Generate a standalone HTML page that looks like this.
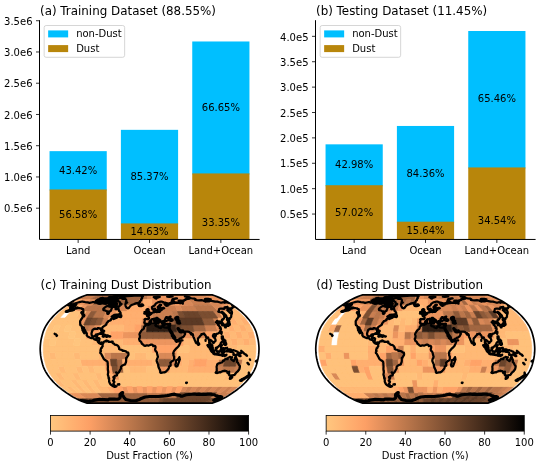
<!DOCTYPE html>
<html><head><meta charset="utf-8"><title>Dust dataset figure</title>
<style>html,body{margin:0;padding:0;background:#fff}svg{display:block}</style></head>
<body>
<svg width="550" height="463" viewBox="0 0 550 463" font-family="'DejaVu Sans','Liberation Sans',sans-serif" fill="#000">
<rect x="49.55" y="151.15" width="57.2" height="39.34" fill="#00bfff"/>
<rect x="49.55" y="189.49" width="57.2" height="49.96" fill="#b8860b"/>
<text x="78.15" y="173.57" text-anchor="middle" font-size="10">43.42%</text>
<text x="78.15" y="217.77" text-anchor="middle" font-size="10">56.58%</text>
<rect x="120.9" y="129.84" width="57.2" height="94.57" fill="#00bfff"/>
<rect x="120.9" y="223.42" width="57.2" height="16.03" fill="#b8860b"/>
<text x="149.5" y="179.88" text-anchor="middle" font-size="10">85.37%</text>
<text x="149.5" y="234.73" text-anchor="middle" font-size="10">14.63%</text>
<rect x="192.25" y="41.48" width="57.2" height="132.95" fill="#00bfff"/>
<rect x="192.25" y="173.43" width="57.2" height="66.02" fill="#b8860b"/>
<text x="220.85" y="110.71" text-anchor="middle" font-size="10">66.65%</text>
<text x="220.85" y="226.3" text-anchor="middle" font-size="10">33.35%</text>
<path d="M39.5 20.7 V239.45 H259.1" fill="none" stroke="#000" stroke-width="1" stroke-linecap="square"/>
<path d="M39.5 208.2h-3.5" stroke="#000" stroke-width="0.8"/>
<text x="32.5" y="212.4" text-anchor="end" font-size="10">0.5e6</text>
<path d="M39.5 176.96h-3.5" stroke="#000" stroke-width="0.8"/>
<text x="32.5" y="181.16" text-anchor="end" font-size="10">1.0e6</text>
<path d="M39.5 145.71h-3.5" stroke="#000" stroke-width="0.8"/>
<text x="32.5" y="149.91" text-anchor="end" font-size="10">1.5e6</text>
<path d="M39.5 114.47h-3.5" stroke="#000" stroke-width="0.8"/>
<text x="32.5" y="118.67" text-anchor="end" font-size="10">2.0e6</text>
<path d="M39.5 83.22h-3.5" stroke="#000" stroke-width="0.8"/>
<text x="32.5" y="87.42" text-anchor="end" font-size="10">2.5e6</text>
<path d="M39.5 51.98h-3.5" stroke="#000" stroke-width="0.8"/>
<text x="32.5" y="56.18" text-anchor="end" font-size="10">3.0e6</text>
<path d="M39.5 20.73h-3.5" stroke="#000" stroke-width="0.8"/>
<text x="32.5" y="24.93" text-anchor="end" font-size="10">3.5e6</text>
<path d="M78.15 239.45v3.5" stroke="#000" stroke-width="0.8"/>
<text x="78.15" y="253.75" text-anchor="middle" font-size="10">Land</text>
<path d="M149.5 239.45v3.5" stroke="#000" stroke-width="0.8"/>
<text x="149.5" y="253.75" text-anchor="middle" font-size="10">Ocean</text>
<path d="M220.85 239.45v3.5" stroke="#000" stroke-width="0.8"/>
<text x="220.85" y="253.75" text-anchor="middle" font-size="10">Land+Ocean</text>
<rect x="44.15" y="25.5" width="80.5" height="31.8" rx="2" ry="2" fill="#fff" fill-opacity="0.8" stroke="#ccc" stroke-width="0.8"/>
<rect x="48.15" y="30.4" width="20" height="7" fill="#00bfff"/>
<rect x="48.15" y="45.1" width="20" height="7" fill="#b8860b"/>
<text x="76.15" y="37.3" font-size="10">non-Dust</text>
<text x="76.15" y="52" font-size="10">Dust</text>
<text x="40" y="15.1" font-size="11.9">(a) Training Dataset (88.55%)</text>
<rect x="325.55" y="144.34" width="57.2" height="41.88" fill="#00bfff"/>
<rect x="325.55" y="185.22" width="57.2" height="54.23" fill="#b8860b"/>
<text x="354.15" y="168.03" text-anchor="middle" font-size="10">42.98%</text>
<text x="354.15" y="215.63" text-anchor="middle" font-size="10">57.02%</text>
<rect x="396.9" y="125.96" width="57.2" height="96.74" fill="#00bfff"/>
<rect x="396.9" y="221.7" width="57.2" height="17.75" fill="#b8860b"/>
<text x="425.5" y="177.08" text-anchor="middle" font-size="10">84.36%</text>
<text x="425.5" y="233.87" text-anchor="middle" font-size="10">15.64%</text>
<rect x="468.25" y="31" width="57.2" height="137.45" fill="#00bfff"/>
<rect x="468.25" y="167.44" width="57.2" height="72.01" fill="#b8860b"/>
<text x="496.85" y="102.47" text-anchor="middle" font-size="10">65.46%</text>
<text x="496.85" y="224.4" text-anchor="middle" font-size="10">34.54%</text>
<path d="M315.5 20.7 V239.45 H535.1" fill="none" stroke="#000" stroke-width="1" stroke-linecap="square"/>
<path d="M315.5 214.06h-3.5" stroke="#000" stroke-width="0.8"/>
<text x="308.5" y="218.26" text-anchor="end" font-size="10">0.5e5</text>
<path d="M315.5 188.67h-3.5" stroke="#000" stroke-width="0.8"/>
<text x="308.5" y="192.87" text-anchor="end" font-size="10">1.0e5</text>
<path d="M315.5 163.28h-3.5" stroke="#000" stroke-width="0.8"/>
<text x="308.5" y="167.48" text-anchor="end" font-size="10">1.5e5</text>
<path d="M315.5 137.89h-3.5" stroke="#000" stroke-width="0.8"/>
<text x="308.5" y="142.09" text-anchor="end" font-size="10">2.0e5</text>
<path d="M315.5 112.5h-3.5" stroke="#000" stroke-width="0.8"/>
<text x="308.5" y="116.7" text-anchor="end" font-size="10">2.5e5</text>
<path d="M315.5 87.11h-3.5" stroke="#000" stroke-width="0.8"/>
<text x="308.5" y="91.31" text-anchor="end" font-size="10">3.0e5</text>
<path d="M315.5 61.72h-3.5" stroke="#000" stroke-width="0.8"/>
<text x="308.5" y="65.92" text-anchor="end" font-size="10">3.5e5</text>
<path d="M315.5 36.33h-3.5" stroke="#000" stroke-width="0.8"/>
<text x="308.5" y="40.53" text-anchor="end" font-size="10">4.0e5</text>
<path d="M354.15 239.45v3.5" stroke="#000" stroke-width="0.8"/>
<text x="354.15" y="253.75" text-anchor="middle" font-size="10">Land</text>
<path d="M425.5 239.45v3.5" stroke="#000" stroke-width="0.8"/>
<text x="425.5" y="253.75" text-anchor="middle" font-size="10">Ocean</text>
<path d="M496.85 239.45v3.5" stroke="#000" stroke-width="0.8"/>
<text x="496.85" y="253.75" text-anchor="middle" font-size="10">Land+Ocean</text>
<rect x="320.15" y="25.5" width="80.5" height="31.8" rx="2" ry="2" fill="#fff" fill-opacity="0.8" stroke="#ccc" stroke-width="0.8"/>
<rect x="324.15" y="30.4" width="20" height="7" fill="#00bfff"/>
<rect x="324.15" y="45.1" width="20" height="7" fill="#b8860b"/>
<text x="352.15" y="37.3" font-size="10">non-Dust</text>
<text x="352.15" y="52" font-size="10">Dust</text>
<text x="316" y="15.1" font-size="11.9">(b) Testing Dataset (11.45%)</text>
<clipPath id="clipc"><path d="M212.2 403.12 L214.79 402.19 L217.57 401.09 L220.45 399.86 L223.25 398.55 L225.82 397.18 L228.21 395.77 L230.5 394.32 L232.71 392.82 L234.87 391.29 L236.97 389.73 L239 388.15 L240.95 386.53 L242.81 384.9 L244.55 383.25 L246.15 381.58 L247.64 379.89 L249.08 378.2 L250.42 376.49 L251.64 374.78 L252.73 373.07 L253.73 371.35 L254.62 369.63 L255.4 367.91 L256.05 366.19 L256.58 364.47 L257.05 362.75 L257.5 361.03 L257.91 359.31 L258.24 357.59 L258.5 355.88 L258.7 354.16 L258.85 352.44 L258.95 350.72 L259 349 L258.95 347.28 L258.85 345.56 L258.7 343.84 L258.5 342.12 L258.24 340.41 L257.91 338.69 L257.5 336.97 L257.05 335.25 L256.58 333.53 L256.05 331.81 L255.4 330.09 L254.62 328.37 L253.73 326.65 L252.73 324.93 L251.64 323.22 L250.42 321.51 L249.08 319.8 L247.64 318.11 L246.15 316.42 L244.55 314.75 L242.81 313.1 L240.95 311.47 L239 309.85 L236.97 308.27 L234.87 306.71 L232.71 305.18 L230.5 303.68 L228.21 302.23 L225.82 300.82 L223.25 299.45 L220.45 298.14 L217.57 296.91 L214.79 295.81 L212.2 294.88 L87 294.88 L84.41 295.81 L81.63 296.91 L78.75 298.14 L75.95 299.45 L73.38 300.82 L70.99 302.23 L68.7 303.68 L66.49 305.18 L64.33 306.71 L62.23 308.27 L60.2 309.85 L58.25 311.47 L56.39 313.1 L54.65 314.75 L53.05 316.42 L51.56 318.11 L50.12 319.8 L48.78 321.51 L47.56 323.22 L46.47 324.93 L45.47 326.65 L44.58 328.37 L43.8 330.09 L43.15 331.81 L42.62 333.53 L42.15 335.25 L41.7 336.97 L41.29 338.69 L40.96 340.41 L40.7 342.12 L40.5 343.84 L40.35 345.56 L40.25 347.28 L40.2 349 L40.25 350.72 L40.35 352.44 L40.5 354.16 L40.7 355.88 L40.96 357.59 L41.29 359.31 L41.7 361.03 L42.15 362.75 L42.62 364.47 L43.15 366.19 L43.8 367.91 L44.58 369.63 L45.47 371.35 L46.47 373.07 L47.56 374.78 L48.78 376.49 L50.12 378.2 L51.56 379.89 L53.05 381.58 L54.65 383.25 L56.39 384.9 L58.25 386.53 L60.2 388.15 L62.23 389.73 L64.33 391.29 L66.49 392.82 L68.7 394.32 L70.99 395.77 L73.38 397.18 L75.95 398.55 L78.75 399.86 L81.63 401.09 L84.41 402.19 L87 403.12 Z"/></clipPath>
<g clip-path="url(#clipc)">
<path d="M212.2 403.12 L214.79 402.19 L217.57 401.09 L220.45 399.86 L223.25 398.55 L225.82 397.18 L228.21 395.77 L230.5 394.32 L232.71 392.82 L234.87 391.29 L236.97 389.73 L239 388.15 L240.95 386.53 L242.81 384.9 L244.55 383.25 L246.15 381.58 L247.64 379.89 L249.08 378.2 L250.42 376.49 L251.64 374.78 L252.73 373.07 L253.73 371.35 L254.62 369.63 L255.4 367.91 L256.05 366.19 L256.58 364.47 L257.05 362.75 L257.5 361.03 L257.91 359.31 L258.24 357.59 L258.5 355.88 L258.7 354.16 L258.85 352.44 L258.95 350.72 L259 349 L258.95 347.28 L258.85 345.56 L258.7 343.84 L258.5 342.12 L258.24 340.41 L257.91 338.69 L257.5 336.97 L257.05 335.25 L256.58 333.53 L256.05 331.81 L255.4 330.09 L254.62 328.37 L253.73 326.65 L252.73 324.93 L251.64 323.22 L250.42 321.51 L249.08 319.8 L247.64 318.11 L246.15 316.42 L244.55 314.75 L242.81 313.1 L240.95 311.47 L239 309.85 L236.97 308.27 L234.87 306.71 L232.71 305.18 L230.5 303.68 L228.21 302.23 L225.82 300.82 L223.25 299.45 L220.45 298.14 L217.57 296.91 L214.79 295.81 L212.2 294.88 L87 294.88 L84.41 295.81 L81.63 296.91 L78.75 298.14 L75.95 299.45 L73.38 300.82 L70.99 302.23 L68.7 303.68 L66.49 305.18 L64.33 306.71 L62.23 308.27 L60.2 309.85 L58.25 311.47 L56.39 313.1 L54.65 314.75 L53.05 316.42 L51.56 318.11 L50.12 319.8 L48.78 321.51 L47.56 323.22 L46.47 324.93 L45.47 326.65 L44.58 328.37 L43.8 330.09 L43.15 331.81 L42.62 333.53 L42.15 335.25 L41.7 336.97 L41.29 338.69 L40.96 340.41 L40.7 342.12 L40.5 343.84 L40.35 345.56 L40.25 347.28 L40.2 349 L40.25 350.72 L40.35 352.44 L40.5 354.16 L40.7 355.88 L40.96 357.59 L41.29 359.31 L41.7 361.03 L42.15 362.75 L42.62 364.47 L43.15 366.19 L43.8 367.91 L44.58 369.63 L45.47 371.35 L46.47 373.07 L47.56 374.78 L48.78 376.49 L50.12 378.2 L51.56 379.89 L53.05 381.58 L54.65 383.25 L56.39 384.9 L58.25 386.53 L60.2 388.15 L62.23 389.73 L64.33 391.29 L66.49 392.82 L68.7 394.32 L70.99 395.77 L73.38 397.18 L75.95 398.55 L78.75 399.86 L81.63 401.09 L84.41 402.19 L87 403.12 Z" fill="#ffffff"/>
<path d="M92.22 294.88 L87.29 296.91 L82.09 299.45 L78 299.45 L83.52 296.91 L88.74 294.88ZM95.7 294.88 L91.07 296.91 L86.18 299.45 L82.09 299.45 L87.29 296.91 L92.22 294.88ZM99.17 294.88 L94.85 296.91 L90.27 299.45 L86.18 299.45 L91.07 296.91 L95.7 294.88ZM192.56 299.45 L195.46 302.23 L198.08 305.18 L193.46 305.18 L191.09 302.23 L188.47 299.45ZM196.65 299.45 L199.83 302.23 L202.7 305.18 L198.08 305.18 L195.46 302.23 L192.56 299.45ZM200.74 299.45 L204.19 302.23 L207.32 305.18 L202.7 305.18 L199.83 302.23 L196.65 299.45ZM204.84 299.45 L208.56 302.23 L211.93 305.18 L207.32 305.18 L204.19 302.23 L200.74 299.45ZM165.76 305.18 L166.59 308.27 L167.36 311.47 L162.29 311.47 L161.73 308.27 L161.14 305.18ZM170.38 305.18 L171.44 308.27 L172.44 311.47 L167.36 311.47 L166.59 308.27 L165.76 305.18ZM175 305.18 L176.3 308.27 L177.51 311.47 L172.44 311.47 L171.44 308.27 L170.38 305.18ZM184.23 305.18 L186 308.27 L187.66 311.47 L182.59 311.47 L181.15 308.27 L179.61 305.18ZM188.85 305.18 L190.86 308.27 L192.74 311.47 L187.66 311.47 L186 308.27 L184.23 305.18ZM193.46 305.18 L195.71 308.27 L197.81 311.47 L192.74 311.47 L190.86 308.27 L188.85 305.18ZM157.21 311.47 L157.51 314.75 L157.77 318.11 L152.32 318.11 L152.24 314.75 L152.14 311.47ZM162.29 311.47 L162.79 314.75 L163.22 318.11 L157.77 318.11 L157.51 314.75 L157.21 311.47ZM167.36 311.47 L168.06 314.75 L168.66 318.11 L163.22 318.11 L162.79 314.75 L162.29 311.47ZM172.44 311.47 L173.34 314.75 L174.11 318.11 L168.66 318.11 L168.06 314.75 L167.36 311.47ZM218.11 311.47 L220.81 314.75 L223.13 318.11 L217.69 318.11 L215.54 314.75 L213.04 311.47ZM108.75 318.11 L107.59 321.51 L106.63 324.93 L100.9 324.93 L101.99 321.51 L103.3 318.11ZM157.77 318.11 L158 321.51 L158.19 324.93 L152.46 324.93 L152.4 321.51 L152.32 318.11ZM163.22 318.11 L163.6 321.51 L163.92 324.93 L158.19 324.93 L158 321.51 L157.77 318.11ZM168.66 318.11 L169.2 321.51 L169.65 324.93 L163.92 324.93 L163.6 321.51 L163.22 318.11ZM217.69 318.11 L219.62 321.51 L221.22 324.93 L215.49 324.93 L214.01 321.51 L212.24 318.11ZM95.17 324.93 L94.17 328.37 L93.42 331.81 L87.51 331.81 L88.34 328.37 L89.44 324.93ZM209.76 324.93 L210.86 328.37 L211.69 331.81 L205.78 331.81 L205.03 328.37 L204.03 324.93ZM215.49 324.93 L216.7 328.37 L217.61 331.81 L211.69 331.81 L210.86 328.37 L209.76 324.93ZM223.52 366.19 L222.53 369.63 L221.22 373.07 L215.49 373.07 L216.7 369.63 L217.61 366.19ZM241.26 366.19 L240.04 369.63 L238.41 373.07 L232.68 373.07 L234.2 369.63 L235.35 366.19ZM192.74 386.53 L190.86 389.73 L188.85 392.82 L184.23 392.82 L186 389.73 L187.66 386.53ZM202.89 386.53 L200.56 389.73 L198.08 392.82 L193.46 392.82 L195.71 389.73 L197.81 386.53ZM213.04 386.53 L210.27 389.73 L207.32 392.82 L202.7 392.82 L205.42 389.73 L207.96 386.53ZM223.19 386.53 L219.98 389.73 L216.55 392.82 L211.93 392.82 L215.13 389.73 L218.11 386.53ZM233.34 386.53 L229.69 389.73 L225.79 392.82 L221.17 392.82 L224.83 389.73 L228.26 386.53ZM221.17 392.82 L217.3 395.77 L213.02 398.55 L208.93 398.55 L212.93 395.77 L216.55 392.82ZM225.79 392.82 L221.66 395.77 L217.11 398.55 L213.02 398.55 L217.3 395.77 L221.17 392.82ZM230.4 392.82 L226.03 395.77 L221.2 398.55 L217.11 398.55 L221.66 395.77 L225.79 392.82Z" fill="#ca7f51" stroke="#ca7f51" stroke-width="0.7"/>
<path d="M102.65 294.88 L98.62 296.91 L94.36 299.45 L90.27 299.45 L94.85 296.91 L99.17 294.88ZM106.13 294.88 L102.4 296.91 L98.46 299.45 L94.36 299.45 L98.62 296.91 L102.65 294.88ZM109.61 294.88 L106.17 296.91 L102.55 299.45 L98.46 299.45 L102.4 296.91 L106.13 294.88ZM113.08 294.88 L109.95 296.91 L106.64 299.45 L102.55 299.45 L106.17 296.91 L109.61 294.88ZM116.56 294.88 L113.73 296.91 L110.73 299.45 L106.64 299.45 L109.95 296.91 L113.08 294.88ZM120.04 294.88 L117.5 296.91 L114.82 299.45 L110.73 299.45 L113.73 296.91 L116.56 294.88ZM123.52 294.88 L121.28 296.91 L118.91 299.45 L114.82 299.45 L117.5 296.91 L120.04 294.88ZM126.99 294.88 L125.06 296.91 L123 299.45 L118.91 299.45 L121.28 296.91 L123.52 294.88ZM130.47 294.88 L128.83 296.91 L127.1 299.45 L123 299.45 L125.06 296.91 L126.99 294.88ZM133.95 294.88 L132.61 296.91 L131.19 299.45 L127.1 299.45 L128.83 296.91 L130.47 294.88ZM137.43 294.88 L136.38 296.91 L135.28 299.45 L131.19 299.45 L132.61 296.91 L133.95 294.88ZM140.91 294.88 L140.16 296.91 L139.37 299.45 L135.28 299.45 L136.38 296.91 L137.43 294.88ZM144.38 294.88 L143.94 296.91 L143.46 299.45 L139.37 299.45 L140.16 296.91 L140.91 294.88ZM102.55 299.45 L99.37 302.23 L96.5 305.18 L91.88 305.18 L95.01 302.23 L98.46 299.45ZM106.64 299.45 L103.74 302.23 L101.12 305.18 L96.5 305.18 L99.37 302.23 L102.55 299.45ZM110.73 299.45 L108.11 302.23 L105.74 305.18 L101.12 305.18 L103.74 302.23 L106.64 299.45ZM114.82 299.45 L112.48 302.23 L110.35 305.18 L105.74 305.18 L108.11 302.23 L110.73 299.45ZM118.91 299.45 L116.84 302.23 L114.97 305.18 L110.35 305.18 L112.48 302.23 L114.82 299.45ZM123 299.45 L121.21 302.23 L119.59 305.18 L114.97 305.18 L116.84 302.23 L118.91 299.45ZM127.1 299.45 L125.58 302.23 L124.2 305.18 L119.59 305.18 L121.21 302.23 L123 299.45ZM131.19 299.45 L129.95 302.23 L128.82 305.18 L124.2 305.18 L125.58 302.23 L127.1 299.45ZM135.28 299.45 L134.31 302.23 L133.44 305.18 L128.82 305.18 L129.95 302.23 L131.19 299.45ZM139.37 299.45 L138.68 302.23 L138.06 305.18 L133.44 305.18 L134.31 302.23 L135.28 299.45ZM174.11 318.11 L174.81 321.51 L175.38 324.93 L169.65 324.93 L169.2 321.51 L168.66 318.11ZM146.74 324.93 L146.68 328.37 L146.64 331.81 L140.73 331.81 L140.85 328.37 L141.01 324.93ZM198.3 324.93 L199.19 328.37 L199.87 331.81 L193.95 331.81 L193.36 328.37 L192.57 324.93ZM204.03 324.93 L205.03 328.37 L205.78 331.81 L199.87 331.81 L199.19 328.37 L198.3 324.93ZM122.52 359.31 L122.74 362.75 L122.99 366.19 L117.07 366.19 L116.77 362.75 L116.51 359.31ZM122.99 366.19 L123.34 369.63 L123.82 373.07 L118.09 373.07 L117.51 369.63 L117.07 366.19ZM101.12 392.82 L103.74 395.77 L106.64 398.55 L102.55 398.55 L99.37 395.77 L96.5 392.82ZM105.74 392.82 L108.11 395.77 L110.73 398.55 L106.64 398.55 L103.74 395.77 L101.12 392.82ZM110.35 392.82 L112.48 395.77 L114.82 398.55 L110.73 398.55 L108.11 395.77 L105.74 392.82ZM114.97 392.82 L116.84 395.77 L118.91 398.55 L114.82 398.55 L112.48 395.77 L110.35 392.82ZM119.59 392.82 L121.21 395.77 L123 398.55 L118.91 398.55 L116.84 395.77 L114.97 392.82ZM124.2 392.82 L125.58 395.77 L127.1 398.55 L123 398.55 L121.21 395.77 L119.59 392.82ZM128.82 392.82 L129.95 395.77 L131.19 398.55 L127.1 398.55 L125.58 395.77 L124.2 392.82ZM133.44 392.82 L134.31 395.77 L135.28 398.55 L131.19 398.55 L129.95 395.77 L128.82 392.82ZM138.06 392.82 L138.68 395.77 L139.37 398.55 L135.28 398.55 L134.31 395.77 L133.44 392.82ZM142.67 392.82 L143.05 395.77 L143.46 398.55 L139.37 398.55 L138.68 395.77 L138.06 392.82ZM147.29 392.82 L147.42 395.77 L147.55 398.55 L143.46 398.55 L143.05 395.77 L142.67 392.82Z" fill="#a16641" stroke="#a16641" stroke-width="0.7"/>
<path d="M147.86 294.88 L147.71 296.91 L147.55 299.45 L143.46 299.45 L143.94 296.91 L144.38 294.88ZM91.88 305.18 L88.93 308.27 L86.16 311.47 L81.09 311.47 L84.07 308.27 L87.27 305.18ZM96.5 305.18 L93.78 308.27 L91.24 311.47 L86.16 311.47 L88.93 308.27 L91.88 305.18ZM101.12 305.18 L98.64 308.27 L96.31 311.47 L91.24 311.47 L93.78 308.27 L96.5 305.18ZM105.74 305.18 L103.49 308.27 L101.39 311.47 L96.31 311.47 L98.64 308.27 L101.12 305.18ZM110.35 305.18 L108.34 308.27 L106.46 311.47 L101.39 311.47 L103.49 308.27 L105.74 305.18ZM114.97 305.18 L113.2 308.27 L111.54 311.47 L106.46 311.47 L108.34 308.27 L110.35 305.18ZM198.08 305.18 L200.56 308.27 L202.89 311.47 L197.81 311.47 L195.71 308.27 L193.46 305.18ZM202.7 305.18 L205.42 308.27 L207.96 311.47 L202.89 311.47 L200.56 308.27 L198.08 305.18ZM207.32 305.18 L210.27 308.27 L213.04 311.47 L207.96 311.47 L205.42 308.27 L202.7 305.18ZM211.93 305.18 L215.13 308.27 L218.11 311.47 L213.04 311.47 L210.27 308.27 L207.32 305.18ZM101.39 311.47 L99.49 314.75 L97.85 318.11 L92.41 318.11 L94.21 314.75 L96.31 311.47ZM106.46 311.47 L104.76 314.75 L103.3 318.11 L97.85 318.11 L99.49 314.75 L101.39 311.47ZM177.51 311.47 L178.61 314.75 L179.56 318.11 L174.11 318.11 L173.34 314.75 L172.44 311.47ZM89.44 324.93 L88.34 328.37 L87.51 331.81 L81.59 331.81 L82.5 328.37 L83.71 324.93ZM116.22 352.44 L116.33 355.88 L116.51 359.31 L110.49 359.31 L110.28 355.88 L110.15 352.44ZM122.29 352.44 L122.38 355.88 L122.52 359.31 L116.51 359.31 L116.33 355.88 L116.22 352.44ZM128.36 352.44 L128.43 355.88 L128.54 359.31 L122.52 359.31 L122.38 355.88 L122.29 352.44ZM224.81 359.31 L224.22 362.75 L223.52 366.19 L217.61 366.19 L218.25 362.75 L218.8 359.31ZM242.86 359.31 L242.13 362.75 L241.26 366.19 L235.35 366.19 L236.16 362.75 L236.85 359.31ZM229.43 366.19 L228.37 369.63 L226.95 373.07 L221.22 373.07 L222.53 369.63 L223.52 366.19ZM235.35 366.19 L234.2 369.63 L232.68 373.07 L226.95 373.07 L228.37 369.63 L229.43 366.19ZM151.91 392.82 L151.78 395.77 L151.65 398.55 L147.55 398.55 L147.42 395.77 L147.29 392.82ZM156.53 392.82 L156.15 395.77 L155.74 398.55 L151.65 398.55 L151.78 395.77 L151.91 392.82ZM161.14 392.82 L160.52 395.77 L159.83 398.55 L155.74 398.55 L156.15 395.77 L156.53 392.82ZM165.76 392.82 L164.89 395.77 L163.92 398.55 L159.83 398.55 L160.52 395.77 L161.14 392.82ZM170.38 392.82 L169.25 395.77 L168.01 398.55 L163.92 398.55 L164.89 395.77 L165.76 392.82ZM175 392.82 L173.62 395.77 L172.1 398.55 L168.01 398.55 L169.25 395.77 L170.38 392.82ZM179.61 392.82 L177.99 395.77 L176.2 398.55 L172.1 398.55 L173.62 395.77 L175 392.82Z" fill="#ba764b" stroke="#ba764b" stroke-width="0.7"/>
<path d="M151.34 294.88 L151.49 296.91 L151.65 299.45 L147.55 299.45 L147.71 296.91 L147.86 294.88ZM189.59 294.88 L193.03 296.91 L196.65 299.45 L192.56 299.45 L189.25 296.91 L186.12 294.88ZM193.07 294.88 L196.8 296.91 L200.74 299.45 L196.65 299.45 L193.03 296.91 L189.59 294.88ZM196.55 294.88 L200.58 296.91 L204.84 299.45 L200.74 299.45 L196.8 296.91 L193.07 294.88ZM200.03 294.88 L204.35 296.91 L208.93 299.45 L204.84 299.45 L200.58 296.91 L196.55 294.88ZM203.5 294.88 L208.13 296.91 L213.02 299.45 L208.93 299.45 L204.35 296.91 L200.03 294.88ZM94.36 299.45 L90.64 302.23 L87.27 305.18 L82.65 305.18 L86.27 302.23 L90.27 299.45ZM98.46 299.45 L95.01 302.23 L91.88 305.18 L87.27 305.18 L90.64 302.23 L94.36 299.45ZM143.46 299.45 L143.05 302.23 L142.67 305.18 L138.06 305.18 L138.68 302.23 L139.37 299.45ZM184.38 299.45 L186.72 302.23 L188.85 305.18 L184.23 305.18 L182.36 302.23 L180.29 299.45ZM188.47 299.45 L191.09 302.23 L193.46 305.18 L188.85 305.18 L186.72 302.23 L184.38 299.45ZM208.93 299.45 L212.93 302.23 L216.55 305.18 L211.93 305.18 L208.56 302.23 L204.84 299.45ZM213.02 299.45 L217.3 302.23 L221.17 305.18 L216.55 305.18 L212.93 302.23 L208.93 299.45ZM217.11 299.45 L221.66 302.23 L225.79 305.18 L221.17 305.18 L217.3 302.23 L213.02 299.45ZM119.59 305.18 L118.05 308.27 L116.61 311.47 L111.54 311.47 L113.2 308.27 L114.97 305.18ZM124.2 305.18 L122.9 308.27 L121.69 311.47 L116.61 311.47 L118.05 308.27 L119.59 305.18ZM128.82 305.18 L127.76 308.27 L126.76 311.47 L121.69 311.47 L122.9 308.27 L124.2 305.18ZM156.53 305.18 L156.88 308.27 L157.21 311.47 L152.14 311.47 L152.03 308.27 L151.91 305.18ZM161.14 305.18 L161.73 308.27 L162.29 311.47 L157.21 311.47 L156.88 308.27 L156.53 305.18ZM179.61 305.18 L181.15 308.27 L182.59 311.47 L177.51 311.47 L176.3 308.27 L175 305.18ZM216.55 305.18 L219.98 308.27 L223.19 311.47 L218.11 311.47 L215.13 308.27 L211.93 305.18ZM221.17 305.18 L224.83 308.27 L228.26 311.47 L223.19 311.47 L219.98 308.27 L216.55 305.18ZM91.24 311.47 L88.94 314.75 L86.96 318.11 L81.51 318.11 L83.66 314.75 L86.16 311.47ZM111.54 311.47 L110.04 314.75 L108.75 318.11 L103.3 318.11 L104.76 314.75 L106.46 311.47ZM152.14 311.47 L152.24 314.75 L152.32 318.11 L146.88 318.11 L146.96 314.75 L147.06 311.47ZM152.32 318.11 L152.4 321.51 L152.46 324.93 L146.74 324.93 L146.8 321.51 L146.88 318.11ZM199.87 331.81 L200.34 335.25 L200.74 338.69 L194.73 338.69 L194.37 335.25 L193.95 331.81ZM205.78 331.81 L206.31 335.25 L206.76 338.69 L200.74 338.69 L200.34 335.25 L199.87 331.81ZM110.15 352.44 L110.28 355.88 L110.49 359.31 L104.47 359.31 L104.23 355.88 L104.08 352.44ZM164.77 352.44 L164.72 355.88 L164.64 359.31 L158.63 359.31 L158.67 355.88 L158.7 352.44ZM170.84 352.44 L170.77 355.88 L170.66 359.31 L164.64 359.31 L164.72 355.88 L164.77 352.44ZM176.91 352.44 L176.82 355.88 L176.68 359.31 L170.66 359.31 L170.77 355.88 L170.84 352.44ZM176.68 359.31 L176.46 362.75 L176.21 366.19 L170.3 366.19 L170.49 362.75 L170.66 359.31ZM187.66 386.53 L186 389.73 L184.23 392.82 L179.61 392.82 L181.15 389.73 L182.59 386.53ZM197.81 386.53 L195.71 389.73 L193.46 392.82 L188.85 392.82 L190.86 389.73 L192.74 386.53ZM207.96 386.53 L205.42 389.73 L202.7 392.82 L198.08 392.82 L200.56 389.73 L202.89 386.53ZM218.11 386.53 L215.13 389.73 L211.93 392.82 L207.32 392.82 L210.27 389.73 L213.04 386.53ZM228.26 386.53 L224.83 389.73 L221.17 392.82 L216.55 392.82 L219.98 389.73 L223.19 386.53ZM238.41 386.53 L234.54 389.73 L230.4 392.82 L225.79 392.82 L229.69 389.73 L233.34 386.53ZM82.65 392.82 L86.27 395.77 L90.27 398.55 L86.18 398.55 L81.9 395.77 L78.03 392.82ZM87.27 392.82 L90.64 395.77 L94.36 398.55 L90.27 398.55 L86.27 395.77 L82.65 392.82ZM91.88 392.82 L95.01 395.77 L98.46 398.55 L94.36 398.55 L90.64 395.77 L87.27 392.82ZM96.5 392.82 L99.37 395.77 L102.55 398.55 L98.46 398.55 L95.01 395.77 L91.88 392.82Z" fill="#d98958" stroke="#d98958" stroke-width="0.7"/>
<path d="M154.82 294.88 L155.26 296.91 L155.74 299.45 L151.65 299.45 L151.49 296.91 L151.34 294.88ZM158.29 294.88 L159.04 296.91 L159.83 299.45 L155.74 299.45 L155.26 296.91 L154.82 294.88ZM161.77 294.88 L162.82 296.91 L163.92 299.45 L159.83 299.45 L159.04 296.91 L158.29 294.88ZM165.25 294.88 L166.59 296.91 L168.01 299.45 L163.92 299.45 L162.82 296.91 L161.77 294.88ZM168.73 294.88 L170.37 296.91 L172.1 299.45 L168.01 299.45 L166.59 296.91 L165.25 294.88ZM172.21 294.88 L174.14 296.91 L176.2 299.45 L172.1 299.45 L170.37 296.91 L168.73 294.88ZM175.68 294.88 L177.92 296.91 L180.29 299.45 L176.2 299.45 L174.14 296.91 L172.21 294.88ZM179.16 294.88 L181.7 296.91 L184.38 299.45 L180.29 299.45 L177.92 296.91 L175.68 294.88ZM182.64 294.88 L185.47 296.91 L188.47 299.45 L184.38 299.45 L181.7 296.91 L179.16 294.88ZM186.12 294.88 L189.25 296.91 L192.56 299.45 L188.47 299.45 L185.47 296.91 L182.64 294.88ZM206.98 294.88 L211.91 296.91 L217.11 299.45 L213.02 299.45 L208.13 296.91 L203.5 294.88ZM210.46 294.88 L215.68 296.91 L221.2 299.45 L217.11 299.45 L211.91 296.91 L206.98 294.88ZM86.18 299.45 L81.9 302.23 L78.03 305.18 L73.41 305.18 L77.54 302.23 L82.09 299.45ZM90.27 299.45 L86.27 302.23 L82.65 305.18 L78.03 305.18 L81.9 302.23 L86.18 299.45ZM155.74 299.45 L156.15 302.23 L156.53 305.18 L151.91 305.18 L151.78 302.23 L151.65 299.45ZM159.83 299.45 L160.52 302.23 L161.14 305.18 L156.53 305.18 L156.15 302.23 L155.74 299.45ZM163.92 299.45 L164.89 302.23 L165.76 305.18 L161.14 305.18 L160.52 302.23 L159.83 299.45ZM168.01 299.45 L169.25 302.23 L170.38 305.18 L165.76 305.18 L164.89 302.23 L163.92 299.45ZM172.1 299.45 L173.62 302.23 L175 305.18 L170.38 305.18 L169.25 302.23 L168.01 299.45ZM176.2 299.45 L177.99 302.23 L179.61 305.18 L175 305.18 L173.62 302.23 L172.1 299.45ZM180.29 299.45 L182.36 302.23 L184.23 305.18 L179.61 305.18 L177.99 302.23 L176.2 299.45ZM221.2 299.45 L226.03 302.23 L230.4 305.18 L225.79 305.18 L221.66 302.23 L217.11 299.45ZM87.27 305.18 L84.07 308.27 L81.09 311.47 L76.01 311.47 L79.22 308.27 L82.65 305.18ZM151.91 305.18 L152.03 308.27 L152.14 311.47 L147.06 311.47 L147.17 308.27 L147.29 305.18ZM225.79 305.18 L229.69 308.27 L233.34 311.47 L228.26 311.47 L224.83 308.27 L221.17 305.18ZM116.61 311.47 L115.31 314.75 L114.2 318.11 L108.75 318.11 L110.04 314.75 L111.54 311.47ZM86.96 318.11 L85.19 321.51 L83.71 324.93 L77.98 324.93 L79.58 321.51 L81.51 318.11ZM146.88 318.11 L146.8 321.51 L146.74 324.93 L141.01 324.93 L141.2 321.51 L141.43 318.11ZM100.9 324.93 L100.01 328.37 L99.33 331.81 L93.42 331.81 L94.17 328.37 L95.17 324.93ZM221.22 324.93 L222.53 328.37 L223.52 331.81 L217.61 331.81 L216.7 328.37 L215.49 324.93ZM128.9 331.81 L128.71 335.25 L128.54 338.69 L122.52 338.69 L122.74 335.25 L122.99 331.81ZM134.82 331.81 L134.68 335.25 L134.56 338.69 L128.54 338.69 L128.71 335.25 L128.9 331.81ZM140.73 331.81 L140.65 335.25 L140.57 338.69 L134.56 338.69 L134.68 335.25 L134.82 331.81ZM188.04 331.81 L188.4 335.25 L188.71 338.69 L182.69 338.69 L182.43 335.25 L182.13 331.81ZM193.95 331.81 L194.37 335.25 L194.73 338.69 L188.71 338.69 L188.4 335.25 L188.04 331.81ZM146.59 338.69 L146.58 342.12 L146.57 345.56 L140.5 345.56 L140.53 342.12 L140.57 338.69ZM152.61 338.69 L152.62 342.12 L152.63 345.56 L146.57 345.56 L146.58 342.12 L146.59 338.69ZM158.63 338.69 L158.67 342.12 L158.7 345.56 L152.63 345.56 L152.62 342.12 L152.61 338.69ZM164.64 338.69 L164.72 342.12 L164.77 345.56 L158.7 345.56 L158.67 342.12 L158.63 338.69ZM170.66 338.69 L170.77 342.12 L170.84 345.56 L164.77 345.56 L164.72 342.12 L164.64 338.69ZM176.68 338.69 L176.82 342.12 L176.91 345.56 L170.84 345.56 L170.77 342.12 L170.66 338.69ZM110.49 359.31 L110.8 362.75 L111.16 366.19 L105.25 366.19 L104.83 362.75 L104.47 359.31ZM164.38 366.19 L164.19 369.63 L163.92 373.07 L158.19 373.07 L158.35 369.63 L158.47 366.19ZM170.3 366.19 L170.02 369.63 L169.65 373.07 L163.92 373.07 L164.19 369.63 L164.38 366.19ZM118.09 373.07 L118.79 376.49 L119.64 379.89 L114.2 379.89 L113.19 376.49 L112.36 373.07ZM126.76 386.53 L127.76 389.73 L128.82 392.82 L124.2 392.82 L122.9 389.73 L121.69 386.53ZM136.91 386.53 L137.47 389.73 L138.06 392.82 L133.44 392.82 L132.61 389.73 L131.84 386.53ZM147.06 386.53 L147.17 389.73 L147.29 392.82 L142.67 392.82 L142.32 389.73 L141.99 386.53ZM157.21 386.53 L156.88 389.73 L156.53 392.82 L151.91 392.82 L152.03 389.73 L152.14 386.53ZM167.36 386.53 L166.59 389.73 L165.76 392.82 L161.14 392.82 L161.73 389.73 L162.29 386.53ZM177.51 386.53 L176.3 389.73 L175 392.82 L170.38 392.82 L171.44 389.73 L172.44 386.53ZM73.41 392.82 L77.54 395.77 L82.09 398.55 L78 398.55 L73.17 395.77 L68.8 392.82ZM78.03 392.82 L81.9 395.77 L86.18 398.55 L82.09 398.55 L77.54 395.77 L73.41 392.82Z" fill="#ec955f" stroke="#ec955f" stroke-width="0.7"/>
<path d="M82.09 299.45 L77.54 302.23 L73.41 305.18 L68.8 305.18 L73.17 302.23 L78 299.45ZM147.55 299.45 L147.42 302.23 L147.29 305.18 L142.67 305.18 L143.05 302.23 L143.46 299.45ZM151.65 299.45 L151.78 302.23 L151.91 305.18 L147.29 305.18 L147.42 302.23 L147.55 299.45ZM82.65 305.18 L79.22 308.27 L76.01 311.47 L70.94 311.47 L74.37 308.27 L78.03 305.18ZM133.44 305.18 L132.61 308.27 L131.84 311.47 L126.76 311.47 L127.76 308.27 L128.82 305.18ZM138.06 305.18 L137.47 308.27 L136.91 311.47 L131.84 311.47 L132.61 308.27 L133.44 305.18ZM142.67 305.18 L142.32 308.27 L141.99 311.47 L136.91 311.47 L137.47 308.27 L138.06 305.18ZM147.29 305.18 L147.17 308.27 L147.06 311.47 L141.99 311.47 L142.32 308.27 L142.67 305.18ZM121.69 311.47 L120.59 314.75 L119.64 318.11 L114.2 318.11 L115.31 314.75 L116.61 311.47ZM126.76 311.47 L125.86 314.75 L125.09 318.11 L119.64 318.11 L120.59 314.75 L121.69 311.47ZM131.84 311.47 L131.14 314.75 L130.54 318.11 L125.09 318.11 L125.86 314.75 L126.76 311.47ZM136.91 311.47 L136.41 314.75 L135.98 318.11 L130.54 318.11 L131.14 314.75 L131.84 311.47ZM141.99 311.47 L141.69 314.75 L141.43 318.11 L135.98 318.11 L136.41 314.75 L136.91 311.47ZM147.06 311.47 L146.96 314.75 L146.88 318.11 L141.43 318.11 L141.69 314.75 L141.99 311.47ZM223.19 311.47 L226.09 314.75 L228.58 318.11 L223.13 318.11 L220.81 314.75 L218.11 311.47ZM114.2 318.11 L113.19 321.51 L112.36 324.93 L106.63 324.93 L107.59 321.51 L108.75 318.11ZM119.64 318.11 L118.79 321.51 L118.09 324.93 L112.36 324.93 L113.19 321.51 L114.2 318.11ZM125.09 318.11 L124.39 321.51 L123.82 324.93 L118.09 324.93 L118.79 321.51 L119.64 318.11ZM130.54 318.11 L130 321.51 L129.55 324.93 L123.82 324.93 L124.39 321.51 L125.09 318.11ZM135.98 318.11 L135.6 321.51 L135.28 324.93 L129.55 324.93 L130 321.51 L130.54 318.11ZM141.43 318.11 L141.2 321.51 L141.01 324.93 L135.28 324.93 L135.6 321.51 L135.98 318.11ZM223.13 318.11 L225.22 321.51 L226.95 324.93 L221.22 324.93 L219.62 321.51 L217.69 318.11ZM234.03 318.11 L236.42 321.51 L238.41 324.93 L232.68 324.93 L230.82 321.51 L228.58 318.11ZM244.92 318.11 L247.62 321.51 L249.87 324.93 L244.14 324.93 L242.02 321.51 L239.47 318.11ZM129.55 324.93 L129.18 328.37 L128.9 331.81 L122.99 331.81 L123.34 328.37 L123.82 324.93ZM135.28 324.93 L135.01 328.37 L134.82 331.81 L128.9 331.81 L129.18 328.37 L129.55 324.93ZM232.68 324.93 L234.2 328.37 L235.35 331.81 L229.43 331.81 L228.37 328.37 L226.95 324.93ZM244.14 324.93 L245.87 328.37 L247.18 331.81 L241.26 331.81 L240.04 328.37 L238.41 324.93ZM217.61 331.81 L218.25 335.25 L218.8 338.69 L212.78 338.69 L212.28 335.25 L211.69 331.81ZM229.43 331.81 L230.19 335.25 L230.83 338.69 L224.81 338.69 L224.22 335.25 L223.52 331.81ZM241.26 331.81 L242.13 335.25 L242.86 338.69 L236.85 338.69 L236.16 335.25 L235.35 331.81ZM253.09 331.81 L254.07 335.25 L254.9 338.69 L248.88 338.69 L248.1 335.25 L247.18 331.81ZM128.54 338.69 L128.43 342.12 L128.36 345.56 L122.29 345.56 L122.38 342.12 L122.52 338.69ZM134.56 338.69 L134.48 342.12 L134.43 345.56 L128.36 345.56 L128.43 342.12 L128.54 338.69ZM140.57 338.69 L140.53 342.12 L140.5 345.56 L134.43 345.56 L134.48 342.12 L134.56 338.69ZM224.81 338.69 L225.22 342.12 L225.47 345.56 L219.4 345.56 L219.17 342.12 L218.8 338.69ZM236.85 338.69 L237.32 342.12 L237.6 345.56 L231.54 345.56 L231.27 342.12 L230.83 338.69ZM248.88 338.69 L249.42 342.12 L249.74 345.56 L243.67 345.56 L243.37 342.12 L242.86 338.69ZM86.42 359.31 L86.92 362.75 L87.51 366.19 L81.59 366.19 L80.95 362.75 L80.4 359.31ZM92.44 359.31 L92.89 362.75 L93.42 366.19 L87.51 366.19 L86.92 362.75 L86.42 359.31ZM98.46 359.31 L98.86 362.75 L99.33 366.19 L93.42 366.19 L92.89 362.75 L92.44 359.31ZM104.47 359.31 L104.83 362.75 L105.25 366.19 L99.33 366.19 L98.86 362.75 L98.46 359.31ZM128.54 359.31 L128.71 362.75 L128.9 366.19 L122.99 366.19 L122.74 362.75 L122.52 359.31ZM134.56 359.31 L134.68 362.75 L134.82 366.19 L128.9 366.19 L128.71 362.75 L128.54 359.31ZM140.57 359.31 L140.65 362.75 L140.73 366.19 L134.82 366.19 L134.68 362.75 L134.56 359.31ZM146.59 359.31 L146.62 362.75 L146.64 366.19 L140.73 366.19 L140.65 362.75 L140.57 359.31ZM152.61 359.31 L152.58 362.75 L152.56 366.19 L146.64 366.19 L146.62 362.75 L146.59 359.31ZM182.69 359.31 L182.43 362.75 L182.13 366.19 L176.21 366.19 L176.46 362.75 L176.68 359.31ZM194.73 359.31 L194.37 362.75 L193.95 366.19 L188.04 366.19 L188.4 362.75 L188.71 359.31ZM212.78 359.31 L212.28 362.75 L211.69 366.19 L205.78 366.19 L206.31 362.75 L206.76 359.31ZM218.8 359.31 L218.25 362.75 L217.61 366.19 L211.69 366.19 L212.28 362.75 L212.78 359.31ZM193.95 366.19 L193.36 369.63 L192.57 373.07 L186.84 373.07 L187.53 369.63 L188.04 366.19ZM199.87 366.19 L199.19 369.63 L198.3 373.07 L192.57 373.07 L193.36 369.63 L193.95 366.19ZM205.78 366.19 L205.03 369.63 L204.03 373.07 L198.3 373.07 L199.19 369.63 L199.87 366.19ZM211.69 366.19 L210.86 369.63 L209.76 373.07 L204.03 373.07 L205.03 369.63 L205.78 366.19ZM217.61 366.19 L216.7 369.63 L215.49 373.07 L209.76 373.07 L210.86 369.63 L211.69 366.19ZM112.36 373.07 L113.19 376.49 L114.2 379.89 L108.75 379.89 L107.59 376.49 L106.63 373.07ZM114.2 379.89 L115.31 383.25 L116.61 386.53 L111.54 386.53 L110.04 383.25 L108.75 379.89ZM111.54 386.53 L113.2 389.73 L114.97 392.82 L110.35 392.82 L108.34 389.73 L106.46 386.53Z" fill="#ffaf70" stroke="#ffaf70" stroke-width="0.7"/>
<path d="M73.41 305.18 L69.51 308.27 L65.86 311.47 L60.79 311.47 L64.66 308.27 L68.8 305.18ZM78.03 305.18 L74.37 308.27 L70.94 311.47 L65.86 311.47 L69.51 308.27 L73.41 305.18ZM230.4 305.18 L234.54 308.27 L238.41 311.47 L233.34 311.47 L229.69 308.27 L225.79 305.18ZM86.16 311.47 L83.66 314.75 L81.51 318.11 L76.07 318.11 L78.39 314.75 L81.09 311.47ZM228.26 311.47 L231.36 314.75 L234.03 318.11 L228.58 318.11 L226.09 314.75 L223.19 311.47ZM233.34 311.47 L236.64 314.75 L239.47 318.11 L234.03 318.11 L231.36 314.75 L228.26 311.47ZM238.41 311.47 L241.91 314.75 L244.92 318.11 L239.47 318.11 L236.64 314.75 L233.34 311.47ZM228.58 318.11 L230.82 321.51 L232.68 324.93 L226.95 324.93 L225.22 321.51 L223.13 318.11ZM239.47 318.11 L242.02 321.51 L244.14 324.93 L238.41 324.93 L236.42 321.51 L234.03 318.11ZM106.63 324.93 L105.84 328.37 L105.25 331.81 L99.33 331.81 L100.01 328.37 L100.9 324.93ZM112.36 324.93 L111.67 328.37 L111.16 331.81 L105.25 331.81 L105.84 328.37 L106.63 324.93ZM118.09 324.93 L117.51 328.37 L117.07 331.81 L111.16 331.81 L111.67 328.37 L112.36 324.93ZM123.82 324.93 L123.34 328.37 L122.99 331.81 L117.07 331.81 L117.51 328.37 L118.09 324.93ZM226.95 324.93 L228.37 328.37 L229.43 331.81 L223.52 331.81 L222.53 328.37 L221.22 324.93ZM238.41 324.93 L240.04 328.37 L241.26 331.81 L235.35 331.81 L234.2 328.37 L232.68 324.93ZM249.87 324.93 L251.71 328.37 L253.09 331.81 L247.18 331.81 L245.87 328.37 L244.14 324.93ZM105.25 331.81 L104.83 335.25 L104.47 338.69 L98.46 338.69 L98.86 335.25 L99.33 331.81ZM111.16 331.81 L110.8 335.25 L110.49 338.69 L104.47 338.69 L104.83 335.25 L105.25 331.81ZM223.52 331.81 L224.22 335.25 L224.81 338.69 L218.8 338.69 L218.25 335.25 L217.61 331.81ZM235.35 331.81 L236.16 335.25 L236.85 338.69 L230.83 338.69 L230.19 335.25 L229.43 331.81ZM247.18 331.81 L248.1 335.25 L248.88 338.69 L242.86 338.69 L242.13 335.25 L241.26 331.81ZM98.46 338.69 L98.18 342.12 L98.01 345.56 L91.94 345.56 L92.13 342.12 L92.44 338.69ZM104.47 338.69 L104.23 342.12 L104.08 345.56 L98.01 345.56 L98.18 342.12 L98.46 338.69ZM110.49 338.69 L110.28 342.12 L110.15 345.56 L104.08 345.56 L104.23 342.12 L104.47 338.69ZM116.51 338.69 L116.33 342.12 L116.22 345.56 L110.15 345.56 L110.28 342.12 L110.49 338.69ZM122.52 338.69 L122.38 342.12 L122.29 345.56 L116.22 345.56 L116.33 342.12 L116.51 338.69ZM188.71 338.69 L188.92 342.12 L189.05 345.56 L182.98 345.56 L182.87 342.12 L182.69 338.69ZM194.73 338.69 L194.97 342.12 L195.12 345.56 L189.05 345.56 L188.92 342.12 L188.71 338.69ZM200.74 338.69 L201.02 342.12 L201.19 345.56 L195.12 345.56 L194.97 342.12 L194.73 338.69ZM206.76 338.69 L207.07 342.12 L207.26 345.56 L201.19 345.56 L201.02 342.12 L200.74 338.69ZM212.78 338.69 L213.12 342.12 L213.33 345.56 L207.26 345.56 L207.07 342.12 L206.76 338.69ZM218.8 338.69 L219.17 342.12 L219.4 345.56 L213.33 345.56 L213.12 342.12 L212.78 338.69ZM230.83 338.69 L231.27 342.12 L231.54 345.56 L225.47 345.56 L225.22 342.12 L224.81 338.69ZM242.86 338.69 L243.37 342.12 L243.67 345.56 L237.6 345.56 L237.32 342.12 L236.85 338.69ZM254.9 338.69 L255.47 342.12 L255.81 345.56 L249.74 345.56 L249.42 342.12 L248.88 338.69ZM104.08 345.56 L104.02 349 L104.08 352.44 L98.01 352.44 L97.94 349 L98.01 345.56ZM110.15 345.56 L110.09 349 L110.15 352.44 L104.08 352.44 L104.02 349 L104.08 345.56ZM116.22 345.56 L116.17 349 L116.22 352.44 L110.15 352.44 L110.09 349 L110.15 345.56ZM122.29 345.56 L122.25 349 L122.29 352.44 L116.22 352.44 L116.17 349 L116.22 345.56ZM195.12 345.56 L195.18 349 L195.12 352.44 L189.05 352.44 L189.11 349 L189.05 345.56ZM201.19 345.56 L201.26 349 L201.19 352.44 L195.12 352.44 L195.18 349 L195.12 345.56ZM207.26 345.56 L207.34 349 L207.26 352.44 L201.19 352.44 L201.26 349 L201.19 345.56ZM213.33 345.56 L213.42 349 L213.33 352.44 L207.26 352.44 L207.34 349 L207.26 345.56ZM219.4 345.56 L219.49 349 L219.4 352.44 L213.33 352.44 L213.42 349 L213.33 345.56ZM225.47 345.56 L225.57 349 L225.47 352.44 L219.4 352.44 L219.49 349 L219.4 345.56ZM231.54 345.56 L231.65 349 L231.54 352.44 L225.47 352.44 L225.57 349 L225.47 345.56ZM237.6 345.56 L237.73 349 L237.6 352.44 L231.54 352.44 L231.65 349 L231.54 345.56ZM55.53 352.44 L55.83 355.88 L56.34 359.31 L50.32 359.31 L49.78 355.88 L49.46 352.44ZM79.8 352.44 L80.03 355.88 L80.4 359.31 L74.39 359.31 L73.98 355.88 L73.73 352.44ZM104.08 352.44 L104.23 355.88 L104.47 359.31 L98.46 359.31 L98.18 355.88 L98.01 352.44ZM140.5 352.44 L140.53 355.88 L140.57 359.31 L134.56 359.31 L134.48 355.88 L134.43 352.44ZM146.57 352.44 L146.58 355.88 L146.59 359.31 L140.57 359.31 L140.53 355.88 L140.5 352.44ZM182.98 352.44 L182.87 355.88 L182.69 359.31 L176.68 359.31 L176.82 355.88 L176.91 352.44ZM189.05 352.44 L188.92 355.88 L188.71 359.31 L182.69 359.31 L182.87 355.88 L182.98 352.44ZM195.12 352.44 L194.97 355.88 L194.73 359.31 L188.71 359.31 L188.92 355.88 L189.05 352.44ZM201.19 352.44 L201.02 355.88 L200.74 359.31 L194.73 359.31 L194.97 355.88 L195.12 352.44ZM207.26 352.44 L207.07 355.88 L206.76 359.31 L200.74 359.31 L201.02 355.88 L201.19 352.44ZM213.33 352.44 L213.12 355.88 L212.78 359.31 L206.76 359.31 L207.07 355.88 L207.26 352.44ZM219.4 352.44 L219.17 355.88 L218.8 359.31 L212.78 359.31 L213.12 355.88 L213.33 352.44ZM225.47 352.44 L225.22 355.88 L224.81 359.31 L218.8 359.31 L219.17 355.88 L219.4 352.44ZM231.54 352.44 L231.27 355.88 L230.83 359.31 L224.81 359.31 L225.22 355.88 L225.47 352.44ZM237.6 352.44 L237.32 355.88 L236.85 359.31 L230.83 359.31 L231.27 355.88 L231.54 352.44ZM243.67 352.44 L243.37 355.88 L242.86 359.31 L236.85 359.31 L237.32 355.88 L237.6 352.44ZM158.63 359.31 L158.55 362.75 L158.47 366.19 L152.56 366.19 L152.58 362.75 L152.61 359.31ZM188.71 359.31 L188.4 362.75 L188.04 366.19 L182.13 366.19 L182.43 362.75 L182.69 359.31ZM63.85 366.19 L65 369.63 L66.52 373.07 L60.79 373.07 L59.16 369.63 L57.94 366.19ZM81.59 366.19 L82.5 369.63 L83.71 373.07 L77.98 373.07 L76.67 369.63 L75.68 366.19ZM93.42 366.19 L94.17 369.63 L95.17 373.07 L89.44 373.07 L88.34 369.63 L87.51 366.19ZM134.82 366.19 L135.01 369.63 L135.28 373.07 L129.55 373.07 L129.18 369.63 L128.9 366.19ZM140.73 366.19 L140.85 369.63 L141.01 373.07 L135.28 373.07 L135.01 369.63 L134.82 366.19ZM146.64 366.19 L146.68 369.63 L146.74 373.07 L141.01 373.07 L140.85 369.63 L140.73 366.19ZM176.21 366.19 L175.86 369.63 L175.38 373.07 L169.65 373.07 L170.02 369.63 L170.3 366.19ZM182.13 366.19 L181.69 369.63 L181.11 373.07 L175.38 373.07 L175.86 369.63 L176.21 366.19ZM188.04 366.19 L187.53 369.63 L186.84 373.07 L181.11 373.07 L181.69 369.63 L182.13 366.19ZM60.79 373.07 L62.78 376.49 L65.17 379.89 L59.73 379.89 L57.18 376.49 L55.06 373.07ZM77.98 373.07 L79.58 376.49 L81.51 379.89 L76.07 379.89 L73.98 376.49 L72.25 373.07ZM100.9 373.07 L101.99 376.49 L103.3 379.89 L97.85 379.89 L96.39 376.49 L95.17 373.07ZM232.68 373.07 L230.82 376.49 L228.58 379.89 L223.13 379.89 L225.22 376.49 L226.95 373.07ZM238.41 373.07 L236.42 376.49 L234.03 379.89 L228.58 379.89 L230.82 376.49 L232.68 373.07ZM59.73 379.89 L62.56 383.25 L65.86 386.53 L60.79 386.53 L57.29 383.25 L54.28 379.89ZM76.07 379.89 L78.39 383.25 L81.09 386.53 L76.01 386.53 L73.11 383.25 L70.62 379.89ZM86.96 379.89 L88.94 383.25 L91.24 386.53 L86.16 386.53 L83.66 383.25 L81.51 379.89ZM97.85 379.89 L99.49 383.25 L101.39 386.53 L96.31 386.53 L94.21 383.25 L92.41 379.89ZM119.64 379.89 L120.59 383.25 L121.69 386.53 L116.61 386.53 L115.31 383.25 L114.2 379.89ZM70.94 386.53 L74.37 389.73 L78.03 392.82 L73.41 392.82 L69.51 389.73 L65.86 386.53ZM81.09 386.53 L84.07 389.73 L87.27 392.82 L82.65 392.82 L79.22 389.73 L76.01 386.53ZM91.24 386.53 L93.78 389.73 L96.5 392.82 L91.88 392.82 L88.93 389.73 L86.16 386.53ZM101.39 386.53 L103.49 389.73 L105.74 392.82 L101.12 392.82 L98.64 389.73 L96.31 386.53ZM106.46 386.53 L108.34 389.73 L110.35 392.82 L105.74 392.82 L103.49 389.73 L101.39 386.53Z" fill="#ffb976" stroke="#ffb976" stroke-width="0.7"/>
<path d="M65.86 311.47 L62.56 314.75 L59.73 318.11 L54.28 318.11 L57.29 314.75 L60.79 311.47ZM76.01 311.47 L73.11 314.75 L70.62 318.11 L65.17 318.11 L67.84 314.75 L70.94 311.47ZM81.09 311.47 L78.39 314.75 L76.07 318.11 L70.62 318.11 L73.11 314.75 L76.01 311.47ZM59.73 318.11 L57.18 321.51 L55.06 324.93 L49.33 324.93 L51.58 321.51 L54.28 318.11ZM65.17 318.11 L62.78 321.51 L60.79 324.93 L55.06 324.93 L57.18 321.51 L59.73 318.11ZM70.62 318.11 L68.38 321.51 L66.52 324.93 L60.79 324.93 L62.78 321.51 L65.17 318.11ZM76.07 318.11 L73.98 321.51 L72.25 324.93 L66.52 324.93 L68.38 321.51 L70.62 318.11ZM81.51 318.11 L79.58 321.51 L77.98 324.93 L72.25 324.93 L73.98 321.51 L76.07 318.11ZM55.06 324.93 L53.33 328.37 L52.02 331.81 L46.11 331.81 L47.49 328.37 L49.33 324.93ZM66.52 324.93 L65 328.37 L63.85 331.81 L57.94 331.81 L59.16 328.37 L60.79 324.93ZM77.98 324.93 L76.67 328.37 L75.68 331.81 L69.77 331.81 L70.83 328.37 L72.25 324.93ZM83.71 324.93 L82.5 328.37 L81.59 331.81 L75.68 331.81 L76.67 328.37 L77.98 324.93ZM57.94 331.81 L57.07 335.25 L56.34 338.69 L50.32 338.69 L51.1 335.25 L52.02 331.81ZM63.85 331.81 L63.04 335.25 L62.35 338.69 L56.34 338.69 L57.07 335.25 L57.94 331.81ZM69.77 331.81 L69.01 335.25 L68.37 338.69 L62.35 338.69 L63.04 335.25 L63.85 331.81ZM81.59 331.81 L80.95 335.25 L80.4 338.69 L74.39 338.69 L74.98 335.25 L75.68 331.81ZM87.51 331.81 L86.92 335.25 L86.42 338.69 L80.4 338.69 L80.95 335.25 L81.59 331.81ZM50.32 338.69 L49.78 342.12 L49.46 345.56 L43.39 345.56 L43.73 342.12 L44.3 338.69ZM62.35 338.69 L61.88 342.12 L61.6 345.56 L55.53 345.56 L55.83 342.12 L56.34 338.69ZM68.37 338.69 L67.93 342.12 L67.66 345.56 L61.6 345.56 L61.88 342.12 L62.35 338.69ZM74.39 338.69 L73.98 342.12 L73.73 345.56 L67.66 345.56 L67.93 342.12 L68.37 338.69ZM86.42 338.69 L86.08 342.12 L85.87 345.56 L79.8 345.56 L80.03 342.12 L80.4 338.69ZM92.44 338.69 L92.13 342.12 L91.94 345.56 L85.87 345.56 L86.08 342.12 L86.42 338.69ZM49.46 345.56 L49.32 349 L49.46 352.44 L43.39 352.44 L43.24 349 L43.39 345.56ZM55.53 345.56 L55.39 349 L55.53 352.44 L49.46 352.44 L49.32 349 L49.46 345.56ZM61.6 345.56 L61.47 349 L61.6 352.44 L55.53 352.44 L55.39 349 L55.53 345.56ZM67.66 345.56 L67.55 349 L67.66 352.44 L61.6 352.44 L61.47 349 L61.6 345.56ZM73.73 345.56 L73.63 349 L73.73 352.44 L67.66 352.44 L67.55 349 L67.66 345.56ZM79.8 345.56 L79.71 349 L79.8 352.44 L73.73 352.44 L73.63 349 L73.73 345.56ZM85.87 345.56 L85.78 349 L85.87 352.44 L79.8 352.44 L79.71 349 L79.8 345.56ZM91.94 345.56 L91.86 349 L91.94 352.44 L85.87 352.44 L85.78 349 L85.87 345.56ZM98.01 345.56 L97.94 349 L98.01 352.44 L91.94 352.44 L91.86 349 L91.94 345.56ZM128.36 345.56 L128.33 349 L128.36 352.44 L122.29 352.44 L122.25 349 L122.29 345.56ZM134.43 345.56 L134.41 349 L134.43 352.44 L128.36 352.44 L128.33 349 L128.36 345.56ZM140.5 345.56 L140.48 349 L140.5 352.44 L134.43 352.44 L134.41 349 L134.43 345.56ZM146.57 345.56 L146.56 349 L146.57 352.44 L140.5 352.44 L140.48 349 L140.5 345.56ZM152.63 345.56 L152.64 349 L152.63 352.44 L146.57 352.44 L146.56 349 L146.57 345.56ZM182.98 345.56 L183.03 349 L182.98 352.44 L176.91 352.44 L176.95 349 L176.91 345.56ZM189.05 345.56 L189.11 349 L189.05 352.44 L182.98 352.44 L183.03 349 L182.98 345.56ZM243.67 345.56 L243.81 349 L243.67 352.44 L237.6 352.44 L237.73 349 L237.6 345.56ZM249.74 345.56 L249.88 349 L249.74 352.44 L243.67 352.44 L243.81 349 L243.67 345.56ZM255.81 345.56 L255.96 349 L255.81 352.44 L249.74 352.44 L249.88 349 L249.74 345.56ZM49.46 352.44 L49.78 355.88 L50.32 359.31 L44.3 359.31 L43.73 355.88 L43.39 352.44ZM61.6 352.44 L61.88 355.88 L62.35 359.31 L56.34 359.31 L55.83 355.88 L55.53 352.44ZM67.66 352.44 L67.93 355.88 L68.37 359.31 L62.35 359.31 L61.88 355.88 L61.6 352.44ZM73.73 352.44 L73.98 355.88 L74.39 359.31 L68.37 359.31 L67.93 355.88 L67.66 352.44ZM85.87 352.44 L86.08 355.88 L86.42 359.31 L80.4 359.31 L80.03 355.88 L79.8 352.44ZM91.94 352.44 L92.13 355.88 L92.44 359.31 L86.42 359.31 L86.08 355.88 L85.87 352.44ZM98.01 352.44 L98.18 355.88 L98.46 359.31 L92.44 359.31 L92.13 355.88 L91.94 352.44ZM134.43 352.44 L134.48 355.88 L134.56 359.31 L128.54 359.31 L128.43 355.88 L128.36 352.44ZM152.63 352.44 L152.62 355.88 L152.61 359.31 L146.59 359.31 L146.58 355.88 L146.57 352.44ZM158.7 352.44 L158.67 355.88 L158.63 359.31 L152.61 359.31 L152.62 355.88 L152.63 352.44ZM249.74 352.44 L249.42 355.88 L248.88 359.31 L242.86 359.31 L243.37 355.88 L243.67 352.44ZM255.81 352.44 L255.47 355.88 L254.9 359.31 L248.88 359.31 L249.42 355.88 L249.74 352.44ZM50.32 359.31 L51.1 362.75 L52.02 366.19 L46.11 366.19 L45.13 362.75 L44.3 359.31ZM56.34 359.31 L57.07 362.75 L57.94 366.19 L52.02 366.19 L51.1 362.75 L50.32 359.31ZM62.35 359.31 L63.04 362.75 L63.85 366.19 L57.94 366.19 L57.07 362.75 L56.34 359.31ZM68.37 359.31 L69.01 362.75 L69.77 366.19 L63.85 366.19 L63.04 362.75 L62.35 359.31ZM74.39 359.31 L74.98 362.75 L75.68 366.19 L69.77 366.19 L69.01 362.75 L68.37 359.31ZM80.4 359.31 L80.95 362.75 L81.59 366.19 L75.68 366.19 L74.98 362.75 L74.39 359.31ZM248.88 359.31 L248.1 362.75 L247.18 366.19 L241.26 366.19 L242.13 362.75 L242.86 359.31ZM254.9 359.31 L254.07 362.75 L253.09 366.19 L247.18 366.19 L248.1 362.75 L248.88 359.31ZM52.02 366.19 L53.33 369.63 L55.06 373.07 L49.33 373.07 L47.49 369.63 L46.11 366.19ZM57.94 366.19 L59.16 369.63 L60.79 373.07 L55.06 373.07 L53.33 369.63 L52.02 366.19ZM69.77 366.19 L70.83 369.63 L72.25 373.07 L66.52 373.07 L65 369.63 L63.85 366.19ZM75.68 366.19 L76.67 369.63 L77.98 373.07 L72.25 373.07 L70.83 369.63 L69.77 366.19ZM87.51 366.19 L88.34 369.63 L89.44 373.07 L83.71 373.07 L82.5 369.63 L81.59 366.19ZM99.33 366.19 L100.01 369.63 L100.9 373.07 L95.17 373.07 L94.17 369.63 L93.42 366.19ZM105.25 366.19 L105.84 369.63 L106.63 373.07 L100.9 373.07 L100.01 369.63 L99.33 366.19ZM128.9 366.19 L129.18 369.63 L129.55 373.07 L123.82 373.07 L123.34 369.63 L122.99 366.19ZM152.56 366.19 L152.52 369.63 L152.46 373.07 L146.74 373.07 L146.68 369.63 L146.64 366.19ZM158.47 366.19 L158.35 369.63 L158.19 373.07 L152.46 373.07 L152.52 369.63 L152.56 366.19ZM247.18 366.19 L245.87 369.63 L244.14 373.07 L238.41 373.07 L240.04 369.63 L241.26 366.19ZM253.09 366.19 L251.71 369.63 L249.87 373.07 L244.14 373.07 L245.87 369.63 L247.18 366.19ZM55.06 373.07 L57.18 376.49 L59.73 379.89 L54.28 379.89 L51.58 376.49 L49.33 373.07ZM66.52 373.07 L68.38 376.49 L70.62 379.89 L65.17 379.89 L62.78 376.49 L60.79 373.07ZM72.25 373.07 L73.98 376.49 L76.07 379.89 L70.62 379.89 L68.38 376.49 L66.52 373.07ZM83.71 373.07 L85.19 376.49 L86.96 379.89 L81.51 379.89 L79.58 376.49 L77.98 373.07ZM89.44 373.07 L90.79 376.49 L92.41 379.89 L86.96 379.89 L85.19 376.49 L83.71 373.07ZM95.17 373.07 L96.39 376.49 L97.85 379.89 L92.41 379.89 L90.79 376.49 L89.44 373.07ZM106.63 373.07 L107.59 376.49 L108.75 379.89 L103.3 379.89 L101.99 376.49 L100.9 373.07ZM123.82 373.07 L124.39 376.49 L125.09 379.89 L119.64 379.89 L118.79 376.49 L118.09 373.07ZM129.55 373.07 L130 376.49 L130.54 379.89 L125.09 379.89 L124.39 376.49 L123.82 373.07ZM135.28 373.07 L135.6 376.49 L135.98 379.89 L130.54 379.89 L130 376.49 L129.55 373.07ZM141.01 373.07 L141.2 376.49 L141.43 379.89 L135.98 379.89 L135.6 376.49 L135.28 373.07ZM146.74 373.07 L146.8 376.49 L146.88 379.89 L141.43 379.89 L141.2 376.49 L141.01 373.07ZM152.46 373.07 L152.4 376.49 L152.32 379.89 L146.88 379.89 L146.8 376.49 L146.74 373.07ZM158.19 373.07 L158 376.49 L157.77 379.89 L152.32 379.89 L152.4 376.49 L152.46 373.07ZM163.92 373.07 L163.6 376.49 L163.22 379.89 L157.77 379.89 L158 376.49 L158.19 373.07ZM169.65 373.07 L169.2 376.49 L168.66 379.89 L163.22 379.89 L163.6 376.49 L163.92 373.07ZM175.38 373.07 L174.81 376.49 L174.11 379.89 L168.66 379.89 L169.2 376.49 L169.65 373.07ZM181.11 373.07 L180.41 376.49 L179.56 379.89 L174.11 379.89 L174.81 376.49 L175.38 373.07ZM186.84 373.07 L186.01 376.49 L185 379.89 L179.56 379.89 L180.41 376.49 L181.11 373.07ZM192.57 373.07 L191.61 376.49 L190.45 379.89 L185 379.89 L186.01 376.49 L186.84 373.07ZM198.3 373.07 L197.21 376.49 L195.9 379.89 L190.45 379.89 L191.61 376.49 L192.57 373.07ZM204.03 373.07 L202.81 376.49 L201.35 379.89 L195.9 379.89 L197.21 376.49 L198.3 373.07ZM209.76 373.07 L208.41 376.49 L206.79 379.89 L201.35 379.89 L202.81 376.49 L204.03 373.07ZM215.49 373.07 L214.01 376.49 L212.24 379.89 L206.79 379.89 L208.41 376.49 L209.76 373.07ZM221.22 373.07 L219.62 376.49 L217.69 379.89 L212.24 379.89 L214.01 376.49 L215.49 373.07ZM226.95 373.07 L225.22 376.49 L223.13 379.89 L217.69 379.89 L219.62 376.49 L221.22 373.07ZM244.14 373.07 L242.02 376.49 L239.47 379.89 L234.03 379.89 L236.42 376.49 L238.41 373.07ZM249.87 373.07 L247.62 376.49 L244.92 379.89 L239.47 379.89 L242.02 376.49 L244.14 373.07ZM65.17 379.89 L67.84 383.25 L70.94 386.53 L65.86 386.53 L62.56 383.25 L59.73 379.89ZM70.62 379.89 L73.11 383.25 L76.01 386.53 L70.94 386.53 L67.84 383.25 L65.17 379.89ZM81.51 379.89 L83.66 383.25 L86.16 386.53 L81.09 386.53 L78.39 383.25 L76.07 379.89ZM92.41 379.89 L94.21 383.25 L96.31 386.53 L91.24 386.53 L88.94 383.25 L86.96 379.89ZM103.3 379.89 L104.76 383.25 L106.46 386.53 L101.39 386.53 L99.49 383.25 L97.85 379.89ZM108.75 379.89 L110.04 383.25 L111.54 386.53 L106.46 386.53 L104.76 383.25 L103.3 379.89ZM125.09 379.89 L125.86 383.25 L126.76 386.53 L121.69 386.53 L120.59 383.25 L119.64 379.89ZM130.54 379.89 L131.14 383.25 L131.84 386.53 L126.76 386.53 L125.86 383.25 L125.09 379.89ZM135.98 379.89 L136.41 383.25 L136.91 386.53 L131.84 386.53 L131.14 383.25 L130.54 379.89ZM141.43 379.89 L141.69 383.25 L141.99 386.53 L136.91 386.53 L136.41 383.25 L135.98 379.89ZM146.88 379.89 L146.96 383.25 L147.06 386.53 L141.99 386.53 L141.69 383.25 L141.43 379.89ZM152.32 379.89 L152.24 383.25 L152.14 386.53 L147.06 386.53 L146.96 383.25 L146.88 379.89ZM157.77 379.89 L157.51 383.25 L157.21 386.53 L152.14 386.53 L152.24 383.25 L152.32 379.89ZM163.22 379.89 L162.79 383.25 L162.29 386.53 L157.21 386.53 L157.51 383.25 L157.77 379.89ZM168.66 379.89 L168.06 383.25 L167.36 386.53 L162.29 386.53 L162.79 383.25 L163.22 379.89ZM174.11 379.89 L173.34 383.25 L172.44 386.53 L167.36 386.53 L168.06 383.25 L168.66 379.89ZM179.56 379.89 L178.61 383.25 L177.51 386.53 L172.44 386.53 L173.34 383.25 L174.11 379.89ZM185 379.89 L183.89 383.25 L182.59 386.53 L177.51 386.53 L178.61 383.25 L179.56 379.89ZM190.45 379.89 L189.16 383.25 L187.66 386.53 L182.59 386.53 L183.89 383.25 L185 379.89ZM195.9 379.89 L194.44 383.25 L192.74 386.53 L187.66 386.53 L189.16 383.25 L190.45 379.89ZM201.35 379.89 L199.71 383.25 L197.81 386.53 L192.74 386.53 L194.44 383.25 L195.9 379.89ZM206.79 379.89 L204.99 383.25 L202.89 386.53 L197.81 386.53 L199.71 383.25 L201.35 379.89ZM212.24 379.89 L210.26 383.25 L207.96 386.53 L202.89 386.53 L204.99 383.25 L206.79 379.89ZM217.69 379.89 L215.54 383.25 L213.04 386.53 L207.96 386.53 L210.26 383.25 L212.24 379.89ZM223.13 379.89 L220.81 383.25 L218.11 386.53 L213.04 386.53 L215.54 383.25 L217.69 379.89ZM228.58 379.89 L226.09 383.25 L223.19 386.53 L218.11 386.53 L220.81 383.25 L223.13 379.89ZM234.03 379.89 L231.36 383.25 L228.26 386.53 L223.19 386.53 L226.09 383.25 L228.58 379.89ZM239.47 379.89 L236.64 383.25 L233.34 386.53 L228.26 386.53 L231.36 383.25 L234.03 379.89ZM244.92 379.89 L241.91 383.25 L238.41 386.53 L233.34 386.53 L236.64 383.25 L239.47 379.89ZM65.86 386.53 L69.51 389.73 L73.41 392.82 L68.8 392.82 L64.66 389.73 L60.79 386.53ZM76.01 386.53 L79.22 389.73 L82.65 392.82 L78.03 392.82 L74.37 389.73 L70.94 386.53ZM86.16 386.53 L88.93 389.73 L91.88 392.82 L87.27 392.82 L84.07 389.73 L81.09 386.53ZM96.31 386.53 L98.64 389.73 L101.12 392.82 L96.5 392.82 L93.78 389.73 L91.24 386.53Z" fill="#ffc17b" stroke="#ffc17b" stroke-width="0.7"/>
<path d="M96.31 311.47 L94.21 314.75 L92.41 318.11 L86.96 318.11 L88.94 314.75 L91.24 311.47ZM103.3 318.11 L101.99 321.51 L100.9 324.93 L95.17 324.93 L96.39 321.51 L97.85 318.11ZM206.79 318.11 L208.41 321.51 L209.76 324.93 L204.03 324.93 L202.81 321.51 L201.35 318.11ZM212.24 318.11 L214.01 321.51 L215.49 324.93 L209.76 324.93 L208.41 321.51 L206.79 318.11ZM146.64 331.81 L146.62 335.25 L146.59 338.69 L140.57 338.69 L140.65 335.25 L140.73 331.81ZM152.56 331.81 L152.58 335.25 L152.61 338.69 L146.59 338.69 L146.62 335.25 L146.64 331.81ZM158.47 331.81 L158.55 335.25 L158.63 338.69 L152.61 338.69 L152.58 335.25 L152.56 331.81ZM164.38 331.81 L164.52 335.25 L164.64 338.69 L158.63 338.69 L158.55 335.25 L158.47 331.81ZM170.3 331.81 L170.49 335.25 L170.66 338.69 L164.64 338.69 L164.52 335.25 L164.38 331.81ZM176.21 331.81 L176.46 335.25 L176.68 338.69 L170.66 338.69 L170.49 335.25 L170.3 331.81ZM182.13 331.81 L182.43 335.25 L182.69 338.69 L176.68 338.69 L176.46 335.25 L176.21 331.81ZM164.64 359.31 L164.52 362.75 L164.38 366.19 L158.47 366.19 L158.55 362.75 L158.63 359.31ZM170.66 359.31 L170.49 362.75 L170.3 366.19 L164.38 366.19 L164.52 362.75 L164.64 359.31ZM82.09 398.55 L87.29 401.09 L92.22 403.12 L88.74 403.12 L83.52 401.09 L78 398.55ZM86.18 398.55 L91.07 401.09 L95.7 403.12 L92.22 403.12 L87.29 401.09 L82.09 398.55ZM90.27 398.55 L94.85 401.09 L99.17 403.12 L95.7 403.12 L91.07 401.09 L86.18 398.55ZM94.36 398.55 L98.62 401.09 L102.65 403.12 L99.17 403.12 L94.85 401.09 L90.27 398.55ZM98.46 398.55 L102.4 401.09 L106.13 403.12 L102.65 403.12 L98.62 401.09 L94.36 398.55ZM102.55 398.55 L106.17 401.09 L109.61 403.12 L106.13 403.12 L102.4 401.09 L98.46 398.55ZM106.64 398.55 L109.95 401.09 L113.08 403.12 L109.61 403.12 L106.17 401.09 L102.55 398.55ZM110.73 398.55 L113.73 401.09 L116.56 403.12 L113.08 403.12 L109.95 401.09 L106.64 398.55ZM114.82 398.55 L117.5 401.09 L120.04 403.12 L116.56 403.12 L113.73 401.09 L110.73 398.55ZM118.91 398.55 L121.28 401.09 L123.52 403.12 L120.04 403.12 L117.5 401.09 L114.82 398.55ZM123 398.55 L125.06 401.09 L126.99 403.12 L123.52 403.12 L121.28 401.09 L118.91 398.55ZM127.1 398.55 L128.83 401.09 L130.47 403.12 L126.99 403.12 L125.06 401.09 L123 398.55ZM131.19 398.55 L132.61 401.09 L133.95 403.12 L130.47 403.12 L128.83 401.09 L127.1 398.55ZM135.28 398.55 L136.38 401.09 L137.43 403.12 L133.95 403.12 L132.61 401.09 L131.19 398.55ZM139.37 398.55 L140.16 401.09 L140.91 403.12 L137.43 403.12 L136.38 401.09 L135.28 398.55ZM143.46 398.55 L143.94 401.09 L144.38 403.12 L140.91 403.12 L140.16 401.09 L139.37 398.55ZM147.55 398.55 L147.71 401.09 L147.86 403.12 L144.38 403.12 L143.94 401.09 L143.46 398.55ZM151.65 398.55 L151.49 401.09 L151.34 403.12 L147.86 403.12 L147.71 401.09 L147.55 398.55ZM155.74 398.55 L155.26 401.09 L154.82 403.12 L151.34 403.12 L151.49 401.09 L151.65 398.55ZM159.83 398.55 L159.04 401.09 L158.29 403.12 L154.82 403.12 L155.26 401.09 L155.74 398.55ZM221.2 398.55 L215.68 401.09 L210.46 403.12 L206.98 403.12 L211.91 401.09 L217.11 398.55Z" fill="#8e5a39" stroke="#8e5a39" stroke-width="0.7"/>
<path d="M182.59 311.47 L183.89 314.75 L185 318.11 L179.56 318.11 L178.61 314.75 L177.51 311.47ZM202.89 311.47 L204.99 314.75 L206.79 318.11 L201.35 318.11 L199.71 314.75 L197.81 311.47ZM207.96 311.47 L210.26 314.75 L212.24 318.11 L206.79 318.11 L204.99 314.75 L202.89 311.47ZM213.04 311.47 L215.54 314.75 L217.69 318.11 L212.24 318.11 L210.26 314.75 L207.96 311.47ZM97.85 318.11 L96.39 321.51 L95.17 324.93 L89.44 324.93 L90.79 321.51 L92.41 318.11ZM186.84 324.93 L187.53 328.37 L188.04 331.81 L182.13 331.81 L181.69 328.37 L181.11 324.93ZM192.57 324.93 L193.36 328.37 L193.95 331.81 L188.04 331.81 L187.53 328.37 L186.84 324.93ZM117.07 366.19 L117.51 369.63 L118.09 373.07 L112.36 373.07 L111.67 369.63 L111.16 366.19ZM163.92 398.55 L162.82 401.09 L161.77 403.12 L158.29 403.12 L159.04 401.09 L159.83 398.55ZM217.11 398.55 L211.91 401.09 L206.98 403.12 L203.5 403.12 L208.13 401.09 L213.02 398.55Z" fill="#7b4e31" stroke="#7b4e31" stroke-width="0.7"/>
<path d="M187.66 311.47 L189.16 314.75 L190.45 318.11 L185 318.11 L183.89 314.75 L182.59 311.47ZM192.74 311.47 L194.44 314.75 L195.9 318.11 L190.45 318.11 L189.16 314.75 L187.66 311.47ZM197.81 311.47 L199.71 314.75 L201.35 318.11 L195.9 318.11 L194.44 314.75 L192.74 311.47ZM92.41 318.11 L90.79 321.51 L89.44 324.93 L83.71 324.93 L85.19 321.51 L86.96 318.11ZM179.56 318.11 L180.41 321.51 L181.11 324.93 L175.38 324.93 L174.81 321.51 L174.11 318.11ZM181.11 324.93 L181.69 328.37 L182.13 331.81 L176.21 331.81 L175.86 328.37 L175.38 324.93ZM116.51 359.31 L116.77 362.75 L117.07 366.19 L111.16 366.19 L110.8 362.75 L110.49 359.31ZM230.83 359.31 L230.19 362.75 L229.43 366.19 L223.52 366.19 L224.22 362.75 L224.81 359.31ZM236.85 359.31 L236.16 362.75 L235.35 366.19 L229.43 366.19 L230.19 362.75 L230.83 359.31ZM184.23 392.82 L182.36 395.77 L180.29 398.55 L176.2 398.55 L177.99 395.77 L179.61 392.82ZM188.85 392.82 L186.72 395.77 L184.38 398.55 L180.29 398.55 L182.36 395.77 L184.23 392.82ZM193.46 392.82 L191.09 395.77 L188.47 398.55 L184.38 398.55 L186.72 395.77 L188.85 392.82ZM198.08 392.82 L195.46 395.77 L192.56 398.55 L188.47 398.55 L191.09 395.77 L193.46 392.82ZM202.7 392.82 L199.83 395.77 L196.65 398.55 L192.56 398.55 L195.46 395.77 L198.08 392.82ZM207.32 392.82 L204.19 395.77 L200.74 398.55 L196.65 398.55 L199.83 395.77 L202.7 392.82ZM211.93 392.82 L208.56 395.77 L204.84 398.55 L200.74 398.55 L204.19 395.77 L207.32 392.82ZM216.55 392.82 L212.93 395.77 L208.93 398.55 L204.84 398.55 L208.56 395.77 L211.93 392.82ZM168.01 398.55 L166.59 401.09 L165.25 403.12 L161.77 403.12 L162.82 401.09 L163.92 398.55ZM172.1 398.55 L170.37 401.09 L168.73 403.12 L165.25 403.12 L166.59 401.09 L168.01 398.55ZM176.2 398.55 L174.14 401.09 L172.21 403.12 L168.73 403.12 L170.37 401.09 L172.1 398.55ZM180.29 398.55 L177.92 401.09 L175.68 403.12 L172.21 403.12 L174.14 401.09 L176.2 398.55ZM184.38 398.55 L181.7 401.09 L179.16 403.12 L175.68 403.12 L177.92 401.09 L180.29 398.55ZM188.47 398.55 L185.47 401.09 L182.64 403.12 L179.16 403.12 L181.7 401.09 L184.38 398.55ZM192.56 398.55 L189.25 401.09 L186.12 403.12 L182.64 403.12 L185.47 401.09 L188.47 398.55ZM196.65 398.55 L193.03 401.09 L189.59 403.12 L186.12 403.12 L189.25 401.09 L192.56 398.55ZM200.74 398.55 L196.8 401.09 L193.07 403.12 L189.59 403.12 L193.03 401.09 L196.65 398.55ZM204.84 398.55 L200.58 401.09 L196.55 403.12 L193.07 403.12 L196.8 401.09 L200.74 398.55ZM208.93 398.55 L204.35 401.09 L200.03 403.12 L196.55 403.12 L200.58 401.09 L204.84 398.55ZM213.02 398.55 L208.13 401.09 L203.5 403.12 L200.03 403.12 L204.35 401.09 L208.93 398.55Z" fill="#6b442b" stroke="#6b442b" stroke-width="0.7"/>
<path d="M185 318.11 L186.01 321.51 L186.84 324.93 L181.11 324.93 L180.41 321.51 L179.56 318.11ZM190.45 318.11 L191.61 321.51 L192.57 324.93 L186.84 324.93 L186.01 321.51 L185 318.11ZM195.9 318.11 L197.21 321.51 L198.3 324.93 L192.57 324.93 L191.61 321.51 L190.45 318.11ZM201.35 318.11 L202.81 321.51 L204.03 324.93 L198.3 324.93 L197.21 321.51 L195.9 318.11Z" fill="#5b3a25" stroke="#5b3a25" stroke-width="0.7"/>
<path d="M60.79 324.93 L59.16 328.37 L57.94 331.81 L52.02 331.81 L53.33 328.37 L55.06 324.93ZM72.25 324.93 L70.83 328.37 L69.77 331.81 L63.85 331.81 L65 328.37 L66.52 324.93ZM52.02 331.81 L51.1 335.25 L50.32 338.69 L44.3 338.69 L45.13 335.25 L46.11 331.81ZM75.68 331.81 L74.98 335.25 L74.39 338.69 L68.37 338.69 L69.01 335.25 L69.77 331.81ZM56.34 338.69 L55.83 342.12 L55.53 345.56 L49.46 345.56 L49.78 342.12 L50.32 338.69ZM80.4 338.69 L80.03 342.12 L79.8 345.56 L73.73 345.56 L73.98 342.12 L74.39 338.69Z" fill="#ffc57e" stroke="#ffc57e" stroke-width="0.7"/>
<path d="M141.01 324.93 L140.85 328.37 L140.73 331.81 L134.82 331.81 L135.01 328.37 L135.28 324.93ZM93.42 331.81 L92.89 335.25 L92.44 338.69 L86.42 338.69 L86.92 335.25 L87.51 331.81ZM99.33 331.81 L98.86 335.25 L98.46 338.69 L92.44 338.69 L92.89 335.25 L93.42 331.81ZM117.07 331.81 L116.77 335.25 L116.51 338.69 L110.49 338.69 L110.8 335.25 L111.16 331.81ZM122.99 331.81 L122.74 335.25 L122.52 338.69 L116.51 338.69 L116.77 335.25 L117.07 331.81ZM211.69 331.81 L212.28 335.25 L212.78 338.69 L206.76 338.69 L206.31 335.25 L205.78 331.81ZM182.69 338.69 L182.87 342.12 L182.98 345.56 L176.91 345.56 L176.82 342.12 L176.68 338.69ZM158.7 345.56 L158.72 349 L158.7 352.44 L152.63 352.44 L152.64 349 L152.63 345.56ZM164.77 345.56 L164.79 349 L164.77 352.44 L158.7 352.44 L158.72 349 L158.7 345.56ZM170.84 345.56 L170.87 349 L170.84 352.44 L164.77 352.44 L164.79 349 L164.77 345.56ZM176.91 345.56 L176.95 349 L176.91 352.44 L170.84 352.44 L170.87 349 L170.84 345.56ZM200.74 359.31 L200.34 362.75 L199.87 366.19 L193.95 366.19 L194.37 362.75 L194.73 359.31ZM206.76 359.31 L206.31 362.75 L205.78 366.19 L199.87 366.19 L200.34 362.75 L200.74 359.31ZM111.16 366.19 L111.67 369.63 L112.36 373.07 L106.63 373.07 L105.84 369.63 L105.25 366.19ZM116.61 386.53 L118.05 389.73 L119.59 392.82 L114.97 392.82 L113.2 389.73 L111.54 386.53ZM121.69 386.53 L122.9 389.73 L124.2 392.82 L119.59 392.82 L118.05 389.73 L116.61 386.53ZM131.84 386.53 L132.61 389.73 L133.44 392.82 L128.82 392.82 L127.76 389.73 L126.76 386.53ZM141.99 386.53 L142.32 389.73 L142.67 392.82 L138.06 392.82 L137.47 389.73 L136.91 386.53ZM152.14 386.53 L152.03 389.73 L151.91 392.82 L147.29 392.82 L147.17 389.73 L147.06 386.53ZM162.29 386.53 L161.73 389.73 L161.14 392.82 L156.53 392.82 L156.88 389.73 L157.21 386.53ZM172.44 386.53 L171.44 389.73 L170.38 392.82 L165.76 392.82 L166.59 389.73 L167.36 386.53ZM182.59 386.53 L181.15 389.73 L179.61 392.82 L175 392.82 L176.3 389.73 L177.51 386.53Z" fill="#ffa368" stroke="#ffa368" stroke-width="0.7"/>
<path d="M152.46 324.93 L152.52 328.37 L152.56 331.81 L146.64 331.81 L146.68 328.37 L146.74 324.93ZM158.19 324.93 L158.35 328.37 L158.47 331.81 L152.56 331.81 L152.52 328.37 L152.46 324.93ZM163.92 324.93 L164.19 328.37 L164.38 331.81 L158.47 331.81 L158.35 328.37 L158.19 324.93ZM169.65 324.93 L170.02 328.37 L170.3 331.81 L164.38 331.81 L164.19 328.37 L163.92 324.93Z" fill="#2c1c12" stroke="#2c1c12" stroke-width="0.7"/>
<path d="M175.38 324.93 L175.86 328.37 L176.21 331.81 L170.3 331.81 L170.02 328.37 L169.65 324.93Z" fill="#3c2618" stroke="#3c2618" stroke-width="0.7"/>
<path d="M72.44 304.88 L75.66 303.21 L77.99 302.52 L80.22 301.89 L82.31 301.49 L83.85 301.77 L85.19 302.06 L87.73 302.46 L89.5 302.8 L92.39 302.23 L93.9 302.06 L94.68 302.52 L96.82 302.57 L98.61 302.98 L98.98 303.51 L100.77 303.51 L102.55 303.04 L103.91 303.51 L105.7 303.51 L106.79 303.27 L107.89 302.23 L109.39 301.26 L109.2 302.23 L109.39 302.8 L110.49 303.1 L111.82 302.52 L113.36 302.52 L113.47 303.1 L112.54 303.98 L111.35 304.4 L109.87 304.88 L108.78 305.79 L107.16 306.09 L105.33 307.02 L103.73 308.27 L103.27 309.09 L103.46 310.17 L105.08 310.37 L106.21 311.01 L107.77 311.4 L107.2 312.77 L107.4 313.63 L108.03 313.96 L108.85 313.1 L109.19 311.79 L110.85 310.82 L111.46 309.22 L111.92 307.95 L112.76 306.77 L114.48 306.83 L115.53 307.51 L115.71 308.58 L116.1 309.28 L117.26 308.9 L118.29 308.08 L118.7 309.53 L118.9 310.82 L119.84 311.66 L120.53 312.58 L120.65 313.43 L119.53 313.96 L118 314.62 L116.15 314.62 L114.52 314.75 L113.14 315.62 L111.67 316.76 L113.36 315.75 L115.12 315.29 L115.33 315.75 L114.47 316.42 L114.74 317.23 L115.99 317.57 L116.74 316.89 L117.12 317.43 L116.14 317.97 L114.93 318.38 L113.63 319.06 L113.39 318.58 L114.26 317.91 L113.11 318.11 L111.79 318.79 L110.81 319.26 L110.43 319.94 L110.76 320.28 L109.84 320.55 L108.3 321.03 L107.93 321.85 L107.07 322.67 L106.42 323.56 L106.3 324.66 L105.39 325.28 L104.03 326.1 L102.61 327.2 L102.11 328.37 L102.35 329.75 L102.46 330.78 L102.02 331.67 L101.49 331.26 L101.02 329.95 L101.17 328.92 L100.59 328.37 L99.67 328.58 L98.6 328.17 L97.7 328.24 L97.31 328.92 L96.39 328.85 L94.99 328.58 L94.02 328.99 L92.63 329.89 L92.19 331.12 L91.7 332.5 L91.45 333.67 L91.63 334.9 L92.19 335.94 L93.02 336.49 L94.55 336.21 L95.41 335.59 L95.79 334.56 L97.2 334.22 L97.84 334.35 L97.32 335.59 L96.89 336.62 L96.25 338 L96.83 338.14 L97.92 338.07 L99.11 338.2 L99.54 338.69 L99.23 340.06 L99.01 341.44 L99.39 342.12 L99.95 342.81 L100.86 342.81 L101.48 342.47 L102.38 342.61 L102.78 343.09 L103.07 343.5 L103.59 342.67 L103.95 341.71 L104.57 341.44 L105.49 341.16 L106.13 340.61 L106.56 340.47 L106.32 341.44 L107.19 341.02 L107.33 340.68 L108.15 341.23 L108.48 341.78 L109.69 341.71 L110.59 341.99 L111.81 341.64 L112.15 342.12 L112.78 343.09 L113.85 343.5 L114.72 344.67 L116.23 344.94 L117.14 345.22 L118.21 346.04 L118.62 346.94 L119.22 347.83 L119.03 349 L120.13 349.55 L121.65 349.76 L122.57 350.79 L123.48 350.65 L124.7 350.99 L125.92 351.41 L127.02 352.3 L128.18 352.64 L128.5 353.95 L128.35 355.19 L127.53 356.29 L126.96 357.25 L126.2 357.94 L126.13 359.31 L126.16 361.03 L125.88 362.41 L125.25 363.78 L125.11 364.4 L124.54 364.75 L123.77 364.81 L122.92 365.3 L122.06 365.71 L121.24 366.46 L120.96 367.22 L121.04 368.46 L120.41 369.49 L119.7 370.66 L119.3 371.42 L118.82 372.38 L118.13 373 L117.2 372.93 L116.06 372.38 L116.85 373.48 L117.27 374.16 L116.98 375.19 L116.07 375.67 L114.7 375.81 L114.81 376.9 L113.36 377.11 L113.6 377.92 L114.41 378.26 L113.9 378.94 L113.87 379.89 L113.08 380.63 L113.66 381.24 L114.4 381.84 L113.82 382.91 L113.36 383.64 L113.89 384.7 L114.34 385.16 L114.96 385.88 L116.43 386.34 L115.91 386.66 L114.73 386.86 L113.16 386.21 L112.1 385.56 L110.96 384.77 L110.22 383.91 L109.64 382.91 L109.1 381.58 L109.21 380.57 L108.94 379.21 L109.04 378.06 L108.48 377.17 L108.33 376.15 L107.82 374.58 L108.03 373.41 L108.28 372.03 L107.96 370.32 L107.81 368.94 L107.87 367.56 L107.91 366.19 L107.74 364.81 L107.77 363.44 L107.47 361.72 L106.73 360.96 L105.46 360.21 L104.17 359.31 L103.56 358.49 L102.98 357.25 L102.23 355.88 L101.55 354.5 L101.09 353.68 L100.34 353.13 L100.25 352.09 L100.83 351.34 L101 350.72 L100.45 350.51 L100.62 349.69 L100.92 349 L100.99 348.31 L101.72 347.97 L101.91 347.21 L102.66 346.32 L102.57 345.22 L102.67 344.32 L102.32 343.91 L102.17 343.29 L101.46 342.88 L100.95 343.36 L100.99 343.91 L100.38 343.84 L100.04 343.43 L99.38 343.36 L98.97 343.09 L98.29 342.26 L97.73 341.57 L97.75 341.23 L97.1 340.27 L96.77 339.92 L96.23 339.92 L95.36 339.58 L94.47 339.37 L94.03 338.96 L93.24 338 L92.54 337.86 L91.59 338.2 L90.73 337.86 L89.71 337.45 L88.76 336.97 L87.64 336.42 L86.87 335.59 L86.61 334.9 L86.91 334.15 L86.66 333.19 L85.96 332.15 L85.24 331.33 L85.16 330.44 L84.72 329.82 L84.05 329.06 L83.88 327.68 L83.06 327.2 L82.78 328.03 L83.17 329.06 L83.48 330.09 L83.93 331.12 L84.18 332.15 L84.61 333.05 L84.21 333.25 L83.82 332.5 L83.25 331.81 L83.33 330.92 L82.54 330.3 L82.33 329.75 L82.66 329.2 L82.15 328.37 L81.91 327.34 L81.85 326.52 L81.44 325.76 L80.94 325.42 L80.39 325.21 L80.22 324.25 L80.16 323.22 L80.13 322.67 L80.08 321.85 L80.12 321.23 L80.82 320.14 L81.04 319.46 L81.86 318.45 L82.55 317.3 L82.77 316.42 L83.1 315.82 L83.97 315.89 L83.85 316.49 L84.38 315.42 L83.93 314.75 L83.09 314.09 L83.32 313.1 L83.24 311.92 L83.4 311.14 L83.25 310.17 L83.15 309.22 L82.05 309.09 L81.76 308.39 L80.68 308.27 L79.49 308.01 L78.17 307.89 L76.9 308.39 L75.58 308.71 L76.56 307.83 L77.39 307.51 L75.93 307.95 L74.74 308.58 L73.49 309.28 L71.67 310.05 L69.98 310.69 L68.1 311.27 L66.74 311.6 L65.69 311.73 L67.55 311.08 L68.9 310.75 L70.81 309.92 L72.22 309.09 L71.34 309.22 L70.26 309.09 L70.82 308.39 L70.21 307.89 L70.42 307.33 L70.73 306.89 L71.92 306.4 L73.32 306.15 L74.41 305.85 L75.03 305.36 L73.94 305.48 L72.49 305.42 L72.44 304.88M121.19 297.78 L123.92 296.91 L126.88 296.11 L131.49 295.81 L137.13 295.42 L140.62 295.61 L142.97 296.24 L141.92 297.39 L142.06 298.39 L141.01 299.45 L141.24 300.26 L139.8 301.1 L140.03 302.06 L138.11 302.8 L135.74 303.39 L133.7 304.28 L132.18 304.76 L130.8 305.48 L129.7 306.71 L128.77 308.14 L127.76 308.27 L126.52 307.64 L125.91 306.71 L125.57 305.79 L125.39 304.58 L125.69 303.39 L127.19 302.52 L126.16 301.94 L126.31 300.82 L126.11 299.72 L125.42 298.92 L123 298.92 L121.83 298.39 L121.19 297.78M116.26 300.15 L117.21 300.54 L118.72 301.38 L119.9 302.23 L119.82 303.1 L121.58 303.98 L121.28 304.58 L119.75 304.88 L119.59 306.09 L118.18 307.02 L117.55 306.4 L116.01 305.79 L115.25 305.48 L113.4 305.48 L115.79 304.58 L116.97 303.39 L115.53 302.23 L112.69 302.23 L111.19 301.66 L111.74 300.54 L114.18 300.15 L116.26 300.15M113.61 298.65 L117.46 298.81 L119.29 298.14 L120.8 297.39 L124.14 296.68 L127.07 295.9 L124.46 295.61 L120.86 295.61 L116.73 296.02 L115.44 296.45 L116.19 297.39 L113.61 298.65M117.83 316.29 L119.45 316.83 L121.01 317.03 L121.35 316.36 L121.24 315.22 L120.32 314.75 L120.38 313.76 L119.38 314.42 L118.16 315.75 L117.83 316.29M99.03 333.87 L100.63 333.05 L102.1 333.19 L103.76 334.15 L104.89 334.7 L105.32 335.11 L103.32 335.39 L103.09 334.77 L101.71 333.87 L100.85 333.6 L99.63 333.87 L99.03 333.87M105.07 336.28 L106.31 335.32 L107.8 335.39 L108.67 336.21 L107.69 336.49 L106.75 336.83 L105.89 336.49 L105.07 336.28M102.72 336.42 L103.91 336.55 L103.34 336.76 L102.72 336.42M109.37 336.42 L110.27 336.42 L109.88 336.69 L109.37 336.42M82.31 314.22 L83.49 314.62 L83.79 315.75 L83.08 315.62 L82.34 314.75 L82.31 314.22M81.54 312.12 L82.05 312.25 L81.56 313.23 L81.26 312.77 L81.54 312.12M72.87 309.85 L74.2 309.53 L73.83 309.98 L72.64 310.3 L72.87 309.85M56.51 335.11 L57.04 335.39 L56.56 335.94 L56.41 335.52 L56.51 335.11M55.41 334.22 L55.67 334.35 L56.26 334.63 L56.41 334.77M54.61 333.8 L54.82 333.94M117.84 384.44 L119.31 384.17 L119.24 384.7 L118.2 384.7 L117.84 384.44M112.23 341.64 L112.72 341.64 L112.7 342.06 L112.22 342.06 L112.23 341.64M114.13 385.03 L113.38 385.56 L113.87 386.08 L114.91 386.47M108.57 377.79 L109.16 378.74 L108.65 378.54 L108.57 377.79M146.4 324.25 L146.01 323.84 L145.63 323.42 L144.54 323.56 L144.63 322.53 L144.25 322.33 L144.62 321.37 L144.78 320.14 L144.47 319.46 L145.21 318.99 L146.58 319.06 L147.68 319.12 L148.61 319.19 L148.95 318.31 L148.95 317.43 L148.42 316.69 L147.19 316.16 L147.1 315.75 L148 315.55 L148.75 315.62 L148.65 314.95 L149.6 315.15 L150.39 314.62 L150.44 314.16 L151.17 313.89 L151.68 313.43 L152.08 312.77 L152.94 312.44 L153.96 312.31 L154.02 311.47 L153.71 310.5 L153.83 310.05 L154.81 309.73 L154.76 310.5 L154.65 311.14 L154.58 311.6 L155.22 311.99 L155.98 311.86 L156.87 312.12 L158.01 311.79 L159 311.6 L159.7 311.86 L160.23 311.27 L160.08 310.17 L160.75 309.73 L161.69 309.98 L161.58 309.34 L161.09 308.77 L162.04 308.58 L163.25 308.58 L164.16 308.27 L163.35 307.89 L162.17 308.01 L160.73 308.33 L159.87 307.83 L159.84 307.02 L159.59 306.4 L160.12 305.91 L160.94 305.3 L161.22 304.88 L160.5 304.7 L159.7 304.88 L159.49 305.48 L158.54 306.28 L157.84 307.02 L157.87 307.64 L158.58 308.27 L158.42 308.9 L157.76 309.53 L157.8 310.37 L156.9 310.82 L156.78 311.21 L156.18 311.21 L155.87 310.62 L155.46 309.85 L155.09 308.9 L154.72 308.58 L154.25 308.9 L153.55 309.47 L152.81 309.47 L152.29 308.9 L152.02 307.95 L151.99 307.14 L152.44 306.71 L153.59 306.09 L154.48 305.6 L155.11 304.88 L155.48 303.98 L156.08 303.39 L156.91 302.92 L157.71 302.4 L158.77 302.23 L159.78 301.83 L160.68 301.6 L161.68 301.66 L163.09 302.06 L162.75 302.4 L164.11 302.57 L165.47 302.69 L167.48 303.39 L168.13 303.98 L166.96 304.58 L164.56 304.16 L165.88 305.6 L166.86 305.79 L167.18 305.3 L168.13 305.36 L167.87 304.58 L169.59 304.28 L169.2 303.21 L170.16 303.39 L171.13 303.57 L173.15 303.1 L174.04 303.1 L175.26 302.86 L176.09 302.34 L176.65 302.98 L177.78 302.63 L179.27 302.92 L180.15 303.27 L178.95 302.52 L178.51 301.66 L178.63 300.54 L180.22 300.71 L180.89 301.66 L181.42 302.8 L182.86 303.68 L182.52 302.8 L181.32 301.66 L181.07 300.71 L182.5 300.93 L183.26 301.66 L183.7 301.1 L183.45 300.26 L185.5 299.99 L185.2 299.45 L186.15 299.18 L187.89 298.92 L189.59 298.65 L190.4 298.03 L192.19 298.5 L194.39 298.65 L195.7 299.18 L195.25 299.99 L196.69 300.15 L198.91 300.26 L201.28 300.15 L202.67 300.26 L204.58 301.1 L205.48 301.66 L206.21 301.38 L207.5 301.38 L209.21 301.38 L208.89 300.82 L211.59 300.93 L213.93 301.38 L215.27 301.71 L217.35 301.66 L219.48 302.23 L220.33 302.52 L222.09 302.52 L222.97 302.23 L224.72 302.8 L224.28 302.23 L226.65 302.34 L229.14 302.8M70.06 302.8 L70.49 303.39 L70.77 303.8 L71.92 304.1 L72.16 304.52 L70.43 305 L69.14 305.6 L68.34 305.18 L68.05 304.58 L66.93 304.88M232.71 305.18 L232.22 305.48 L233.97 306.4 L234.63 306.71 L233.45 306.71 L232.84 307.14 L232.29 307.64 L232.36 308.27 L230.32 308.39 L229.28 308.33 L229.97 309.22 L229.7 309.53 L231.27 310.5 L231.81 311.47 L232 312.64 L231.89 313.43 L231.72 314.09 L230.38 313.1 L228.62 311.47 L227.32 310.17 L227.58 309.41 L227.26 308.27 L227.37 307.95 L227.67 307.2 L227.29 306.71 L226.24 307.2 L224.57 307.33 L224.73 308.39 L224.07 308.9 L222.09 308.64 L220.69 308.71 L219.29 308.77 L219.01 309.73 L218.79 310.82 L218.33 311.6 L219.7 312.12 L220.33 312.25 L221.7 312.64 L222.88 313.23 L223.18 314.09 L224.22 315.42 L224.25 316.56 L224.18 317.23 L223.9 318.45 L223.09 319.6 L222.26 319.33 L221.91 319.94 L221.68 320.48 L221.95 320.96 L221.12 321.71 L221.3 322.05 L221.99 322.53 L223.12 323.56 L223.59 324.59 L223.48 324.87 L222.74 325.14 L222.11 325.28 L221.78 324.25 L221.58 323.56 L220.56 323.08 L220.1 322.47 L219.96 321.85 L219.22 321.51 L218.27 322.19 L217.89 322.33 L217.76 321.17 L217.06 320.89 L216.49 321.99 L215.91 322.19 L216.79 322.88 L217.26 323.42 L217.98 323.01 L219.07 323.29 L219.17 323.63 L218.33 324.18 L217.95 324.93 L218.66 325.42 L219.35 326.31 L220.19 327 L220.52 327.75 L219.84 328.17 L220.81 328.44 L220.91 329.54 L220.48 330.3 L220.24 331.19 L219.8 332.09 L219.17 332.77 L218.49 333.25 L217.5 333.67 L216.82 333.87 L216.1 334.15 L215.36 334.35 L215.41 335.04 L215 334.7 L214.85 334.15 L214.07 334.15 L213.37 334.56 L213.2 335.04 L212.87 335.94 L213.42 336.83 L214.14 337.65 L214.96 338.34 L215.49 339.72 L215.6 340.75 L214.89 341.57 L214.31 341.85 L214.06 342.47 L213.31 343.02 L213.01 342.26 L212.8 341.92 L212.18 341.71 L211.7 340.96 L211.16 340.41 L210.54 340.27 L210.37 339.79 L209.9 339.86 L209.92 340.75 L209.59 341.78 L209.71 342.61 L210.17 343.16 L210.52 344.05 L211.15 344.32 L211.65 344.74 L212.36 345.7 L212.39 346.59 L212.53 347.28 L212.92 348.04 L212.49 348.11 L211.57 347.42 L211.13 347.01 L210.68 346.25 L210.52 345.22 L210.37 344.53 L209.91 343.98 L209.27 343.36 L209.12 342.81 L209.23 341.78 L209.2 340.75 L208.76 339.37 L208.35 338.34 L208.2 337.65 L207.67 337.31 L207 338.14 L206.38 338 L206.13 336.97 L205.82 336 L205.43 335.39 L204.62 334.7 L204.18 333.67 L203.39 333.53 L203.14 333.87 L202.45 334.08 L201.4 334.22 L201.37 334.9 L200.67 335.45 L199.87 336.28 L199 337.52 L198.28 338.14 L197.86 338.69 L197.95 339.72 L197.85 340.75 L197.87 341.92 L197.42 342.61 L196.95 342.88 L196.55 343.43 L195.92 342.81 L195.56 341.78 L195.07 340.75 L194.72 340.06 L194.31 338.69 L193.73 337.65 L193.32 336.62 L193.12 335.8 L192.98 334.56 L192.76 334.15 L192.63 334.56 L191.93 334.77 L191.32 334.56 L190.62 333.67 L191.34 333.19 L190.24 332.84 L189.46 332.29 L189.04 331.81 L187.73 331.67 L186.08 331.74 L184.46 331.54 L183.42 331.26 L183.03 330.44 L181.88 330.71 L180.79 330.44 L179.84 329.82 L179.27 329.06 L178.75 328.24 L178.15 328.1 L177.61 328.37 L177.65 328.72 L178.04 329.54 L178.72 330.3 L179.18 330.78 L179.25 331.47 L179.64 331.81 L179.8 331.05 L180.1 331.67 L180.03 332.15 L180.7 332.36 L181.6 332.43 L182.28 331.6 L182.69 331.05 L182.84 330.85 L182.95 331.81 L183.38 332.5 L184.36 332.77 L185.14 333.53 L185.03 334.29 L184.5 334.97 L184.16 335.94 L183.44 336.62 L182.6 337.31 L181.42 337.59 L180.98 338.27 L179.69 338.69 L178.94 339.37 L177.64 339.79 L176.75 340.2 L175.85 340.27 L175.65 339.86 L175.36 338.82 L175.24 337.72 L174.77 336.83 L174.12 335.94 L173.47 335.04 L172.88 334.22 L172.43 332.77 L171.6 331.81 L171.14 331.12 L170.47 330.09 L170.14 329.75 L169.94 328.79 L169.79 329.75 L169.69 329.89 L169.05 329.34 L168.63 328.44 L168.65 328.72 L169.26 329.75 L169.63 330.64 L170.31 331.95 L170.78 332.84 L171.55 333.87 L171.77 334.56 L171.9 335.94 L172.66 336.62 L173.35 338.34 L174.28 338.89 L175.23 339.92 L175.73 340.41 L175.58 341.02 L176.51 341.85 L178 341.3 L179.21 341.23 L180.46 340.75 L180.58 340.89 L180.5 341.85 L180.18 342.81 L179.61 344.19 L178.74 345.91 L177.54 347.35 L176.34 348.31 L175.12 349.69 L174.51 350.38 L174.02 351.06 L173.58 352.09 L173.13 353.33 L173.55 353.81 L173.4 354.84 L173.62 355.88 L174.09 356.29 L174.1 357.59 L174.17 358.97 L173.81 360 L173 360.69 L171.77 361.24 L171.13 362.06 L170.38 362.61 L170.62 363.78 L170.66 365.16 L170.5 365.85 L169.09 366.53 L168.9 367.56 L168.65 368.6 L167.87 369.49 L167.03 370.52 L166.08 371.48 L165.16 372.1 L164.38 372.38 L163.12 372.38 L162.25 372.52 L161.07 372.93 L160.23 372.52 L160.18 371.48 L160.22 370.66 L159.69 369.63 L159.27 368.66 L158.83 367.91 L158.45 366.88 L158.19 365.5 L158.22 364.47 L157.65 363.44 L157.07 362.06 L156.67 361.03 L156.69 360 L157.01 358.97 L157.75 357.59 L157.94 356.56 L157.47 355.19 L157.06 353.26 L156.88 352.44 L156.28 351.61 L155.49 350.72 L155.07 349.69 L155.25 348.66 L155.49 347.97 L155.55 346.94 L155.37 346.32 L154.88 345.91 L153.97 345.97 L153.24 346.04 L152.63 345.08 L152.27 344.67 L151.12 344.67 L150.21 344.94 L149.3 345.29 L148.39 345.7 L147.66 345.49 L146.57 345.42 L145.05 345.97 L144.14 345.56 L143.05 344.53 L142.63 344.19 L142.02 343.84 L141.54 343.16 L141.55 342.47 L140.83 341.71 L140.53 341.44 L139.52 340.54 L139.47 339.72 L139.07 338.89 L139.69 338 L139.9 336.62 L139.86 335.59 L139.47 334.56 L139.61 333.74 L140.11 332.7 L140.86 331.47 L141.65 330.44 L142.03 329.82 L142.86 329.54 L143.76 328.72 L143.96 327.68 L144.22 326.65 L144.99 325.97 L145.69 325.55 L146.17 324.45 L146.52 324.32 L147.88 324.73 L148.45 324.87 L149.03 324.45 L149.6 324.32 L150.45 323.9 L151.31 323.7 L152.44 323.7 L153.58 323.56 L154.71 323.49 L155.27 323.36 L155.85 323.56 L155.59 324.25 L155.9 324.93 L155.35 325.48 L155.82 325.83 L156.06 326.17 L156.82 326.45 L157.4 326.38 L158.4 326.79 L158.71 327.34 L159.78 327.75 L160.68 328.17 L161.23 327.68 L161.17 326.72 L162.02 326.38 L162.9 326.58 L164.11 327.27 L165.58 327.55 L166.47 327.75 L167.2 327.41 L167.89 327.34 L168.37 327.48 L169.08 327.62 L169.53 327.48 L169.71 327 L169.81 326.31 L170.15 325.28 L170.14 324.25 L170.2 323.84 L169.39 323.7 L168.7 324.11 L167.84 324.11 L167 323.7 L166.3 324.04 L165.53 323.77 L165.11 323.56 L164.55 322.53 L164.65 321.85 L164.28 321.51 L164.97 321.23 L165.76 320.83 L166.86 320.76 L167.89 320.14 L169 320.14 L169.91 320.62 L171.05 320.83 L171.89 320.83 L172.66 320.48 L172.59 319.8 L171.58 319.12 L170.66 318.58 L169.9 318.04 L170.17 317.43 L170.56 316.63 L169.8 316.89 L168.78 317.23 L168.61 317.77 L169.45 317.91 L168.69 318.24 L167.97 318.51 L167.26 317.84 L167.74 317.43 L166.87 317.1 L166.22 317.1 L165.75 317.91 L165.33 318.79 L165.03 319.46 L164.91 319.8 L165.27 320.48 L165.74 320.69 L164.92 320.83 L164.38 320.96 L163.55 320.96 L163.01 321.17 L162.75 321.37 L162.35 321.3 L162.42 321.99 L163.16 322.74 L162.64 323.22 L162.81 323.9 L162.35 323.84 L161.93 323.63 L161.59 322.88 L161.01 321.99 L160.49 321.17 L160.42 320.35 L159.82 319.8 L158.96 319.33 L158.09 318.79 L157.49 317.97 L157.04 317.77 L156.34 317.91 L156.38 318.58 L157.07 319.12 L157.45 319.87 L158.47 320.21 L158.5 320.55 L159.65 321.1 L159.96 321.44 L159.8 321.64 L159.1 321.23 L158.86 321.78 L159.23 322.19 L158.92 322.67 L158.48 322.94 L158.51 322.47 L158.66 322.19 L158.34 321.51 L157.86 321.1 L157.28 320.69 L156.43 320.35 L155.68 319.87 L155.26 319.12 L154.97 318.72 L154.41 318.51 L153.71 318.92 L153.01 319.4 L152.24 319.19 L151.53 319.26 L151.26 319.8 L151.37 320.21 L150.71 320.62 L150.05 321.03 L149.49 321.71 L149.66 322.33 L149.2 323.01 L148.58 323.56 L148.29 323.7 L147.04 323.77 L146.4 324.25M175.78 319.46 L175.28 318.45 L175.59 317.43 L176.55 316.96 L177.88 316.89 L178.42 317.91 L177.63 318.45 L177.11 318.58 L177.67 319.33 L178.62 319.8 L178.78 320.48 L179.61 320.96 L179.36 321.85 L180.12 323.36 L179.17 323.7 L178.14 323.36 L177.35 323.08 L177.14 321.99 L177.27 321.23 L176.51 320.28 L175.78 319.46M146.6 314.69 L147.76 314.55 L149.08 314.29 L150.28 313.96 L149.86 313.76 L150.48 312.97 L149.75 312.77 L149.6 312.31 L148.94 311.6 L148.59 310.88 L147.94 310.82 L148.61 309.79 L147.62 309.73 L148.12 309.15 L147.14 309.15 L146.52 309.85 L146.84 310.69 L147.16 311.6 L147.97 311.6 L148.06 312.44 L147.28 312.58 L147.42 313.23 L146.89 313.56 L147.88 313.83 L147.35 314.02 L146.6 314.69M144.39 313.63 L145.33 313.56 L146.33 313.3 L146.52 312.44 L146.7 311.66 L145.9 311.27 L145.27 311.79 L144.49 311.99 L144.71 312.64 L144.25 313.3 L144.39 313.63M138.45 304.82 L139.59 304.34 L140.3 304.76 L141.39 304.46 L142.33 304.28 L142.89 304.88 L143.26 305.3 L142.62 305.66 L141.15 306.15 L139.99 306.09 L138.99 305.91 L139.38 305.54 L138.51 305.24 L139.38 305 L138.45 304.82M153.79 297.15 L155.07 297.88 L155.35 298.39 L156.39 298.6 L156.98 297.73 L157.91 297.58 L157.62 297.24 L158.77 297.24 L159.8 296.91 L157.84 296.68 L155.64 296.91 L153.79 297.15M171.63 301.26 L172.53 301.77 L174.07 301.83 L174.26 301.38 L172.74 300.54 L172.84 299.99 L173.56 299.18 L175.6 298.65 L176.98 298.39 L175.79 298.39 L173.67 298.76 L172.41 299.29 L172.17 300.26 L171.63 301.26M184.88 296.45 L186.73 297 L188.45 297.73 L190 297.73 L189.72 297.24 L187.05 296.68 L185.5 296.37 L184.88 296.45M205.07 299.08 L207.05 299.56 L208.93 299.45 L210.79 299.34 L208.45 298.92 L205.94 298.86 L205.07 299.08M208.15 300.15 L209.73 300.37 L208.62 300.05 L208.15 300.15M226.44 301.54 L226.8 301.38M72.4 301.38 L73.19 301.54 L72.26 301.71 L71.93 301.66M167.2 296.68 L169.17 296.82 L171.32 296.68 L172.62 296.45 L169.85 296.24 L167.2 296.68M222.08 311.92 L223.36 312.77 L224.65 314.09 L225.93 315.22 L226.54 316.76 L226.48 317.43 L225.52 316.09 L224.24 314.42 L222.98 313.1 L222.08 311.92M227.4 320.48 L227.53 319.8 L228.96 320.14 L229.65 319.26 L228.67 318.79 L226.76 317.84 L227.36 319.12 L226.92 319.46 L227.4 320.48M227.94 320.55 L228.65 321.17 L229.34 321.85 L229.35 322.88 L229.82 323.9 L229.86 324.8 L229.22 325.14 L228.22 325.21 L228.41 325.9 L227.67 325.9 L227.19 325.21 L226.02 325.42 L224.99 325.69 L224.81 325.28 L225.53 324.59 L227.04 324.52 L227.35 323.63 L227.43 323.22 L228.15 323.29 L228.31 322.53 L228.02 321.51 L227.78 320.83 L227.94 320.55M224.53 325.97 L225.36 325.9 L225.85 326.65 L225.71 327.48 L225.24 327.48 L224.92 326.65 L224.49 326.31 L224.53 325.97M225.88 326.03 L226.76 325.42 L227.14 325.76 L226.6 326.1 L226.34 326.45 L225.88 326.03M221.42 331.67 L221.73 332.02 L221.52 333.87 L221 333.32 L220.92 332.64 L221.16 331.81 L221.42 331.67M214.57 335.73 L215.43 335.18 L215.91 335.52 L215.44 336.35 L214.77 336.28 L214.57 335.73M221.78 336.28 L222.75 336.35 L223.03 337.65 L222.71 338.69 L223.1 339.37 L224.33 339.51 L224.43 340.34 L223.55 339.58 L222.53 339.58 L222.21 339.03 L221.75 338.34 L221.86 337.86 L221.77 336.97 L221.78 336.28M225.54 342.26 L226.17 343.29 L226.26 344.53 L225.73 344.87 L225.52 344.32 L224.94 344.74 L224.77 343.98 L223.69 344.19 L223.64 343.5 L224.4 343.09 L225.11 342.95 L225.54 342.26M224.62 340.41 L225.37 340.61 L225.46 341.44 L225.21 341.99 L224.95 341.23 L224.62 340.41M223.29 340.89 L224.03 341.09 L224.19 342.12 L223.93 342.61 L223.62 341.78 L223.29 340.89M220.65 343.22 L221.32 342.47 L221.91 341.57 L221.76 341.99 L221.06 342.95 L220.65 343.22M215.83 347.97 L216.19 347.62 L217.17 347.97 L217.27 347.28 L218.23 346.8 L219.11 345.84 L219.69 345.29 L220.36 344.26 L220.99 344.74 L221.94 345.36 L221.36 346.04 L221.14 346.59 L220.99 347.62 L221.79 348.31 L221.19 348.66 L221.01 349.55 L220.39 350.03 L220.24 351.06 L220.03 351.75 L219.24 351.82 L218.65 351.27 L217.49 351.41 L216.54 350.93 L216.44 350.03 L215.84 349.34 L215.83 347.97M207.42 345.15 L208.77 345.42 L209.28 346.11 L210.22 346.94 L210.84 347.56 L211.89 348.31 L212.69 349 L212.5 349.69 L213.09 350.24 L213.99 350.93 L213.96 351.75 L213.79 352.99 L213.06 352.99 L212.6 352.44 L211.71 351.75 L210.95 350.86 L210.55 349.69 L209.89 348.86 L209.51 347.83 L208.82 347.07 L208.01 346.39 L207.42 345.15M213.45 353.68 L214.02 353.13 L215.4 353.54 L216.8 353.4 L217.93 353.74 L218.99 354.29 L218.89 354.91 L217.45 354.71 L215.96 354.36 L215.05 354.36 L214.15 354.09 L213.45 353.68M222.52 348.45 L223.13 348.11 L224.65 348.38 L225.55 347.9 L225.14 348.72 L223.44 348.66 L222.65 349.62 L223.44 349.62 L224.53 349.55 L224.52 349.83 L223.6 350.31 L224.18 351.34 L224.39 352.09 L223.94 352.64 L223.53 352.23 L223.08 351.54 L223.16 350.93 L222.72 351.41 L222.66 352.78 L222.11 352.78 L222.17 351.41 L221.76 350.93 L222.35 349.07 L222.52 348.45M229.21 349.55 L230.13 349.28 L231.03 349.55 L231.59 351.27 L232.22 350.51 L233.33 350.03 L234.35 350.51 L235.25 350.79 L236.45 351.34 L237.34 351.61 L238.09 352.44 L239.08 353.13 L239.21 353.81 L239.57 355.19 L240.63 356.08 L239.61 356.01 L238.57 355.53 L238.06 354.57 L237.17 354.29 L236.4 354.78 L235.74 355.33 L234.96 355.26 L234.3 354.57 L233.37 354.78 L233.75 353.81 L233.34 352.78 L231.86 352.09 L230.67 351.54 L230.23 351.82 L229.78 350.99 L230.82 350.65 L229.79 350.51 L229.21 349.55M239.7 352.85 L240.8 352.78 L241.88 351.89 L242.04 352.37 L241.2 353.13 L240.28 353.33 L239.7 352.85M224.36 356.08 L225.28 355.19 L226.53 354.78 L226.19 355.19 L225.24 355.74 L224.36 356.08M219.87 354.78 L220.78 354.71 L221.68 354.84 L222.89 354.84 L223.99 354.71 L223.96 355.05 L222.26 355.12 L220.44 355.19 L219.87 354.78M227.07 347.76 L227.38 348.31 L227.7 348.79 L227.39 349.48 L227.21 348.66 L227.07 347.76M227.35 351.06 L229.04 351.27 L228.24 351.41 L227.35 351.06M197.89 342.33 L198.2 342.47 L198.84 343.16 L199.26 344.19 L198.73 344.81 L198.13 344.87 L197.91 343.84 L197.89 342.33M179.37 357.25 L179.84 359.66 L179.46 360 L179.19 361.38 L178.53 363.1 L177.86 364.81 L177.39 366.19 L176.36 366.53 L175.62 366.19 L175.34 364.47 L176.02 363.1 L175.95 361.38 L176.33 360.14 L177.43 359.8 L178.38 358.97 L179.04 357.94 L179.37 357.25M235.76 356.36 L236.21 357.59 L236.14 358.83 L237.03 359.31 L237.12 361.03 L237.08 362.06 L237.95 362.75 L238.54 364.13 L239.09 365.02 L239.9 366.19 L239.76 367.56 L239.49 368.8 L238.58 370.32 L237.64 371.48 L236.46 372.38 L235.36 373.75 L234.63 374.78 L233.34 375.06 L231.95 375.81 L231.49 375.33 L230.46 375.67 L229.52 375.33 L228.96 374.78 L229.2 373.75 L228.47 373.48 L229.02 372.93 L229.17 371.69 L228.54 372.72 L227.92 373.2 L227.47 372.93 L227.38 372.1 L227.03 371.55 L226.1 371 L224.47 370.73 L222.54 371.21 L221.2 371.69 L220.67 372.31 L219.26 372.24 L218.23 372.65 L217.21 373.07 L216.09 373 L215.67 372.58 L216.35 371.69 L216.77 370.66 L216.7 369.63 L216.77 368.6 L216.64 367.29 L216.59 366.53 L217.11 365.16 L217.18 364.47 L217.56 363.99 L218.75 363.3 L219.67 363.16 L220.64 362.75 L221.88 362.48 L222.84 361.45 L222.97 360.69 L223.72 360.9 L224.07 360.21 L224.89 359.59 L225.61 358.76 L226.54 358.63 L226.81 359.24 L227.6 359.18 L227.79 358.28 L228.49 357.53 L229.6 357.32 L229.78 356.84 L231.22 357.39 L232.15 357.25 L231.61 358.14 L231.15 359.18 L231.94 359.86 L233 360.62 L233.63 361.1 L234.23 360.48 L234.8 358.97 L235.1 357.73 L235.55 356.56 L235.76 356.36M230.36 376.97 L231.19 377.24 L232.27 377.04 L231.73 377.86 L230.8 378.67 L229.83 378.88 L229.99 378.06 L230.36 376.97M248.79 372.65 L249.2 373.41 L249.39 374.3 L249.32 374.85 L250.46 374.85 L250.36 375.33 L248.99 376.15 L247.84 377.17 L246.8 377.58 L247.05 377.04 L247.29 376.01 L248.41 375.12 L248.95 374.1 L248.77 373.27 L248.79 372.65M246.09 376.83 L246.56 377.31 L246.03 377.86 L244.56 378.88 L243.24 379.42 L242.19 380.43 L241.03 380.97 L240.17 380.7 L239.91 380.36 L241.54 379.35 L243.29 378.54 L244.75 377.72 L246.09 376.83M247.48 362.82 L248.23 363.44 L248.89 364.33 L248.35 364.13 L247.67 363.3 L247.48 362.82M255.88 361.03 L256.65 361.1 L256.3 361.51 L255.78 361.45 L255.88 361.03M256.86 360.48 L257.7 360.21M243.64 352.92 L244.2 353.61M244.76 354.16 L246.4 354.78M246.33 355.39 L247.02 355.74M249.9 359.31 L250.12 360M156.67 322.88 L158.36 322.74 L158.24 323.56 L157.72 323.56 L156.68 323.15 L156.67 322.88M154.17 320.83 L154.95 320.83 L155.05 321.99 L154.38 322.19 L154.17 320.83M154.35 319.8 L154.78 319.46 L154.87 320.35 L154.49 320.42 L154.35 319.8M163.04 324.59 L164.66 324.8 L163.81 325 L163.05 324.8 L163.04 324.59M168.11 324.93 L168.76 324.66 L169.38 324.52 L169.03 325 L168.54 325.21 L168.11 324.93M186.14 382.58 L186.91 382.65 L186.6 383.05 L186.1 382.98 L186.14 382.58M181.83 340.34 L182.49 340.41M173.44 352.99 L173.56 353.4M229.36 318.45 L230.24 317.77M230.81 317.43 L231.28 316.63M231.24 315.55 L231.51 314.62M103.37 331.74 L103.51 332.36M103.95 330.64 L104.2 330.92M151 321.78 L151.45 321.71M158.66 309.98 L158.96 309.66M155.15 311.01 L155.79 310.88 L155.83 311.34 L155.27 311.34 L155.15 311.01M115.1 316.96 L116.12 317.16M115.53 314.89 L116.74 315.22M171.03 302.8 L171.37 302.57 L171.3 302.92 L171.03 302.8M205.56 339.86 L205.59 340.96M213.7 350.24 L214.29 350.86M226.25 351.27 L226.73 351.41M221.74 355.53 L222.62 355.88M219.03 354.64 L219.62 354.78 L219.36 355.05 L219.03 354.64M241.21 350.79 L242.21 351.54 L242.48 352.16M243.47 352.78 L244.08 353.61M111.39 306.83 L111.64 307.2M110.4 306.52 L110.99 306.71M107.59 312.71 L108.2 312.84M125.8 302.23 L126.78 302.46M115.79 307.95 L115.49 309.03" fill="none" stroke="#000" stroke-width="2.25" stroke-linejoin="round" stroke-linecap="round"/>
<path d="M97.9 302.8 L99.38 303.1 L101.88 302.8 L104.79 302.52 L106.34 301.1 L105.43 300.54 L103.32 300.54 L101.54 300.26 L99.63 300.82 L98.8 301.94 L97.9 302.8M96.33 301.1 L96.65 301.54 L97.92 301.38 L100.38 300.54 L101.46 299.99 L100.42 299.83 L98.28 299.88 L96.33 301.1M111.21 298.65 L113.33 298.92 L116.3 299.18 L116.72 299.61 L113.33 299.72 L111.79 299.61 L111.21 298.65M102.44 298.92 L104.67 298.76 L106.88 298.92 L106.43 299.45 L104.46 299.56 L102.96 299.45 L102.44 298.92M107.15 300.1 L109.34 299.99 L110.32 300.26 L109.96 301.1 L108.43 301.38 L107.57 301.38 L106.52 300.71 L107.15 300.1M113.35 296.91 L115.9 296.68 L116.47 297.15 L114.64 297.73 L112.82 297.63 L113.35 296.91M109.64 304.88 L111.14 304.7 L111.93 305.6 L110.6 306.21 L109.27 306.09 L109.64 304.88M80.48 400.61 L84.65 400.76 L90.19 401.55 L89.94 401.09 L92.48 400.85 L93.46 400.37 L96.46 399.86 L99.61 399.35 L103.97 399.61 L108.27 399.86 L109.29 399.08 L111.31 399.08 L114.13 399.08 L117.51 399.24 L119.05 398.71 L120.23 397.57 L119.97 395.89 L120 394.43 L121.18 393.24 L122.68 392.52 L122.25 393.54 L121.95 394.73 L123.02 395.89 L124.01 397.57 L125.12 398.66 L125.68 399.45 L130.37 400.56 L133.14 400.71 L135.82 400.71 L137.83 399.97 L139.63 399.45 L141.38 398.39 L143.73 397.57 L145.35 397.02 L147.46 396.74 L149.6 396.46 L153.9 396.46 L158.21 396.46 L162.62 396.06 L164.85 395.89 L167.13 395.6 L169.51 395.14 L171.97 394.55 L174.4 394.14 L176.27 394.9 L178.36 395.14 L180.35 395.48 L180.78 396.17 L182 396.29 L183.79 395.6 L186.17 394.73 L188.97 394.55 L192.34 394.26 L194.84 393.96 L196.69 394.43 L199.2 394.14 L201.06 394.55 L203.41 394.43 L205.78 394.32 L208.22 394.14 L210.48 394.14 L212.24 394.55 L214.26 394.73 L215.5 395.48 L217.14 395.89 L218.48 396.46 L220.36 396.62 L221.77 397.07 L221.25 397.63 L218.54 398.44 L215.39 399.24 L213.7 400.27 L213.94 400.52 L216.69 400.66 L218.72 400.61M106.69 300.54 L108.23 300.26 L108.31 300.82 L107.14 301.38 L106.34 301.1 L106.69 300.54M105.63 302.8 L107.42 302.52 L107.21 303.04 L106.05 303.1 L105.63 302.8M108.81 298.65 L110.41 298.65 L109.68 299.29 L108.28 299.45 L107.36 299.18 L108.81 298.65M110.49 299.29 L111.42 299.18 L111.18 299.61 L110.3 299.67 L110.49 299.29M100.43 298.92 L102.78 298.39 L103.21 298.65 L101.42 299.08 L100.43 298.92M109.15 297.48 L111.2 297.39 L110.95 297.88 L109.19 298.03 L109.15 297.48M115.66 300.37 L117.42 300.26 L117.54 300.65 L116.15 300.82 L115.66 300.37M109.86 302.23 L110.96 301.94 L110.94 302.52M114.45 302.52 L115.3 303.21 L115.33 303.86 L116.43 304.28M72.73 305 L73.32 305.6 L71.67 306.71 L71 307.64 L70.82 308.39 L71.2 309.34 L71.13 309.85 L68.83 310.82 L66.62 311.47M74.62 304.28 L75.99 304.28 L74.18 305.3 L74.72 305.79 L72.71 307.02 L72.31 307.95 L72.55 308.58 L72.47 309.53 L71.28 310.17" fill="none" stroke="#000" stroke-width="3.15" stroke-linejoin="round" stroke-linecap="round"/>
</g>
<path d="M212.2 403.12 L214.79 402.19 L217.57 401.09 L220.45 399.86 L223.25 398.55 L225.82 397.18 L228.21 395.77 L230.5 394.32 L232.71 392.82 L234.87 391.29 L236.97 389.73 L239 388.15 L240.95 386.53 L242.81 384.9 L244.55 383.25 L246.15 381.58 L247.64 379.89 L249.08 378.2 L250.42 376.49 L251.64 374.78 L252.73 373.07 L253.73 371.35 L254.62 369.63 L255.4 367.91 L256.05 366.19 L256.58 364.47 L257.05 362.75 L257.5 361.03 L257.91 359.31 L258.24 357.59 L258.5 355.88 L258.7 354.16 L258.85 352.44 L258.95 350.72 L259 349 L258.95 347.28 L258.85 345.56 L258.7 343.84 L258.5 342.12 L258.24 340.41 L257.91 338.69 L257.5 336.97 L257.05 335.25 L256.58 333.53 L256.05 331.81 L255.4 330.09 L254.62 328.37 L253.73 326.65 L252.73 324.93 L251.64 323.22 L250.42 321.51 L249.08 319.8 L247.64 318.11 L246.15 316.42 L244.55 314.75 L242.81 313.1 L240.95 311.47 L239 309.85 L236.97 308.27 L234.87 306.71 L232.71 305.18 L230.5 303.68 L228.21 302.23 L225.82 300.82 L223.25 299.45 L220.45 298.14 L217.57 296.91 L214.79 295.81 L212.2 294.88 L87 294.88 L84.41 295.81 L81.63 296.91 L78.75 298.14 L75.95 299.45 L73.38 300.82 L70.99 302.23 L68.7 303.68 L66.49 305.18 L64.33 306.71 L62.23 308.27 L60.2 309.85 L58.25 311.47 L56.39 313.1 L54.65 314.75 L53.05 316.42 L51.56 318.11 L50.12 319.8 L48.78 321.51 L47.56 323.22 L46.47 324.93 L45.47 326.65 L44.58 328.37 L43.8 330.09 L43.15 331.81 L42.62 333.53 L42.15 335.25 L41.7 336.97 L41.29 338.69 L40.96 340.41 L40.7 342.12 L40.5 343.84 L40.35 345.56 L40.25 347.28 L40.2 349 L40.25 350.72 L40.35 352.44 L40.5 354.16 L40.7 355.88 L40.96 357.59 L41.29 359.31 L41.7 361.03 L42.15 362.75 L42.62 364.47 L43.15 366.19 L43.8 367.91 L44.58 369.63 L45.47 371.35 L46.47 373.07 L47.56 374.78 L48.78 376.49 L50.12 378.2 L51.56 379.89 L53.05 381.58 L54.65 383.25 L56.39 384.9 L58.25 386.53 L60.2 388.15 L62.23 389.73 L64.33 391.29 L66.49 392.82 L68.7 394.32 L70.99 395.77 L73.38 397.18 L75.95 398.55 L78.75 399.86 L81.63 401.09 L84.41 402.19 L87 403.12 Z" fill="none" stroke="#000" stroke-width="1.7"/>
<clipPath id="clipd"><path d="M487.91 403.12 L490.5 402.19 L493.28 401.09 L496.16 399.86 L498.97 398.55 L501.54 397.18 L503.94 395.77 L506.22 394.32 L508.44 392.82 L510.6 391.29 L512.7 389.73 L514.73 388.15 L516.68 386.53 L518.54 384.9 L520.29 383.25 L521.88 381.58 L523.38 379.89 L524.82 378.2 L526.17 376.49 L527.38 374.78 L528.48 373.07 L529.48 371.35 L530.37 369.63 L531.14 367.91 L531.79 366.19 L532.33 364.47 L532.8 362.75 L533.25 361.03 L533.65 359.31 L533.99 357.59 L534.25 355.88 L534.45 354.16 L534.6 352.44 L534.7 350.72 L534.75 349 L534.7 347.28 L534.6 345.56 L534.45 343.84 L534.25 342.12 L533.99 340.41 L533.65 338.69 L533.25 336.97 L532.8 335.25 L532.33 333.53 L531.79 331.81 L531.14 330.09 L530.37 328.37 L529.48 326.65 L528.48 324.93 L527.38 323.22 L526.17 321.51 L524.82 319.8 L523.38 318.11 L521.88 316.42 L520.29 314.75 L518.54 313.1 L516.68 311.47 L514.73 309.85 L512.7 308.27 L510.6 306.71 L508.44 305.18 L506.22 303.68 L503.94 302.23 L501.54 300.82 L498.97 299.45 L496.16 298.14 L493.28 296.91 L490.5 295.81 L487.91 294.88 L362.59 294.88 L360 295.81 L357.22 296.91 L354.34 298.14 L351.53 299.45 L348.96 300.82 L346.56 302.23 L344.28 303.68 L342.06 305.18 L339.9 306.71 L337.8 308.27 L335.77 309.85 L333.82 311.47 L331.96 313.1 L330.21 314.75 L328.62 316.42 L327.12 318.11 L325.68 319.8 L324.33 321.51 L323.12 323.22 L322.02 324.93 L321.02 326.65 L320.13 328.37 L319.36 330.09 L318.71 331.81 L318.17 333.53 L317.7 335.25 L317.25 336.97 L316.85 338.69 L316.51 340.41 L316.25 342.12 L316.05 343.84 L315.9 345.56 L315.8 347.28 L315.75 349 L315.8 350.72 L315.9 352.44 L316.05 354.16 L316.25 355.88 L316.51 357.59 L316.85 359.31 L317.25 361.03 L317.7 362.75 L318.17 364.47 L318.71 366.19 L319.36 367.91 L320.13 369.63 L321.02 371.35 L322.02 373.07 L323.12 374.78 L324.33 376.49 L325.68 378.2 L327.12 379.89 L328.62 381.58 L330.21 383.25 L331.96 384.9 L333.82 386.53 L335.77 388.15 L337.8 389.73 L339.9 391.29 L342.06 392.82 L344.28 394.32 L346.56 395.77 L348.96 397.18 L351.53 398.55 L354.34 399.86 L357.22 401.09 L360 402.19 L362.59 403.12 Z"/></clipPath>
<g clip-path="url(#clipd)">
<path d="M487.91 403.12 L490.5 402.19 L493.28 401.09 L496.16 399.86 L498.97 398.55 L501.54 397.18 L503.94 395.77 L506.22 394.32 L508.44 392.82 L510.6 391.29 L512.7 389.73 L514.73 388.15 L516.68 386.53 L518.54 384.9 L520.29 383.25 L521.88 381.58 L523.38 379.89 L524.82 378.2 L526.17 376.49 L527.38 374.78 L528.48 373.07 L529.48 371.35 L530.37 369.63 L531.14 367.91 L531.79 366.19 L532.33 364.47 L532.8 362.75 L533.25 361.03 L533.65 359.31 L533.99 357.59 L534.25 355.88 L534.45 354.16 L534.6 352.44 L534.7 350.72 L534.75 349 L534.7 347.28 L534.6 345.56 L534.45 343.84 L534.25 342.12 L533.99 340.41 L533.65 338.69 L533.25 336.97 L532.8 335.25 L532.33 333.53 L531.79 331.81 L531.14 330.09 L530.37 328.37 L529.48 326.65 L528.48 324.93 L527.38 323.22 L526.17 321.51 L524.82 319.8 L523.38 318.11 L521.88 316.42 L520.29 314.75 L518.54 313.1 L516.68 311.47 L514.73 309.85 L512.7 308.27 L510.6 306.71 L508.44 305.18 L506.22 303.68 L503.94 302.23 L501.54 300.82 L498.97 299.45 L496.16 298.14 L493.28 296.91 L490.5 295.81 L487.91 294.88 L362.59 294.88 L360 295.81 L357.22 296.91 L354.34 298.14 L351.53 299.45 L348.96 300.82 L346.56 302.23 L344.28 303.68 L342.06 305.18 L339.9 306.71 L337.8 308.27 L335.77 309.85 L333.82 311.47 L331.96 313.1 L330.21 314.75 L328.62 316.42 L327.12 318.11 L325.68 319.8 L324.33 321.51 L323.12 323.22 L322.02 324.93 L321.02 326.65 L320.13 328.37 L319.36 330.09 L318.71 331.81 L318.17 333.53 L317.7 335.25 L317.25 336.97 L316.85 338.69 L316.51 340.41 L316.25 342.12 L316.05 343.84 L315.9 345.56 L315.8 347.28 L315.75 349 L315.8 350.72 L315.9 352.44 L316.05 354.16 L316.25 355.88 L316.51 357.59 L316.85 359.31 L317.25 361.03 L317.7 362.75 L318.17 364.47 L318.71 366.19 L319.36 367.91 L320.13 369.63 L321.02 371.35 L322.02 373.07 L323.12 374.78 L324.33 376.49 L325.68 378.2 L327.12 379.89 L328.62 381.58 L330.21 383.25 L331.96 384.9 L333.82 386.53 L335.77 388.15 L337.8 389.73 L339.9 391.29 L342.06 392.82 L344.28 394.32 L346.56 395.77 L348.96 397.18 L351.53 398.55 L354.34 399.86 L357.22 401.09 L360 402.19 L362.59 403.12 Z" fill="#ffffff"/>
<path d="M367.82 294.88 L362.89 296.91 L357.68 299.45 L353.58 299.45 L359.11 296.91 L364.33 294.88ZM426.99 294.88 L427.14 296.91 L427.3 299.45 L423.2 299.45 L423.36 296.91 L423.51 294.88ZM430.47 294.88 L430.92 296.91 L431.39 299.45 L427.3 299.45 L427.14 296.91 L426.99 294.88ZM437.43 294.88 L438.48 296.91 L439.58 299.45 L435.49 299.45 L434.7 296.91 L433.95 294.88ZM444.39 294.88 L446.04 296.91 L447.77 299.45 L443.68 299.45 L442.26 296.91 L440.91 294.88ZM451.36 294.88 L453.6 296.91 L455.96 299.45 L451.87 299.45 L449.82 296.91 L447.88 294.88ZM458.32 294.88 L461.16 296.91 L464.16 299.45 L460.06 299.45 L457.38 296.91 L454.84 294.88ZM465.28 294.88 L468.72 296.91 L472.35 299.45 L468.25 299.45 L464.94 296.91 L461.8 294.88ZM468.76 294.88 L472.49 296.91 L476.44 299.45 L472.35 299.45 L468.72 296.91 L465.28 294.88ZM472.24 294.88 L476.27 296.91 L480.54 299.45 L476.44 299.45 L472.49 296.91 L468.76 294.88ZM475.72 294.88 L480.05 296.91 L484.63 299.45 L480.54 299.45 L476.27 296.91 L472.24 294.88ZM479.2 294.88 L483.83 296.91 L488.73 299.45 L484.63 299.45 L480.05 296.91 L475.72 294.88ZM482.68 294.88 L487.61 296.91 L492.82 299.45 L488.73 299.45 L483.83 296.91 L479.2 294.88ZM374.06 299.45 L370.61 302.23 L367.48 305.18 L362.86 305.18 L366.23 302.23 L369.96 299.45ZM378.15 299.45 L374.98 302.23 L372.1 305.18 L367.48 305.18 L370.61 302.23 L374.06 299.45ZM447.77 299.45 L449.29 302.23 L450.67 305.18 L446.05 305.18 L444.92 302.23 L443.68 299.45ZM455.96 299.45 L458.04 302.23 L459.91 305.18 L455.29 305.18 L453.66 302.23 L451.87 299.45ZM460.06 299.45 L462.41 302.23 L464.53 305.18 L459.91 305.18 L458.04 302.23 L455.96 299.45ZM476.44 299.45 L479.89 302.23 L483.02 305.18 L478.4 305.18 L475.52 302.23 L472.35 299.45ZM484.63 299.45 L488.64 302.23 L492.26 305.18 L487.64 305.18 L484.27 302.23 L480.54 299.45ZM488.73 299.45 L493.01 302.23 L496.88 305.18 L492.26 305.18 L488.64 302.23 L484.63 299.45ZM492.82 299.45 L497.38 302.23 L501.5 305.18 L496.88 305.18 L493.01 302.23 L488.73 299.45ZM441.43 305.18 L442.25 308.27 L443.03 311.47 L437.95 311.47 L437.4 308.27 L436.8 305.18ZM446.05 305.18 L447.11 308.27 L448.11 311.47 L443.03 311.47 L442.25 308.27 L441.43 305.18ZM450.67 305.18 L451.97 308.27 L453.19 311.47 L448.11 311.47 L447.11 308.27 L446.05 305.18ZM459.91 305.18 L461.69 308.27 L463.35 311.47 L458.27 311.47 L456.83 308.27 L455.29 305.18ZM496.88 305.18 L500.55 308.27 L503.98 311.47 L498.9 311.47 L495.69 308.27 L492.26 305.18ZM501.5 305.18 L505.41 308.27 L509.06 311.47 L503.98 311.47 L500.55 308.27 L496.88 305.18ZM384.36 318.11 L383.2 321.51 L382.24 324.93 L376.5 324.93 L377.6 321.51 L378.91 318.11ZM482.49 318.11 L484.12 321.51 L485.46 324.93 L479.73 324.93 L478.51 321.51 L477.04 318.11ZM493.4 318.11 L495.33 321.51 L496.93 324.93 L491.2 324.93 L489.72 321.51 L487.95 318.11ZM399.44 324.93 L398.97 328.37 L398.61 331.81 L392.7 331.81 L393.13 328.37 L393.71 324.93ZM422.38 324.93 L422.33 328.37 L422.29 331.81 L416.37 331.81 L416.49 328.37 L416.65 324.93ZM416.37 331.81 L416.29 335.25 L416.22 338.69 L410.19 338.69 L410.31 335.25 L410.45 331.81ZM481.48 331.81 L482.01 335.25 L482.46 338.69 L476.44 338.69 L476.04 335.25 L475.56 331.81ZM422.24 338.69 L422.22 342.12 L422.21 345.56 L416.14 345.56 L416.17 342.12 L416.22 338.69ZM434.28 338.69 L434.33 342.12 L434.36 345.56 L428.29 345.56 L428.28 342.12 L428.26 338.69ZM446.33 338.69 L446.44 342.12 L446.51 345.56 L440.44 345.56 L440.39 342.12 L440.31 338.69ZM336.36 373.07 L338.35 376.49 L340.75 379.89 L335.29 379.89 L332.74 376.49 L330.63 373.07ZM387.97 373.07 L388.81 376.49 L389.81 379.89 L384.36 379.89 L383.2 376.49 L382.24 373.07ZM514.14 386.53 L510.27 389.73 L506.13 392.82 L501.5 392.82 L505.41 389.73 L509.06 386.53Z" fill="#d98958" stroke="#d98958" stroke-width="0.7"/>
<path d="M371.3 294.88 L366.67 296.91 L361.77 299.45 L357.68 299.45 L362.89 296.91 L367.82 294.88ZM374.78 294.88 L370.45 296.91 L365.87 299.45 L361.77 299.45 L366.67 296.91 L371.3 294.88ZM378.26 294.88 L374.23 296.91 L369.96 299.45 L365.87 299.45 L370.45 296.91 L374.78 294.88ZM433.95 294.88 L434.7 296.91 L435.49 299.45 L431.39 299.45 L430.92 296.91 L430.47 294.88ZM440.91 294.88 L442.26 296.91 L443.68 299.45 L439.58 299.45 L438.48 296.91 L437.43 294.88ZM447.88 294.88 L449.82 296.91 L451.87 299.45 L447.77 299.45 L446.04 296.91 L444.39 294.88ZM454.84 294.88 L457.38 296.91 L460.06 299.45 L455.96 299.45 L453.6 296.91 L451.36 294.88ZM461.8 294.88 L464.94 296.91 L468.25 299.45 L464.16 299.45 L461.16 296.91 L458.32 294.88ZM451.87 299.45 L453.66 302.23 L455.29 305.18 L450.67 305.18 L449.29 302.23 L447.77 299.45ZM472.35 299.45 L475.52 302.23 L478.4 305.18 L473.78 305.18 L471.15 302.23 L468.25 299.45ZM385.97 305.18 L383.96 308.27 L382.07 311.47 L376.99 311.47 L379.1 308.27 L381.35 305.18ZM395.21 305.18 L393.67 308.27 L392.23 311.47 L387.15 311.47 L388.81 308.27 L390.59 305.18ZM399.83 305.18 L398.53 308.27 L397.31 311.47 L392.23 311.47 L393.67 308.27 L395.21 305.18ZM455.29 305.18 L456.83 308.27 L458.27 311.47 L453.19 311.47 L451.97 308.27 L450.67 305.18ZM464.53 305.18 L466.54 308.27 L468.43 311.47 L463.35 311.47 L461.69 308.27 L459.91 305.18ZM376.99 311.47 L375.09 314.75 L373.46 318.11 L368.01 318.11 L369.81 314.75 L371.91 311.47ZM387.15 311.47 L385.65 314.75 L384.36 318.11 L378.91 318.11 L380.37 314.75 L382.07 311.47ZM473.51 311.47 L475.41 314.75 L477.04 318.11 L471.59 318.11 L470.13 314.75 L468.43 311.47ZM471.59 318.11 L472.9 321.51 L474 324.93 L468.26 324.93 L467.3 321.51 L466.14 318.11ZM487.95 318.11 L489.72 321.51 L491.2 324.93 L485.46 324.93 L484.12 321.51 L482.49 318.11ZM376.5 324.93 L375.61 328.37 L374.94 331.81 L369.02 331.81 L369.77 328.37 L370.77 324.93ZM428.26 338.69 L428.28 342.12 L428.29 345.56 L422.21 345.56 L422.22 342.12 L422.24 338.69ZM440.31 338.69 L440.39 342.12 L440.44 345.56 L434.36 345.56 L434.33 342.12 L434.28 338.69ZM452.35 338.69 L452.5 342.12 L452.59 345.56 L446.51 345.56 L446.44 342.12 L446.33 338.69ZM403.99 345.56 L403.96 349 L403.99 352.44 L397.91 352.44 L397.88 349 L397.91 345.56ZM500.53 359.31 L499.94 362.75 L499.24 366.19 L493.32 366.19 L493.96 362.75 L494.51 359.31ZM487.4 366.19 L486.57 369.63 L485.46 373.07 L479.73 373.07 L480.73 369.63 L481.48 366.19ZM517 366.19 L515.77 369.63 L514.14 373.07 L508.4 373.07 L509.93 369.63 L511.08 366.19ZM393.71 373.07 L394.41 376.49 L395.26 379.89 L389.81 379.89 L388.81 376.49 L387.97 373.07ZM509.06 386.53 L505.41 389.73 L501.5 392.82 L496.88 392.82 L500.55 389.73 L503.98 386.53ZM367.48 392.82 L370.61 395.77 L374.06 398.55 L369.96 398.55 L366.23 395.77 L362.86 392.82ZM372.1 392.82 L374.98 395.77 L378.15 398.55 L374.06 398.55 L370.61 395.77 L367.48 392.82ZM381.35 392.82 L383.72 395.77 L386.34 398.55 L382.25 398.55 L379.35 395.77 L376.72 392.82ZM390.59 392.82 L392.46 395.77 L394.54 398.55 L390.44 398.55 L388.09 395.77 L385.97 392.82ZM427.56 392.82 L427.44 395.77 L427.3 398.55 L423.2 398.55 L423.06 395.77 L422.94 392.82ZM436.8 392.82 L436.18 395.77 L435.49 398.55 L431.39 398.55 L431.81 395.77 L432.18 392.82ZM446.05 392.82 L444.92 395.77 L443.68 398.55 L439.58 398.55 L440.55 395.77 L441.43 392.82ZM455.29 392.82 L453.66 395.77 L451.87 398.55 L447.77 398.55 L449.29 395.77 L450.67 392.82ZM506.13 392.82 L501.75 395.77 L496.92 398.55 L492.82 398.55 L497.38 395.77 L501.5 392.82Z" fill="#ca7f51" stroke="#ca7f51" stroke-width="0.7"/>
<path d="M381.74 294.88 L378.01 296.91 L374.06 299.45 L369.96 299.45 L374.23 296.91 L378.26 294.88ZM385.22 294.88 L381.78 296.91 L378.15 299.45 L374.06 299.45 L378.01 296.91 L381.74 294.88ZM388.7 294.88 L385.56 296.91 L382.25 299.45 L378.15 299.45 L381.78 296.91 L385.22 294.88ZM392.18 294.88 L389.34 296.91 L386.34 299.45 L382.25 299.45 L385.56 296.91 L388.7 294.88ZM395.66 294.88 L393.12 296.91 L390.44 299.45 L386.34 299.45 L389.34 296.91 L392.18 294.88ZM399.14 294.88 L396.9 296.91 L394.54 299.45 L390.44 299.45 L393.12 296.91 L395.66 294.88ZM402.62 294.88 L400.68 296.91 L398.63 299.45 L394.54 299.45 L396.9 296.91 L399.14 294.88ZM406.11 294.88 L404.46 296.91 L402.73 299.45 L398.63 299.45 L400.68 296.91 L402.62 294.88ZM409.59 294.88 L408.24 296.91 L406.82 299.45 L402.73 299.45 L404.46 296.91 L406.11 294.88ZM413.07 294.88 L412.02 296.91 L410.92 299.45 L406.82 299.45 L408.24 296.91 L409.59 294.88ZM416.55 294.88 L415.8 296.91 L415.01 299.45 L410.92 299.45 L412.02 296.91 L413.07 294.88ZM382.25 299.45 L379.35 302.23 L376.72 305.18 L372.1 305.18 L374.98 302.23 L378.15 299.45ZM386.34 299.45 L383.72 302.23 L381.35 305.18 L376.72 305.18 L379.35 302.23 L382.25 299.45ZM390.44 299.45 L388.09 302.23 L385.97 305.18 L381.35 305.18 L383.72 302.23 L386.34 299.45ZM394.54 299.45 L392.46 302.23 L390.59 305.18 L385.97 305.18 L388.09 302.23 L390.44 299.45ZM398.63 299.45 L396.84 302.23 L395.21 305.18 L390.59 305.18 L392.46 302.23 L394.54 299.45ZM406.82 299.45 L405.58 302.23 L404.45 305.18 L399.83 305.18 L401.21 302.23 L402.73 299.45ZM415.01 299.45 L414.32 302.23 L413.7 305.18 L409.07 305.18 L409.95 302.23 L410.92 299.45ZM464.16 299.45 L466.78 302.23 L469.15 305.18 L464.53 305.18 L462.41 302.23 L460.06 299.45ZM487.64 305.18 L490.84 308.27 L493.82 311.47 L488.74 311.47 L485.98 308.27 L483.02 305.18ZM468.43 311.47 L470.13 314.75 L471.59 318.11 L466.14 318.11 L464.85 314.75 L463.35 311.47ZM488.74 311.47 L491.25 314.75 L493.4 318.11 L487.95 318.11 L485.97 314.75 L483.67 311.47ZM368.01 318.11 L366.38 321.51 L365.04 324.93 L359.3 324.93 L360.78 321.51 L362.55 318.11ZM342.1 324.93 L340.57 328.37 L339.42 331.81 L333.5 331.81 L334.73 328.37 L336.36 324.93ZM370.77 324.93 L369.77 328.37 L369.02 331.81 L363.1 331.81 L363.93 328.37 L365.04 324.93ZM474 324.93 L474.89 328.37 L475.56 331.81 L469.64 331.81 L469.05 328.37 L468.26 324.93ZM479.73 324.93 L480.73 328.37 L481.48 331.81 L475.56 331.81 L474.89 328.37 L474 324.93ZM485.46 324.93 L486.57 328.37 L487.4 331.81 L481.48 331.81 L480.73 328.37 L479.73 324.93ZM491.2 324.93 L492.41 328.37 L493.32 331.81 L487.4 331.81 L486.57 328.37 L485.46 324.93ZM428.21 331.81 L428.24 335.25 L428.26 338.69 L422.24 338.69 L422.26 335.25 L422.29 331.81ZM440.05 331.81 L440.19 335.25 L440.31 338.69 L434.28 338.69 L434.21 335.25 L434.13 331.81ZM445.97 331.81 L446.16 335.25 L446.33 338.69 L440.31 338.69 L440.19 335.25 L440.05 331.81ZM391.84 352.44 L391.95 355.88 L392.13 359.31 L386.1 359.31 L385.89 355.88 L385.76 352.44ZM403.99 352.44 L404.06 355.88 L404.17 359.31 L398.15 359.31 L398 355.88 L397.91 352.44ZM398.15 359.31 L398.36 362.75 L398.61 366.19 L392.7 366.19 L392.39 362.75 L392.13 359.31ZM440.31 359.31 L440.19 362.75 L440.05 366.19 L434.13 366.19 L434.21 362.75 L434.28 359.31ZM473.51 386.53 L471.4 389.73 L469.15 392.82 L464.53 392.82 L466.54 389.73 L468.43 386.53ZM483.67 386.53 L481.12 389.73 L478.4 392.82 L473.78 392.82 L476.26 389.73 L478.59 386.53ZM493.82 386.53 L490.84 389.73 L487.64 392.82 L483.02 392.82 L485.98 389.73 L488.74 386.53ZM399.83 392.82 L401.21 395.77 L402.73 398.55 L398.63 398.55 L396.84 395.77 L395.21 392.82ZM409.07 392.82 L409.95 395.77 L410.92 398.55 L406.82 398.55 L405.58 395.77 L404.45 392.82ZM418.32 392.82 L418.69 395.77 L419.11 398.55 L415.01 398.55 L414.32 395.77 L413.7 392.82ZM496.88 392.82 L493.01 395.77 L488.73 398.55 L484.63 398.55 L488.64 395.77 L492.26 392.82Z" fill="#a16641" stroke="#a16641" stroke-width="0.7"/>
<path d="M420.03 294.88 L419.58 296.91 L419.11 299.45 L415.01 299.45 L415.8 296.91 L416.55 294.88ZM423.51 294.88 L423.36 296.91 L423.2 299.45 L419.11 299.45 L419.58 296.91 L420.03 294.88ZM486.17 294.88 L491.39 296.91 L496.92 299.45 L492.82 299.45 L487.61 296.91 L482.68 294.88ZM361.77 299.45 L357.49 302.23 L353.62 305.18 L349 305.18 L353.12 302.23 L357.68 299.45ZM365.87 299.45 L361.86 302.23 L358.24 305.18 L353.62 305.18 L357.49 302.23 L361.77 299.45ZM369.96 299.45 L366.23 302.23 L362.86 305.18 L358.24 305.18 L361.86 302.23 L365.87 299.45ZM431.39 299.45 L431.81 302.23 L432.18 305.18 L427.56 305.18 L427.44 302.23 L427.3 299.45ZM435.49 299.45 L436.18 302.23 L436.8 305.18 L432.18 305.18 L431.81 302.23 L431.39 299.45ZM439.58 299.45 L440.55 302.23 L441.43 305.18 L436.8 305.18 L436.18 302.23 L435.49 299.45ZM443.68 299.45 L444.92 302.23 L446.05 305.18 L441.43 305.18 L440.55 302.23 L439.58 299.45ZM468.25 299.45 L471.15 302.23 L473.78 305.18 L469.15 305.18 L466.78 302.23 L464.16 299.45ZM480.54 299.45 L484.27 302.23 L487.64 305.18 L483.02 305.18 L479.89 302.23 L476.44 299.45ZM496.92 299.45 L501.75 302.23 L506.13 305.18 L501.5 305.18 L497.38 302.23 L492.82 299.45ZM367.48 305.18 L364.52 308.27 L361.76 311.47 L356.68 311.47 L359.66 308.27 L362.86 305.18ZM372.1 305.18 L369.38 308.27 L366.83 311.47 L361.76 311.47 L364.52 308.27 L367.48 305.18ZM404.45 305.18 L403.39 308.27 L402.39 311.47 L397.31 311.47 L398.53 308.27 L399.83 305.18ZM432.18 305.18 L432.54 308.27 L432.87 311.47 L427.79 311.47 L427.68 308.27 L427.56 305.18ZM436.8 305.18 L437.4 308.27 L437.95 311.47 L432.87 311.47 L432.54 308.27 L432.18 305.18ZM469.15 305.18 L471.4 308.27 L473.51 311.47 L468.43 311.47 L466.54 308.27 L464.53 305.18ZM478.4 305.18 L481.12 308.27 L483.67 311.47 L478.59 311.47 L476.26 308.27 L473.78 305.18ZM492.26 305.18 L495.69 308.27 L498.9 311.47 L493.82 311.47 L490.84 308.27 L487.64 305.18ZM392.23 311.47 L390.93 314.75 L389.81 318.11 L384.36 318.11 L385.65 314.75 L387.15 311.47ZM427.79 311.47 L427.89 314.75 L427.98 318.11 L422.52 318.11 L422.61 314.75 L422.71 311.47ZM432.87 311.47 L433.17 314.75 L433.43 318.11 L427.98 318.11 L427.89 314.75 L427.79 311.47ZM437.95 311.47 L438.45 314.75 L438.88 318.11 L433.43 318.11 L433.17 314.75 L432.87 311.47ZM443.03 311.47 L443.73 314.75 L444.33 318.11 L438.88 318.11 L438.45 314.75 L437.95 311.47ZM362.55 318.11 L360.78 321.51 L359.3 324.93 L353.57 324.93 L355.17 321.51 L357.1 318.11ZM389.81 318.11 L388.81 321.51 L387.97 324.93 L382.24 324.93 L383.2 321.51 L384.36 318.11ZM422.52 318.11 L422.45 321.51 L422.38 324.93 L416.65 324.93 L416.84 321.51 L417.07 318.11ZM427.98 318.11 L428.05 321.51 L428.12 324.93 L422.38 324.93 L422.45 321.51 L422.52 318.11ZM433.43 318.11 L433.66 321.51 L433.85 324.93 L428.12 324.93 L428.05 321.51 L427.98 318.11ZM438.88 318.11 L439.27 321.51 L439.59 324.93 L433.85 324.93 L433.66 321.51 L433.43 318.11ZM365.04 324.93 L363.93 328.37 L363.1 331.81 L357.18 331.81 L358.09 328.37 L359.3 324.93ZM496.93 324.93 L498.25 328.37 L499.24 331.81 L493.32 331.81 L492.41 328.37 L491.2 324.93ZM369.02 331.81 L368.49 335.25 L368.04 338.69 L362.01 338.69 L362.51 335.25 L363.1 331.81ZM398.61 331.81 L398.36 335.25 L398.15 338.69 L392.13 338.69 L392.39 335.25 L392.7 331.81ZM463.72 331.81 L464.09 335.25 L464.4 338.69 L458.37 338.69 L458.11 335.25 L457.8 331.81ZM475.56 331.81 L476.04 335.25 L476.44 338.69 L470.42 338.69 L470.06 335.25 L469.64 331.81ZM487.4 331.81 L487.99 335.25 L488.49 338.69 L482.46 338.69 L482.01 335.25 L481.48 331.81ZM493.32 331.81 L493.96 335.25 L494.51 338.69 L488.49 338.69 L487.99 335.25 L487.4 331.81ZM410.19 338.69 L410.11 342.12 L410.06 345.56 L403.99 345.56 L404.06 342.12 L404.17 338.69ZM416.22 338.69 L416.17 342.12 L416.14 345.56 L410.06 345.56 L410.11 342.12 L410.19 338.69ZM458.37 338.69 L458.55 342.12 L458.66 345.56 L452.59 345.56 L452.5 342.12 L452.35 338.69ZM464.4 338.69 L464.61 342.12 L464.74 345.56 L458.66 345.56 L458.55 342.12 L458.37 338.69ZM512.58 338.69 L513.05 342.12 L513.33 345.56 L507.26 345.56 L507 342.12 L506.55 338.69ZM518.6 338.69 L519.11 342.12 L519.41 345.56 L513.33 345.56 L513.05 342.12 L512.58 338.69ZM440.44 345.56 L440.46 349 L440.44 352.44 L434.36 352.44 L434.38 349 L434.36 345.56ZM446.51 345.56 L446.54 349 L446.51 352.44 L440.44 352.44 L440.46 349 L440.44 345.56ZM349.31 352.44 L349.56 355.88 L349.97 359.31 L343.95 359.31 L343.5 355.88 L343.24 352.44ZM434.36 352.44 L434.33 355.88 L434.28 359.31 L428.26 359.31 L428.28 355.88 L428.29 352.44ZM386.1 359.31 L386.41 362.75 L386.78 366.19 L380.86 366.19 L380.44 362.75 L380.08 359.31ZM404.17 359.31 L404.34 362.75 L404.53 366.19 L398.61 366.19 L398.36 362.75 L398.15 359.31ZM452.35 359.31 L452.14 362.75 L451.89 366.19 L445.97 366.19 L446.16 362.75 L446.33 359.31ZM398.61 366.19 L398.97 369.63 L399.44 373.07 L393.71 373.07 L393.13 369.63 L392.7 366.19ZM428.21 366.19 L428.17 369.63 L428.12 373.07 L422.38 373.07 L422.33 369.63 L422.29 366.19ZM434.13 366.19 L434.01 369.63 L433.85 373.07 L428.12 373.07 L428.17 369.63 L428.21 366.19ZM440.05 366.19 L439.85 369.63 L439.59 373.07 L433.85 373.07 L434.01 369.63 L434.13 366.19ZM445.97 366.19 L445.69 369.63 L445.32 373.07 L439.59 373.07 L439.85 369.63 L440.05 366.19ZM499.24 366.19 L498.25 369.63 L496.93 373.07 L491.2 373.07 L492.41 369.63 L493.32 366.19ZM417.07 379.89 L417.33 383.25 L417.63 386.53 L412.55 386.53 L412.05 383.25 L411.62 379.89ZM407.47 386.53 L408.25 389.73 L409.07 392.82 L404.45 392.82 L403.39 389.73 L402.39 386.53ZM417.63 386.53 L417.96 389.73 L418.32 392.82 L413.7 392.82 L413.1 389.73 L412.55 386.53ZM422.71 386.53 L422.82 389.73 L422.94 392.82 L418.32 392.82 L417.96 389.73 L417.63 386.53ZM427.79 386.53 L427.68 389.73 L427.56 392.82 L422.94 392.82 L422.82 389.73 L422.71 386.53ZM437.95 386.53 L437.4 389.73 L436.8 392.82 L432.18 392.82 L432.54 389.73 L432.87 386.53ZM463.35 386.53 L461.69 389.73 L459.91 392.82 L455.29 392.82 L456.83 389.73 L458.27 386.53Z" fill="#ec955f" stroke="#ec955f" stroke-width="0.7"/>
<path d="M357.68 299.45 L353.12 302.23 L349 305.18 L344.37 305.18 L348.75 302.23 L353.58 299.45ZM353.62 305.18 L349.95 308.27 L346.52 311.47 L341.44 311.47 L345.09 308.27 L349 305.18ZM358.24 305.18 L354.81 308.27 L351.6 311.47 L346.52 311.47 L349.95 308.27 L353.62 305.18ZM362.86 305.18 L359.66 308.27 L356.68 311.47 L351.6 311.47 L354.81 308.27 L358.24 305.18ZM498.9 311.47 L501.81 314.75 L504.3 318.11 L498.85 318.11 L496.53 314.75 L493.82 311.47ZM382.24 324.93 L381.45 328.37 L380.86 331.81 L374.94 331.81 L375.61 328.37 L376.5 324.93ZM374.94 331.81 L374.46 335.25 L374.06 338.69 L368.04 338.69 L368.49 335.25 L369.02 331.81ZM469.64 331.81 L470.06 335.25 L470.42 338.69 L464.4 338.69 L464.09 335.25 L463.72 331.81ZM391.84 345.56 L391.79 349 L391.84 352.44 L385.76 352.44 L385.71 349 L385.76 345.56ZM397.91 345.56 L397.88 349 L397.91 352.44 L391.84 352.44 L391.79 349 L391.84 345.56ZM434.36 345.56 L434.38 349 L434.36 352.44 L428.29 352.44 L428.29 349 L428.29 345.56ZM385.76 352.44 L385.89 355.88 L386.1 359.31 L380.08 359.31 L379.83 355.88 L379.69 352.44ZM416.14 352.44 L416.17 355.88 L416.22 359.31 L410.19 359.31 L410.11 355.88 L410.06 352.44ZM452.59 352.44 L452.5 355.88 L452.35 359.31 L446.33 359.31 L446.44 355.88 L446.51 352.44ZM325.88 359.31 L326.66 362.75 L327.59 366.19 L321.67 366.19 L320.69 362.75 L319.86 359.31ZM355.99 359.31 L356.54 362.75 L357.18 366.19 L351.26 366.19 L350.56 362.75 L349.97 359.31ZM422.24 359.31 L422.26 362.75 L422.29 366.19 L416.37 366.19 L416.29 362.75 L416.22 359.31ZM476.44 359.31 L476.04 362.75 L475.56 366.19 L469.64 366.19 L470.06 362.75 L470.42 359.31ZM482.46 359.31 L482.01 362.75 L481.48 366.19 L475.56 366.19 L476.04 362.75 L476.44 359.31ZM369.02 366.19 L369.77 369.63 L370.77 373.07 L365.04 373.07 L363.93 369.63 L363.1 366.19ZM386.78 366.19 L387.29 369.63 L387.97 373.07 L382.24 373.07 L381.45 369.63 L380.86 366.19ZM370.77 373.07 L371.99 376.49 L373.46 379.89 L368.01 379.89 L366.38 376.49 L365.04 373.07ZM402.39 386.53 L403.39 389.73 L404.45 392.82 L399.83 392.82 L398.53 389.73 L397.31 386.53ZM448.11 386.53 L447.11 389.73 L446.05 392.82 L441.43 392.82 L442.25 389.73 L443.03 386.53ZM453.19 386.53 L451.97 389.73 L450.67 392.82 L446.05 392.82 L447.11 389.73 L448.11 386.53ZM458.27 386.53 L456.83 389.73 L455.29 392.82 L450.67 392.82 L451.97 389.73 L453.19 386.53Z" fill="#ffa368" stroke="#ffa368" stroke-width="0.7"/>
<path d="M402.73 299.45 L401.21 302.23 L399.83 305.18 L395.21 305.18 L396.84 302.23 L398.63 299.45ZM410.92 299.45 L409.95 302.23 L409.07 305.18 L404.45 305.18 L405.58 302.23 L406.82 299.45ZM381.35 305.18 L379.1 308.27 L376.99 311.47 L371.91 311.47 L374.24 308.27 L376.72 305.18ZM390.59 305.18 L388.81 308.27 L387.15 311.47 L382.07 311.47 L383.96 308.27 L385.97 305.18ZM473.78 305.18 L476.26 308.27 L478.59 311.47 L473.51 311.47 L471.4 308.27 L469.15 305.18ZM483.02 305.18 L485.98 308.27 L488.74 311.47 L483.67 311.47 L481.12 308.27 L478.4 305.18ZM382.07 311.47 L380.37 314.75 L378.91 318.11 L373.46 318.11 L375.09 314.75 L376.99 311.47ZM448.11 311.47 L449.01 314.75 L449.78 318.11 L444.33 318.11 L443.73 314.75 L443.03 311.47ZM453.19 311.47 L454.29 314.75 L455.24 318.11 L449.78 318.11 L449.01 314.75 L448.11 311.47ZM463.35 311.47 L464.85 314.75 L466.14 318.11 L460.69 318.11 L459.57 314.75 L458.27 311.47ZM378.91 318.11 L377.6 321.51 L376.5 324.93 L370.77 324.93 L371.99 321.51 L373.46 318.11ZM444.33 318.11 L444.87 321.51 L445.32 324.93 L439.59 324.93 L439.27 321.51 L438.88 318.11ZM449.78 318.11 L450.48 321.51 L451.06 324.93 L445.32 324.93 L444.87 321.51 L444.33 318.11ZM410.45 331.81 L410.31 335.25 L410.19 338.69 L404.17 338.69 L404.34 335.25 L404.53 331.81ZM457.8 331.81 L458.11 335.25 L458.37 338.69 L452.35 338.69 L452.14 335.25 L451.89 331.81ZM397.91 352.44 L398 355.88 L398.15 359.31 L392.13 359.31 L391.95 355.88 L391.84 352.44ZM440.44 352.44 L440.39 355.88 L440.31 359.31 L434.28 359.31 L434.33 355.88 L434.36 352.44ZM446.51 352.44 L446.44 355.88 L446.33 359.31 L440.31 359.31 L440.39 355.88 L440.44 352.44ZM518.6 359.31 L517.86 362.75 L517 366.19 L511.08 366.19 L511.89 362.75 L512.58 359.31ZM505.16 366.19 L504.09 369.63 L502.67 373.07 L496.93 373.07 L498.25 369.63 L499.24 366.19ZM468.43 386.53 L466.54 389.73 L464.53 392.82 L459.91 392.82 L461.69 389.73 L463.35 386.53ZM478.59 386.53 L476.26 389.73 L473.78 392.82 L469.15 392.82 L471.4 389.73 L473.51 386.53ZM488.74 386.53 L485.98 389.73 L483.02 392.82 L478.4 392.82 L481.12 389.73 L483.67 386.53ZM498.9 386.53 L495.69 389.73 L492.26 392.82 L487.64 392.82 L490.84 389.73 L493.82 386.53ZM503.98 386.53 L500.55 389.73 L496.88 392.82 L492.26 392.82 L495.69 389.73 L498.9 386.53ZM376.72 392.82 L379.35 395.77 L382.25 398.55 L378.15 398.55 L374.98 395.77 L372.1 392.82ZM385.97 392.82 L388.09 395.77 L390.44 398.55 L386.34 398.55 L383.72 395.77 L381.35 392.82ZM395.21 392.82 L396.84 395.77 L398.63 398.55 L394.54 398.55 L392.46 395.77 L390.59 392.82ZM404.45 392.82 L405.58 395.77 L406.82 398.55 L402.73 398.55 L401.21 395.77 L399.83 392.82ZM413.7 392.82 L414.32 395.77 L415.01 398.55 L410.92 398.55 L409.95 395.77 L409.07 392.82ZM422.94 392.82 L423.06 395.77 L423.2 398.55 L419.11 398.55 L418.69 395.77 L418.32 392.82ZM432.18 392.82 L431.81 395.77 L431.39 398.55 L427.3 398.55 L427.44 395.77 L427.56 392.82ZM441.43 392.82 L440.55 395.77 L439.58 398.55 L435.49 398.55 L436.18 395.77 L436.8 392.82ZM450.67 392.82 L449.29 395.77 L447.77 398.55 L443.68 398.55 L444.92 395.77 L446.05 392.82ZM501.5 392.82 L497.38 395.77 L492.82 398.55 L488.73 398.55 L493.01 395.77 L496.88 392.82Z" fill="#ba764b" stroke="#ba764b" stroke-width="0.7"/>
<path d="M419.11 299.45 L418.69 302.23 L418.32 305.18 L413.7 305.18 L414.32 302.23 L415.01 299.45ZM423.2 299.45 L423.06 302.23 L422.94 305.18 L418.32 305.18 L418.69 302.23 L419.11 299.45ZM427.3 299.45 L427.44 302.23 L427.56 305.18 L422.94 305.18 L423.06 302.23 L423.2 299.45ZM349 305.18 L345.09 308.27 L341.44 311.47 L336.36 311.47 L340.23 308.27 L344.37 305.18ZM427.56 305.18 L427.68 308.27 L427.79 311.47 L422.71 311.47 L422.82 308.27 L422.94 305.18ZM366.83 311.47 L364.53 314.75 L362.55 318.11 L357.1 318.11 L359.25 314.75 L361.76 311.47ZM397.31 311.47 L396.21 314.75 L395.26 318.11 L389.81 318.11 L390.93 314.75 L392.23 311.47ZM498.85 318.11 L500.94 321.51 L502.67 324.93 L496.93 324.93 L495.33 321.51 L493.4 318.11ZM504.3 318.11 L506.54 321.51 L508.4 324.93 L502.67 324.93 L500.94 321.51 L498.85 318.11ZM336.36 324.93 L334.73 328.37 L333.5 331.81 L327.59 331.81 L328.89 328.37 L330.63 324.93ZM410.91 324.93 L410.65 328.37 L410.45 331.81 L404.53 331.81 L404.81 328.37 L405.18 324.93ZM416.65 324.93 L416.49 328.37 L416.37 331.81 L410.45 331.81 L410.65 328.37 L410.91 324.93ZM404.53 331.81 L404.34 335.25 L404.17 338.69 L398.15 338.69 L398.36 335.25 L398.61 331.81ZM398.15 338.69 L398 342.12 L397.91 345.56 L391.84 345.56 L391.95 342.12 L392.13 338.69ZM404.17 338.69 L404.06 342.12 L403.99 345.56 L397.91 345.56 L398 342.12 L398.15 338.69ZM325.02 345.56 L324.88 349 L325.02 352.44 L318.94 352.44 L318.79 349 L318.94 345.56ZM373.61 345.56 L373.54 349 L373.61 352.44 L367.54 352.44 L367.46 349 L367.54 345.56ZM379.69 345.56 L379.62 349 L379.69 352.44 L373.61 352.44 L373.54 349 L373.61 345.56ZM416.14 345.56 L416.12 349 L416.14 352.44 L410.06 352.44 L410.04 349 L410.06 345.56ZM331.09 352.44 L331.39 355.88 L331.9 359.31 L325.88 359.31 L325.34 355.88 L325.02 352.44ZM373.61 352.44 L373.78 355.88 L374.06 359.31 L368.04 359.31 L367.72 355.88 L367.54 352.44ZM379.69 352.44 L379.83 355.88 L380.08 359.31 L374.06 359.31 L373.78 355.88 L373.61 352.44ZM362.01 359.31 L362.51 362.75 L363.1 366.19 L357.18 366.19 L356.54 362.75 L355.99 359.31ZM368.04 359.31 L368.49 362.75 L369.02 366.19 L363.1 366.19 L362.51 362.75 L362.01 359.31ZM374.06 359.31 L374.46 362.75 L374.94 366.19 L369.02 366.19 L368.49 362.75 L368.04 359.31ZM380.08 359.31 L380.44 362.75 L380.86 366.19 L374.94 366.19 L374.46 362.75 L374.06 359.31ZM428.26 359.31 L428.24 362.75 L428.21 366.19 L422.29 366.19 L422.26 362.75 L422.24 359.31ZM458.37 359.31 L458.11 362.75 L457.8 366.19 L451.89 366.19 L452.14 362.75 L452.35 359.31ZM470.42 359.31 L470.06 362.75 L469.64 366.19 L463.72 366.19 L464.09 362.75 L464.4 359.31ZM488.49 359.31 L487.99 362.75 L487.4 366.19 L481.48 366.19 L482.01 362.75 L482.46 359.31ZM494.51 359.31 L493.96 362.75 L493.32 366.19 L487.4 366.19 L487.99 362.75 L488.49 359.31ZM363.1 366.19 L363.93 369.63 L365.04 373.07 L359.3 373.07 L358.09 369.63 L357.18 366.19ZM475.56 366.19 L474.89 369.63 L474 373.07 L468.26 373.07 L469.05 369.63 L469.64 366.19ZM481.48 366.19 L480.73 369.63 L479.73 373.07 L474 373.07 L474.89 369.63 L475.56 366.19ZM493.32 366.19 L492.41 369.63 L491.2 373.07 L485.46 373.07 L486.57 369.63 L487.4 366.19ZM389.81 379.89 L390.93 383.25 L392.23 386.53 L387.15 386.53 L385.65 383.25 L384.36 379.89ZM438.88 379.89 L438.45 383.25 L437.95 386.53 L432.87 386.53 L433.17 383.25 L433.43 379.89ZM397.31 386.53 L398.53 389.73 L399.83 392.82 L395.21 392.82 L393.67 389.73 L392.23 386.53ZM432.87 386.53 L432.54 389.73 L432.18 392.82 L427.56 392.82 L427.68 389.73 L427.79 386.53ZM443.03 386.53 L442.25 389.73 L441.43 392.82 L436.8 392.82 L437.4 389.73 L437.95 386.53ZM349 392.82 L353.12 395.77 L357.68 398.55 L353.58 398.55 L348.75 395.77 L344.37 392.82ZM353.62 392.82 L357.49 395.77 L361.77 398.55 L357.68 398.55 L353.12 395.77 L349 392.82ZM358.24 392.82 L361.86 395.77 L365.87 398.55 L361.77 398.55 L357.49 395.77 L353.62 392.82ZM362.86 392.82 L366.23 395.77 L369.96 398.55 L365.87 398.55 L361.86 395.77 L358.24 392.82Z" fill="#ffaf70" stroke="#ffaf70" stroke-width="0.7"/>
<path d="M376.72 305.18 L374.24 308.27 L371.91 311.47 L366.83 311.47 L369.38 308.27 L372.1 305.18ZM371.91 311.47 L369.81 314.75 L368.01 318.11 L362.55 318.11 L364.53 314.75 L366.83 311.47ZM468.26 324.93 L469.05 328.37 L469.64 331.81 L463.72 331.81 L463.21 328.37 L462.53 324.93ZM434.13 331.81 L434.21 335.25 L434.28 338.69 L428.26 338.69 L428.24 335.25 L428.21 331.81ZM357.18 366.19 L358.09 369.63 L359.3 373.07 L353.57 373.07 L352.25 369.63 L351.26 366.19ZM392.7 366.19 L393.13 369.63 L393.71 373.07 L387.97 373.07 L387.29 369.63 L386.78 366.19ZM412.55 386.53 L413.1 389.73 L413.7 392.82 L409.07 392.82 L408.25 389.73 L407.47 386.53ZM361.77 398.55 L366.67 401.09 L371.3 403.12 L367.82 403.12 L362.89 401.09 L357.68 398.55ZM369.96 398.55 L374.23 401.09 L378.26 403.12 L374.78 403.12 L370.45 401.09 L365.87 398.55ZM378.15 398.55 L381.78 401.09 L385.22 403.12 L381.74 403.12 L378.01 401.09 L374.06 398.55ZM386.34 398.55 L389.34 401.09 L392.18 403.12 L388.7 403.12 L385.56 401.09 L382.25 398.55ZM394.54 398.55 L396.9 401.09 L399.14 403.12 L395.66 403.12 L393.12 401.09 L390.44 398.55ZM402.73 398.55 L404.46 401.09 L406.11 403.12 L402.62 403.12 L400.68 401.09 L398.63 398.55ZM410.92 398.55 L412.02 401.09 L413.07 403.12 L409.59 403.12 L408.24 401.09 L406.82 398.55ZM419.11 398.55 L419.58 401.09 L420.03 403.12 L416.55 403.12 L415.8 401.09 L415.01 398.55ZM492.82 398.55 L487.61 401.09 L482.68 403.12 L479.2 403.12 L483.83 401.09 L488.73 398.55ZM496.92 398.55 L491.39 401.09 L486.17 403.12 L482.68 403.12 L487.61 401.09 L492.82 398.55Z" fill="#7b4e31" stroke="#7b4e31" stroke-width="0.7"/>
<path d="M409.07 305.18 L408.25 308.27 L407.47 311.47 L402.39 311.47 L403.39 308.27 L404.45 305.18ZM413.7 305.18 L413.1 308.27 L412.55 311.47 L407.47 311.47 L408.25 308.27 L409.07 305.18ZM418.32 305.18 L417.96 308.27 L417.63 311.47 L412.55 311.47 L413.1 308.27 L413.7 305.18ZM422.94 305.18 L422.82 308.27 L422.71 311.47 L417.63 311.47 L417.96 308.27 L418.32 305.18ZM506.13 305.18 L510.27 308.27 L514.14 311.47 L509.06 311.47 L505.41 308.27 L501.5 305.18ZM361.76 311.47 L359.25 314.75 L357.1 318.11 L351.65 318.11 L353.97 314.75 L356.68 311.47ZM503.98 311.47 L507.09 314.75 L509.75 318.11 L504.3 318.11 L501.81 314.75 L498.9 311.47ZM509.06 311.47 L512.37 314.75 L515.21 318.11 L509.75 318.11 L507.09 314.75 L503.98 311.47ZM514.14 311.47 L517.65 314.75 L520.66 318.11 L515.21 318.11 L512.37 314.75 L509.06 311.47ZM395.26 318.11 L394.41 321.51 L393.71 324.93 L387.97 324.93 L388.81 321.51 L389.81 318.11ZM406.17 318.11 L405.63 321.51 L405.18 324.93 L399.44 324.93 L400.02 321.51 L400.72 318.11ZM417.07 318.11 L416.84 321.51 L416.65 324.93 L410.91 324.93 L411.23 321.51 L411.62 318.11ZM509.75 318.11 L512.15 321.51 L514.14 324.93 L508.4 324.93 L506.54 321.51 L504.3 318.11ZM515.21 318.11 L517.76 321.51 L519.87 324.93 L514.14 324.93 L512.15 321.51 L509.75 318.11ZM520.66 318.11 L523.36 321.51 L525.61 324.93 L519.87 324.93 L517.76 321.51 L515.21 318.11ZM387.97 324.93 L387.29 328.37 L386.78 331.81 L380.86 331.81 L381.45 328.37 L382.24 324.93ZM393.71 324.93 L393.13 328.37 L392.7 331.81 L386.78 331.81 L387.29 328.37 L387.97 324.93ZM405.18 324.93 L404.81 328.37 L404.53 331.81 L398.61 331.81 L398.97 328.37 L399.44 324.93ZM502.67 324.93 L504.09 328.37 L505.16 331.81 L499.24 331.81 L498.25 328.37 L496.93 324.93ZM508.4 324.93 L509.93 328.37 L511.08 331.81 L505.16 331.81 L504.09 328.37 L502.67 324.93ZM514.14 324.93 L515.77 328.37 L517 331.81 L511.08 331.81 L509.93 328.37 L508.4 324.93ZM519.87 324.93 L521.61 328.37 L522.91 331.81 L517 331.81 L515.77 328.37 L514.14 324.93ZM525.61 324.93 L527.45 328.37 L528.83 331.81 L522.91 331.81 L521.61 328.37 L519.87 324.93ZM380.86 331.81 L380.44 335.25 L380.08 338.69 L374.06 338.69 L374.46 335.25 L374.94 331.81ZM386.78 331.81 L386.41 335.25 L386.1 338.69 L380.08 338.69 L380.44 335.25 L380.86 331.81ZM392.7 331.81 L392.39 335.25 L392.13 338.69 L386.1 338.69 L386.41 335.25 L386.78 331.81ZM499.24 331.81 L499.94 335.25 L500.53 338.69 L494.51 338.69 L493.96 335.25 L493.32 331.81ZM505.16 331.81 L505.91 335.25 L506.55 338.69 L500.53 338.69 L499.94 335.25 L499.24 331.81ZM374.06 338.69 L373.78 342.12 L373.61 345.56 L367.54 345.56 L367.72 342.12 L368.04 338.69ZM380.08 338.69 L379.83 342.12 L379.69 345.56 L373.61 345.56 L373.78 342.12 L374.06 338.69ZM386.1 338.69 L385.89 342.12 L385.76 345.56 L379.69 345.56 L379.83 342.12 L380.08 338.69ZM392.13 338.69 L391.95 342.12 L391.84 345.56 L385.76 345.56 L385.89 342.12 L386.1 338.69ZM470.42 338.69 L470.67 342.12 L470.81 345.56 L464.74 345.56 L464.61 342.12 L464.4 338.69ZM476.44 338.69 L476.72 342.12 L476.89 345.56 L470.81 345.56 L470.67 342.12 L470.42 338.69ZM482.46 338.69 L482.78 342.12 L482.96 345.56 L476.89 345.56 L476.72 342.12 L476.44 338.69ZM488.49 338.69 L488.83 342.12 L489.04 345.56 L482.96 345.56 L482.78 342.12 L482.46 338.69ZM494.51 338.69 L494.89 342.12 L495.11 345.56 L489.04 345.56 L488.83 342.12 L488.49 338.69ZM385.76 345.56 L385.71 349 L385.76 352.44 L379.69 352.44 L379.62 349 L379.69 345.56ZM452.59 345.56 L452.62 349 L452.59 352.44 L446.51 352.44 L446.54 349 L446.51 345.56ZM470.81 345.56 L470.88 349 L470.81 352.44 L464.74 352.44 L464.79 349 L464.74 345.56ZM476.89 345.56 L476.96 349 L476.89 352.44 L470.81 352.44 L470.88 349 L470.81 345.56ZM482.96 345.56 L483.04 349 L482.96 352.44 L476.89 352.44 L476.96 349 L476.89 345.56ZM489.04 345.56 L489.12 349 L489.04 352.44 L482.96 352.44 L483.04 349 L482.96 345.56ZM495.11 345.56 L495.21 349 L495.11 352.44 L489.04 352.44 L489.12 349 L489.04 345.56ZM501.19 345.56 L501.29 349 L501.19 352.44 L495.11 352.44 L495.21 349 L495.11 345.56ZM507.26 345.56 L507.38 349 L507.26 352.44 L501.19 352.44 L501.29 349 L501.19 345.56ZM513.33 345.56 L513.46 349 L513.33 352.44 L507.26 352.44 L507.38 349 L507.26 345.56ZM422.21 352.44 L422.22 355.88 L422.24 359.31 L416.22 359.31 L416.17 355.88 L416.14 352.44ZM428.29 352.44 L428.28 355.88 L428.26 359.31 L422.24 359.31 L422.22 355.88 L422.21 352.44ZM458.66 352.44 L458.55 355.88 L458.37 359.31 L452.35 359.31 L452.5 355.88 L452.59 352.44ZM464.74 352.44 L464.61 355.88 L464.4 359.31 L458.37 359.31 L458.55 355.88 L458.66 352.44ZM470.81 352.44 L470.67 355.88 L470.42 359.31 L464.4 359.31 L464.61 355.88 L464.74 352.44ZM476.89 352.44 L476.72 355.88 L476.44 359.31 L470.42 359.31 L470.67 355.88 L470.81 352.44ZM482.96 352.44 L482.78 355.88 L482.46 359.31 L476.44 359.31 L476.72 355.88 L476.89 352.44ZM489.04 352.44 L488.83 355.88 L488.49 359.31 L482.46 359.31 L482.78 355.88 L482.96 352.44ZM495.11 352.44 L494.89 355.88 L494.51 359.31 L488.49 359.31 L488.83 355.88 L489.04 352.44ZM501.19 352.44 L500.94 355.88 L500.53 359.31 L494.51 359.31 L494.89 355.88 L495.11 352.44ZM507.26 352.44 L507 355.88 L506.55 359.31 L500.53 359.31 L500.94 355.88 L501.19 352.44ZM513.33 352.44 L513.05 355.88 L512.58 359.31 L506.55 359.31 L507 355.88 L507.26 352.44ZM519.41 352.44 L519.11 355.88 L518.6 359.31 L512.58 359.31 L513.05 355.88 L513.33 352.44ZM410.19 359.31 L410.31 362.75 L410.45 366.19 L404.53 366.19 L404.34 362.75 L404.17 359.31ZM416.22 359.31 L416.29 362.75 L416.37 366.19 L410.45 366.19 L410.31 362.75 L410.19 359.31ZM434.28 359.31 L434.21 362.75 L434.13 366.19 L428.21 366.19 L428.24 362.75 L428.26 359.31ZM464.4 359.31 L464.09 362.75 L463.72 366.19 L457.8 366.19 L458.11 362.75 L458.37 359.31ZM404.53 366.19 L404.81 369.63 L405.18 373.07 L399.44 373.07 L398.97 369.63 L398.61 366.19ZM410.45 366.19 L410.65 369.63 L410.91 373.07 L405.18 373.07 L404.81 369.63 L404.53 366.19ZM416.37 366.19 L416.49 369.63 L416.65 373.07 L410.91 373.07 L410.65 369.63 L410.45 366.19ZM422.29 366.19 L422.33 369.63 L422.38 373.07 L416.65 373.07 L416.49 369.63 L416.37 366.19ZM451.89 366.19 L451.53 369.63 L451.06 373.07 L445.32 373.07 L445.69 369.63 L445.97 366.19ZM457.8 366.19 L457.37 369.63 L456.79 373.07 L451.06 373.07 L451.53 369.63 L451.89 366.19ZM463.72 366.19 L463.21 369.63 L462.53 373.07 L456.79 373.07 L457.37 369.63 L457.8 366.19ZM469.64 366.19 L469.05 369.63 L468.26 373.07 L462.53 373.07 L463.21 369.63 L463.72 366.19ZM422.38 373.07 L422.45 376.49 L422.52 379.89 L417.07 379.89 L416.84 376.49 L416.65 373.07ZM468.26 373.07 L467.3 376.49 L466.14 379.89 L460.69 379.89 L461.69 376.49 L462.53 373.07ZM508.4 373.07 L506.54 376.49 L504.3 379.89 L498.85 379.89 L500.94 376.49 L502.67 373.07ZM514.14 373.07 L512.15 376.49 L509.75 379.89 L504.3 379.89 L506.54 376.49 L508.4 373.07ZM395.26 379.89 L396.21 383.25 L397.31 386.53 L392.23 386.53 L390.93 383.25 L389.81 379.89ZM341.44 386.53 L345.09 389.73 L349 392.82 L344.37 392.82 L340.23 389.73 L336.36 386.53ZM346.52 386.53 L349.95 389.73 L353.62 392.82 L349 392.82 L345.09 389.73 L341.44 386.53ZM351.6 386.53 L354.81 389.73 L358.24 392.82 L353.62 392.82 L349.95 389.73 L346.52 386.53ZM356.68 386.53 L359.66 389.73 L362.86 392.82 L358.24 392.82 L354.81 389.73 L351.6 386.53ZM361.76 386.53 L364.52 389.73 L367.48 392.82 L362.86 392.82 L359.66 389.73 L356.68 386.53ZM366.83 386.53 L369.38 389.73 L372.1 392.82 L367.48 392.82 L364.52 389.73 L361.76 386.53ZM371.91 386.53 L374.24 389.73 L376.72 392.82 L372.1 392.82 L369.38 389.73 L366.83 386.53ZM376.99 386.53 L379.1 389.73 L381.35 392.82 L376.72 392.82 L374.24 389.73 L371.91 386.53ZM382.07 386.53 L383.96 389.73 L385.97 392.82 L381.35 392.82 L379.1 389.73 L376.99 386.53ZM387.15 386.53 L388.81 389.73 L390.59 392.82 L385.97 392.82 L383.96 389.73 L382.07 386.53ZM392.23 386.53 L393.67 389.73 L395.21 392.82 L390.59 392.82 L388.81 389.73 L387.15 386.53Z" fill="#ffb976" stroke="#ffb976" stroke-width="0.7"/>
<path d="M341.44 311.47 L338.13 314.75 L335.29 318.11 L329.84 318.11 L332.85 314.75 L336.36 311.47ZM351.6 311.47 L348.69 314.75 L346.2 318.11 L340.75 318.11 L343.41 314.75 L346.52 311.47ZM356.68 311.47 L353.97 314.75 L351.65 318.11 L346.2 318.11 L348.69 314.75 L351.6 311.47ZM402.39 311.47 L401.49 314.75 L400.72 318.11 L395.26 318.11 L396.21 314.75 L397.31 311.47ZM407.47 311.47 L406.77 314.75 L406.17 318.11 L400.72 318.11 L401.49 314.75 L402.39 311.47ZM412.55 311.47 L412.05 314.75 L411.62 318.11 L406.17 318.11 L406.77 314.75 L407.47 311.47ZM417.63 311.47 L417.33 314.75 L417.07 318.11 L411.62 318.11 L412.05 314.75 L412.55 311.47ZM422.71 311.47 L422.61 314.75 L422.52 318.11 L417.07 318.11 L417.33 314.75 L417.63 311.47ZM335.29 318.11 L332.74 321.51 L330.63 324.93 L324.89 324.93 L327.14 321.51 L329.84 318.11ZM346.2 318.11 L343.96 321.51 L342.1 324.93 L336.36 324.93 L338.35 321.51 L340.75 318.11ZM351.65 318.11 L349.56 321.51 L347.83 324.93 L342.1 324.93 L343.96 321.51 L346.2 318.11ZM357.1 318.11 L355.17 321.51 L353.57 324.93 L347.83 324.93 L349.56 321.51 L351.65 318.11ZM400.72 318.11 L400.02 321.51 L399.44 324.93 L393.71 324.93 L394.41 321.51 L395.26 318.11ZM411.62 318.11 L411.23 321.51 L410.91 324.93 L405.18 324.93 L405.63 321.51 L406.17 318.11ZM330.63 324.93 L328.89 328.37 L327.59 331.81 L321.67 331.81 L323.05 328.37 L324.89 324.93ZM347.83 324.93 L346.41 328.37 L345.34 331.81 L339.42 331.81 L340.57 328.37 L342.1 324.93ZM353.57 324.93 L352.25 328.37 L351.26 331.81 L345.34 331.81 L346.41 328.37 L347.83 324.93ZM359.3 324.93 L358.09 328.37 L357.18 331.81 L351.26 331.81 L352.25 328.37 L353.57 324.93ZM327.59 331.81 L326.66 335.25 L325.88 338.69 L319.86 338.69 L320.69 335.25 L321.67 331.81ZM333.5 331.81 L332.64 335.25 L331.9 338.69 L325.88 338.69 L326.66 335.25 L327.59 331.81ZM345.34 331.81 L344.59 335.25 L343.95 338.69 L337.92 338.69 L338.61 335.25 L339.42 331.81ZM351.26 331.81 L350.56 335.25 L349.97 338.69 L343.95 338.69 L344.59 335.25 L345.34 331.81ZM357.18 331.81 L356.54 335.25 L355.99 338.69 L349.97 338.69 L350.56 335.25 L351.26 331.81ZM363.1 331.81 L362.51 335.25 L362.01 338.69 L355.99 338.69 L356.54 335.25 L357.18 331.81ZM511.08 331.81 L511.89 335.25 L512.58 338.69 L506.55 338.69 L505.91 335.25 L505.16 331.81ZM517 331.81 L517.86 335.25 L518.6 338.69 L512.58 338.69 L511.89 335.25 L511.08 331.81ZM522.91 331.81 L523.84 335.25 L524.62 338.69 L518.6 338.69 L517.86 335.25 L517 331.81ZM528.83 331.81 L529.81 335.25 L530.64 338.69 L524.62 338.69 L523.84 335.25 L522.91 331.81ZM325.88 338.69 L325.34 342.12 L325.02 345.56 L318.94 345.56 L319.28 342.12 L319.86 338.69ZM331.9 338.69 L331.39 342.12 L331.09 345.56 L325.02 345.56 L325.34 342.12 L325.88 338.69ZM343.95 338.69 L343.5 342.12 L343.24 345.56 L337.17 345.56 L337.45 342.12 L337.92 338.69ZM349.97 338.69 L349.56 342.12 L349.31 345.56 L343.24 345.56 L343.5 342.12 L343.95 338.69ZM355.99 338.69 L355.61 342.12 L355.39 345.56 L349.31 345.56 L349.56 342.12 L349.97 338.69ZM362.01 338.69 L361.67 342.12 L361.46 345.56 L355.39 345.56 L355.61 342.12 L355.99 338.69ZM368.04 338.69 L367.72 342.12 L367.54 345.56 L361.46 345.56 L361.67 342.12 L362.01 338.69ZM500.53 338.69 L500.94 342.12 L501.19 345.56 L495.11 345.56 L494.89 342.12 L494.51 338.69ZM506.55 338.69 L507 342.12 L507.26 345.56 L501.19 345.56 L500.94 342.12 L500.53 338.69ZM524.62 338.69 L525.16 342.12 L525.48 345.56 L519.41 345.56 L519.11 342.12 L518.6 338.69ZM530.64 338.69 L531.22 342.12 L531.56 345.56 L525.48 345.56 L525.16 342.12 L524.62 338.69ZM331.09 345.56 L330.96 349 L331.09 352.44 L325.02 352.44 L324.88 349 L325.02 345.56ZM337.17 345.56 L337.04 349 L337.17 352.44 L331.09 352.44 L330.96 349 L331.09 345.56ZM343.24 345.56 L343.12 349 L343.24 352.44 L337.17 352.44 L337.04 349 L337.17 345.56ZM349.31 345.56 L349.21 349 L349.31 352.44 L343.24 352.44 L343.12 349 L343.24 345.56ZM355.39 345.56 L355.29 349 L355.39 352.44 L349.31 352.44 L349.21 349 L349.31 345.56ZM361.46 345.56 L361.38 349 L361.46 352.44 L355.39 352.44 L355.29 349 L355.39 345.56ZM367.54 345.56 L367.46 349 L367.54 352.44 L361.46 352.44 L361.38 349 L361.46 345.56ZM410.06 345.56 L410.04 349 L410.06 352.44 L403.99 352.44 L403.96 349 L403.99 345.56ZM422.21 345.56 L422.21 349 L422.21 352.44 L416.14 352.44 L416.12 349 L416.14 345.56ZM428.29 345.56 L428.29 349 L428.29 352.44 L422.21 352.44 L422.21 349 L422.21 345.56ZM458.66 345.56 L458.71 349 L458.66 352.44 L452.59 352.44 L452.62 349 L452.59 345.56ZM464.74 345.56 L464.79 349 L464.74 352.44 L458.66 352.44 L458.71 349 L458.66 345.56ZM519.41 345.56 L519.54 349 L519.41 352.44 L513.33 352.44 L513.46 349 L513.33 345.56ZM525.48 345.56 L525.62 349 L525.48 352.44 L519.41 352.44 L519.54 349 L519.41 345.56ZM531.56 345.56 L531.71 349 L531.56 352.44 L525.48 352.44 L525.62 349 L525.48 345.56ZM325.02 352.44 L325.34 355.88 L325.88 359.31 L319.86 359.31 L319.28 355.88 L318.94 352.44ZM337.17 352.44 L337.45 355.88 L337.92 359.31 L331.9 359.31 L331.39 355.88 L331.09 352.44ZM343.24 352.44 L343.5 355.88 L343.95 359.31 L337.92 359.31 L337.45 355.88 L337.17 352.44ZM355.39 352.44 L355.61 355.88 L355.99 359.31 L349.97 359.31 L349.56 355.88 L349.31 352.44ZM361.46 352.44 L361.67 355.88 L362.01 359.31 L355.99 359.31 L355.61 355.88 L355.39 352.44ZM367.54 352.44 L367.72 355.88 L368.04 359.31 L362.01 359.31 L361.67 355.88 L361.46 352.44ZM410.06 352.44 L410.11 355.88 L410.19 359.31 L404.17 359.31 L404.06 355.88 L403.99 352.44ZM525.48 352.44 L525.16 355.88 L524.62 359.31 L518.6 359.31 L519.11 355.88 L519.41 352.44ZM531.56 352.44 L531.22 355.88 L530.64 359.31 L524.62 359.31 L525.16 355.88 L525.48 352.44ZM331.9 359.31 L332.64 362.75 L333.5 366.19 L327.59 366.19 L326.66 362.75 L325.88 359.31ZM337.92 359.31 L338.61 362.75 L339.42 366.19 L333.5 366.19 L332.64 362.75 L331.9 359.31ZM343.95 359.31 L344.59 362.75 L345.34 366.19 L339.42 366.19 L338.61 362.75 L337.92 359.31ZM349.97 359.31 L350.56 362.75 L351.26 366.19 L345.34 366.19 L344.59 362.75 L343.95 359.31ZM524.62 359.31 L523.84 362.75 L522.91 366.19 L517 366.19 L517.86 362.75 L518.6 359.31ZM530.64 359.31 L529.81 362.75 L528.83 366.19 L522.91 366.19 L523.84 362.75 L524.62 359.31ZM327.59 366.19 L328.89 369.63 L330.63 373.07 L324.89 373.07 L323.05 369.63 L321.67 366.19ZM333.5 366.19 L334.73 369.63 L336.36 373.07 L330.63 373.07 L328.89 369.63 L327.59 366.19ZM339.42 366.19 L340.57 369.63 L342.1 373.07 L336.36 373.07 L334.73 369.63 L333.5 366.19ZM345.34 366.19 L346.41 369.63 L347.83 373.07 L342.1 373.07 L340.57 369.63 L339.42 366.19ZM351.26 366.19 L352.25 369.63 L353.57 373.07 L347.83 373.07 L346.41 369.63 L345.34 366.19ZM374.94 366.19 L375.61 369.63 L376.5 373.07 L370.77 373.07 L369.77 369.63 L369.02 366.19ZM380.86 366.19 L381.45 369.63 L382.24 373.07 L376.5 373.07 L375.61 369.63 L374.94 366.19ZM522.91 366.19 L521.61 369.63 L519.87 373.07 L514.14 373.07 L515.77 369.63 L517 366.19ZM528.83 366.19 L527.45 369.63 L525.61 373.07 L519.87 373.07 L521.61 369.63 L522.91 366.19ZM330.63 373.07 L332.74 376.49 L335.29 379.89 L329.84 379.89 L327.14 376.49 L324.89 373.07ZM342.1 373.07 L343.96 376.49 L346.2 379.89 L340.75 379.89 L338.35 376.49 L336.36 373.07ZM347.83 373.07 L349.56 376.49 L351.65 379.89 L346.2 379.89 L343.96 376.49 L342.1 373.07ZM353.57 373.07 L355.17 376.49 L357.1 379.89 L351.65 379.89 L349.56 376.49 L347.83 373.07ZM359.3 373.07 L360.78 376.49 L362.55 379.89 L357.1 379.89 L355.17 376.49 L353.57 373.07ZM365.04 373.07 L366.38 376.49 L368.01 379.89 L362.55 379.89 L360.78 376.49 L359.3 373.07ZM376.5 373.07 L377.6 376.49 L378.91 379.89 L373.46 379.89 L371.99 376.49 L370.77 373.07ZM382.24 373.07 L383.2 376.49 L384.36 379.89 L378.91 379.89 L377.6 376.49 L376.5 373.07ZM399.44 373.07 L400.02 376.49 L400.72 379.89 L395.26 379.89 L394.41 376.49 L393.71 373.07ZM405.18 373.07 L405.63 376.49 L406.17 379.89 L400.72 379.89 L400.02 376.49 L399.44 373.07ZM410.91 373.07 L411.23 376.49 L411.62 379.89 L406.17 379.89 L405.63 376.49 L405.18 373.07ZM416.65 373.07 L416.84 376.49 L417.07 379.89 L411.62 379.89 L411.23 376.49 L410.91 373.07ZM428.12 373.07 L428.05 376.49 L427.98 379.89 L422.52 379.89 L422.45 376.49 L422.38 373.07ZM433.85 373.07 L433.66 376.49 L433.43 379.89 L427.98 379.89 L428.05 376.49 L428.12 373.07ZM439.59 373.07 L439.27 376.49 L438.88 379.89 L433.43 379.89 L433.66 376.49 L433.85 373.07ZM445.32 373.07 L444.87 376.49 L444.33 379.89 L438.88 379.89 L439.27 376.49 L439.59 373.07ZM451.06 373.07 L450.48 376.49 L449.78 379.89 L444.33 379.89 L444.87 376.49 L445.32 373.07ZM456.79 373.07 L456.09 376.49 L455.24 379.89 L449.78 379.89 L450.48 376.49 L451.06 373.07ZM462.53 373.07 L461.69 376.49 L460.69 379.89 L455.24 379.89 L456.09 376.49 L456.79 373.07ZM474 373.07 L472.9 376.49 L471.59 379.89 L466.14 379.89 L467.3 376.49 L468.26 373.07ZM479.73 373.07 L478.51 376.49 L477.04 379.89 L471.59 379.89 L472.9 376.49 L474 373.07ZM485.46 373.07 L484.12 376.49 L482.49 379.89 L477.04 379.89 L478.51 376.49 L479.73 373.07ZM491.2 373.07 L489.72 376.49 L487.95 379.89 L482.49 379.89 L484.12 376.49 L485.46 373.07ZM496.93 373.07 L495.33 376.49 L493.4 379.89 L487.95 379.89 L489.72 376.49 L491.2 373.07ZM502.67 373.07 L500.94 376.49 L498.85 379.89 L493.4 379.89 L495.33 376.49 L496.93 373.07ZM519.87 373.07 L517.76 376.49 L515.21 379.89 L509.75 379.89 L512.15 376.49 L514.14 373.07ZM525.61 373.07 L523.36 376.49 L520.66 379.89 L515.21 379.89 L517.76 376.49 L519.87 373.07ZM335.29 379.89 L338.13 383.25 L341.44 386.53 L336.36 386.53 L332.85 383.25 L329.84 379.89ZM340.75 379.89 L343.41 383.25 L346.52 386.53 L341.44 386.53 L338.13 383.25 L335.29 379.89ZM346.2 379.89 L348.69 383.25 L351.6 386.53 L346.52 386.53 L343.41 383.25 L340.75 379.89ZM351.65 379.89 L353.97 383.25 L356.68 386.53 L351.6 386.53 L348.69 383.25 L346.2 379.89ZM357.1 379.89 L359.25 383.25 L361.76 386.53 L356.68 386.53 L353.97 383.25 L351.65 379.89ZM362.55 379.89 L364.53 383.25 L366.83 386.53 L361.76 386.53 L359.25 383.25 L357.1 379.89ZM368.01 379.89 L369.81 383.25 L371.91 386.53 L366.83 386.53 L364.53 383.25 L362.55 379.89ZM373.46 379.89 L375.09 383.25 L376.99 386.53 L371.91 386.53 L369.81 383.25 L368.01 379.89ZM378.91 379.89 L380.37 383.25 L382.07 386.53 L376.99 386.53 L375.09 383.25 L373.46 379.89ZM384.36 379.89 L385.65 383.25 L387.15 386.53 L382.07 386.53 L380.37 383.25 L378.91 379.89ZM400.72 379.89 L401.49 383.25 L402.39 386.53 L397.31 386.53 L396.21 383.25 L395.26 379.89ZM406.17 379.89 L406.77 383.25 L407.47 386.53 L402.39 386.53 L401.49 383.25 L400.72 379.89ZM411.62 379.89 L412.05 383.25 L412.55 386.53 L407.47 386.53 L406.77 383.25 L406.17 379.89ZM422.52 379.89 L422.61 383.25 L422.71 386.53 L417.63 386.53 L417.33 383.25 L417.07 379.89ZM427.98 379.89 L427.89 383.25 L427.79 386.53 L422.71 386.53 L422.61 383.25 L422.52 379.89ZM433.43 379.89 L433.17 383.25 L432.87 386.53 L427.79 386.53 L427.89 383.25 L427.98 379.89ZM444.33 379.89 L443.73 383.25 L443.03 386.53 L437.95 386.53 L438.45 383.25 L438.88 379.89ZM449.78 379.89 L449.01 383.25 L448.11 386.53 L443.03 386.53 L443.73 383.25 L444.33 379.89ZM455.24 379.89 L454.29 383.25 L453.19 386.53 L448.11 386.53 L449.01 383.25 L449.78 379.89ZM460.69 379.89 L459.57 383.25 L458.27 386.53 L453.19 386.53 L454.29 383.25 L455.24 379.89ZM466.14 379.89 L464.85 383.25 L463.35 386.53 L458.27 386.53 L459.57 383.25 L460.69 379.89ZM471.59 379.89 L470.13 383.25 L468.43 386.53 L463.35 386.53 L464.85 383.25 L466.14 379.89ZM477.04 379.89 L475.41 383.25 L473.51 386.53 L468.43 386.53 L470.13 383.25 L471.59 379.89ZM482.49 379.89 L480.69 383.25 L478.59 386.53 L473.51 386.53 L475.41 383.25 L477.04 379.89ZM487.95 379.89 L485.97 383.25 L483.67 386.53 L478.59 386.53 L480.69 383.25 L482.49 379.89ZM493.4 379.89 L491.25 383.25 L488.74 386.53 L483.67 386.53 L485.97 383.25 L487.95 379.89ZM498.85 379.89 L496.53 383.25 L493.82 386.53 L488.74 386.53 L491.25 383.25 L493.4 379.89ZM504.3 379.89 L501.81 383.25 L498.9 386.53 L493.82 386.53 L496.53 383.25 L498.85 379.89ZM509.75 379.89 L507.09 383.25 L503.98 386.53 L498.9 386.53 L501.81 383.25 L504.3 379.89ZM515.21 379.89 L512.37 383.25 L509.06 386.53 L503.98 386.53 L507.09 383.25 L509.75 379.89ZM520.66 379.89 L517.65 383.25 L514.14 386.53 L509.06 386.53 L512.37 383.25 L515.21 379.89Z" fill="#ffc17b" stroke="#ffc17b" stroke-width="0.7"/>
<path d="M458.27 311.47 L459.57 314.75 L460.69 318.11 L455.24 318.11 L454.29 314.75 L453.19 311.47ZM483.67 311.47 L485.97 314.75 L487.95 318.11 L482.49 318.11 L480.69 314.75 L478.59 311.47ZM477.04 318.11 L478.51 321.51 L479.73 324.93 L474 324.93 L472.9 321.51 L471.59 318.11ZM462.53 324.93 L463.21 328.37 L463.72 331.81 L457.8 331.81 L457.37 328.37 L456.79 324.93ZM422.29 331.81 L422.26 335.25 L422.24 338.69 L416.22 338.69 L416.29 335.25 L416.37 331.81ZM451.89 331.81 L452.14 335.25 L452.35 338.69 L446.33 338.69 L446.16 335.25 L445.97 331.81ZM512.58 359.31 L511.89 362.75 L511.08 366.19 L505.16 366.19 L505.91 362.75 L506.55 359.31ZM511.08 366.19 L509.93 369.63 L508.4 373.07 L502.67 373.07 L504.09 369.63 L505.16 366.19ZM357.68 398.55 L362.89 401.09 L367.82 403.12 L364.33 403.12 L359.11 401.09 L353.58 398.55ZM365.87 398.55 L370.45 401.09 L374.78 403.12 L371.3 403.12 L366.67 401.09 L361.77 398.55ZM374.06 398.55 L378.01 401.09 L381.74 403.12 L378.26 403.12 L374.23 401.09 L369.96 398.55ZM382.25 398.55 L385.56 401.09 L388.7 403.12 L385.22 403.12 L381.78 401.09 L378.15 398.55ZM390.44 398.55 L393.12 401.09 L395.66 403.12 L392.18 403.12 L389.34 401.09 L386.34 398.55ZM398.63 398.55 L400.68 401.09 L402.62 403.12 L399.14 403.12 L396.9 401.09 L394.54 398.55ZM406.82 398.55 L408.24 401.09 L409.59 403.12 L406.11 403.12 L404.46 401.09 L402.73 398.55ZM415.01 398.55 L415.8 401.09 L416.55 403.12 L413.07 403.12 L412.02 401.09 L410.92 398.55ZM423.2 398.55 L423.36 401.09 L423.51 403.12 L420.03 403.12 L419.58 401.09 L419.11 398.55Z" fill="#8e5a39" stroke="#8e5a39" stroke-width="0.7"/>
<path d="M478.59 311.47 L480.69 314.75 L482.49 318.11 L477.04 318.11 L475.41 314.75 L473.51 311.47ZM455.24 318.11 L456.09 321.51 L456.79 324.93 L451.06 324.93 L450.48 321.51 L449.78 318.11ZM456.79 324.93 L457.37 328.37 L457.8 331.81 L451.89 331.81 L451.53 328.37 L451.06 324.93ZM392.13 359.31 L392.39 362.75 L392.7 366.19 L386.78 366.19 L386.41 362.75 L386.1 359.31ZM506.55 359.31 L505.91 362.75 L505.16 366.19 L499.24 366.19 L499.94 362.75 L500.53 359.31ZM459.91 392.82 L458.04 395.77 L455.96 398.55 L451.87 398.55 L453.66 395.77 L455.29 392.82ZM469.15 392.82 L466.78 395.77 L464.16 398.55 L460.06 398.55 L462.41 395.77 L464.53 392.82ZM478.4 392.82 L475.52 395.77 L472.35 398.55 L468.25 398.55 L471.15 395.77 L473.78 392.82ZM487.64 392.82 L484.27 395.77 L480.54 398.55 L476.44 398.55 L479.89 395.77 L483.02 392.82ZM427.3 398.55 L427.14 401.09 L426.99 403.12 L423.51 403.12 L423.36 401.09 L423.2 398.55ZM431.39 398.55 L430.92 401.09 L430.47 403.12 L426.99 403.12 L427.14 401.09 L427.3 398.55ZM439.58 398.55 L438.48 401.09 L437.43 403.12 L433.95 403.12 L434.7 401.09 L435.49 398.55ZM447.77 398.55 L446.04 401.09 L444.39 403.12 L440.91 403.12 L442.26 401.09 L443.68 398.55ZM455.96 398.55 L453.6 401.09 L451.36 403.12 L447.88 403.12 L449.82 401.09 L451.87 398.55ZM464.16 398.55 L461.16 401.09 L458.32 403.12 L454.84 403.12 L457.38 401.09 L460.06 398.55ZM472.35 398.55 L468.72 401.09 L465.28 403.12 L461.8 403.12 L464.94 401.09 L468.25 398.55ZM480.54 398.55 L476.27 401.09 L472.24 403.12 L468.76 403.12 L472.49 401.09 L476.44 398.55ZM484.63 398.55 L480.05 401.09 L475.72 403.12 L472.24 403.12 L476.27 401.09 L480.54 398.55ZM488.73 398.55 L483.83 401.09 L479.2 403.12 L475.72 403.12 L480.05 401.09 L484.63 398.55Z" fill="#6b442b" stroke="#6b442b" stroke-width="0.7"/>
<path d="M493.82 311.47 L496.53 314.75 L498.85 318.11 L493.4 318.11 L491.25 314.75 L488.74 311.47ZM373.46 318.11 L371.99 321.51 L370.77 324.93 L365.04 324.93 L366.38 321.51 L368.01 318.11ZM460.69 318.11 L461.69 321.51 L462.53 324.93 L456.79 324.93 L456.09 321.51 L455.24 318.11ZM466.14 318.11 L467.3 321.51 L468.26 324.93 L462.53 324.93 L461.69 321.51 L460.69 318.11ZM446.33 359.31 L446.16 362.75 L445.97 366.19 L440.05 366.19 L440.19 362.75 L440.31 359.31ZM464.53 392.82 L462.41 395.77 L460.06 398.55 L455.96 398.55 L458.04 395.77 L459.91 392.82ZM473.78 392.82 L471.15 395.77 L468.25 398.55 L464.16 398.55 L466.78 395.77 L469.15 392.82ZM483.02 392.82 L479.89 395.77 L476.44 398.55 L472.35 398.55 L475.52 395.77 L478.4 392.82ZM492.26 392.82 L488.64 395.77 L484.63 398.55 L480.54 398.55 L484.27 395.77 L487.64 392.82ZM435.49 398.55 L434.7 401.09 L433.95 403.12 L430.47 403.12 L430.92 401.09 L431.39 398.55ZM443.68 398.55 L442.26 401.09 L440.91 403.12 L437.43 403.12 L438.48 401.09 L439.58 398.55ZM451.87 398.55 L449.82 401.09 L447.88 403.12 L444.39 403.12 L446.04 401.09 L447.77 398.55ZM460.06 398.55 L457.38 401.09 L454.84 403.12 L451.36 403.12 L453.6 401.09 L455.96 398.55ZM468.25 398.55 L464.94 401.09 L461.8 403.12 L458.32 403.12 L461.16 401.09 L464.16 398.55ZM476.44 398.55 L472.49 401.09 L468.76 403.12 L465.28 403.12 L468.72 401.09 L472.35 398.55Z" fill="#5b3a25" stroke="#5b3a25" stroke-width="0.7"/>
<path d="M428.12 324.93 L428.17 328.37 L428.21 331.81 L422.29 331.81 L422.33 328.37 L422.38 324.93ZM433.85 324.93 L434.01 328.37 L434.13 331.81 L428.21 331.81 L428.17 328.37 L428.12 324.93ZM439.59 324.93 L439.85 328.37 L440.05 331.81 L434.13 331.81 L434.01 328.37 L433.85 324.93ZM445.32 324.93 L445.69 328.37 L445.97 331.81 L440.05 331.81 L439.85 328.37 L439.59 324.93ZM451.06 324.93 L451.53 328.37 L451.89 331.81 L445.97 331.81 L445.69 328.37 L445.32 324.93Z" fill="#2c1c12" stroke="#2c1c12" stroke-width="0.7"/>
<path d="M342.81 311.47 L339.56 314.75 L336.77 318.11 L335.29 318.11 L338.13 314.75 L341.44 311.47Z" fill="#ffb775" stroke="#ffb775" stroke-width="0.7"/>
<path d="M348.02 304.88 L351.24 303.21 L353.57 302.52 L355.81 301.89 L357.9 301.49 L359.44 301.77 L360.78 302.06 L363.32 302.46 L365.1 302.8 L367.98 302.23 L369.49 302.06 L370.28 302.52 L372.42 302.57 L374.21 302.98 L374.59 303.51 L376.38 303.51 L378.15 303.04 L379.52 303.51 L381.31 303.51 L382.4 303.27 L383.5 302.23 L385 301.26 L384.81 302.23 L385 302.8 L386.11 303.1 L387.43 302.52 L388.97 302.52 L389.09 303.1 L388.16 303.98 L386.96 304.4 L385.48 304.88 L384.39 305.79 L382.77 306.09 L380.93 307.02 L379.34 308.27 L378.88 309.09 L379.06 310.17 L380.69 310.37 L381.82 311.01 L383.38 311.4 L382.81 312.77 L383.01 313.63 L383.64 313.96 L384.46 313.1 L384.8 311.79 L386.47 310.82 L387.07 309.22 L387.54 307.95 L388.37 306.77 L390.09 306.83 L391.15 307.51 L391.33 308.58 L391.72 309.28 L392.88 308.9 L393.91 308.08 L394.32 309.53 L394.53 310.82 L395.46 311.66 L396.15 312.58 L396.27 313.43 L395.15 313.96 L393.62 314.62 L391.77 314.62 L390.14 314.75 L388.76 315.62 L387.28 316.76 L388.98 315.75 L390.74 315.29 L390.95 315.75 L390.09 316.42 L390.36 317.23 L391.61 317.57 L392.36 316.89 L392.74 317.43 L391.76 317.97 L390.55 318.38 L389.24 319.06 L389.01 318.58 L389.88 317.91 L388.72 318.11 L387.41 318.79 L386.43 319.26 L386.04 319.94 L386.38 320.28 L385.46 320.55 L383.91 321.03 L383.55 321.85 L382.68 322.67 L382.03 323.56 L381.91 324.66 L381 325.28 L379.64 326.1 L378.21 327.2 L377.71 328.37 L377.96 329.75 L378.06 330.78 L377.62 331.67 L377.1 331.26 L376.62 329.95 L376.77 328.92 L376.19 328.37 L375.27 328.58 L374.2 328.17 L373.31 328.24 L372.91 328.92 L371.99 328.85 L370.59 328.58 L369.62 328.99 L368.23 329.89 L367.79 331.12 L367.3 332.5 L367.05 333.67 L367.22 334.9 L367.79 335.94 L368.61 336.49 L370.15 336.21 L371.01 335.59 L371.39 334.56 L372.81 334.22 L373.44 334.35 L372.92 335.59 L372.49 336.62 L371.85 338 L372.43 338.14 L373.52 338.07 L374.71 338.2 L375.14 338.69 L374.84 340.06 L374.61 341.44 L374.99 342.12 L375.56 342.81 L376.47 342.81 L377.09 342.47 L377.99 342.61 L378.39 343.09 L378.67 343.5 L379.2 342.67 L379.56 341.71 L380.18 341.44 L381.1 341.16 L381.74 340.61 L382.17 340.47 L381.93 341.44 L382.8 341.02 L382.95 340.68 L383.76 341.23 L384.09 341.78 L385.31 341.71 L386.2 341.99 L387.43 341.64 L387.77 342.12 L388.39 343.09 L389.47 343.5 L390.34 344.67 L391.85 344.94 L392.76 345.22 L393.83 346.04 L394.24 346.94 L394.84 347.83 L394.65 349 L395.75 349.55 L397.27 349.76 L398.19 350.79 L399.1 350.65 L400.32 350.99 L401.54 351.41 L402.65 352.3 L403.81 352.64 L404.13 353.95 L403.98 355.19 L403.16 356.29 L402.58 357.25 L401.82 357.94 L401.76 359.31 L401.79 361.03 L401.51 362.41 L400.88 363.78 L400.74 364.4 L400.16 364.75 L399.4 364.81 L398.54 365.3 L397.68 365.71 L396.86 366.46 L396.58 367.22 L396.66 368.46 L396.03 369.49 L395.32 370.66 L394.92 371.42 L394.45 372.38 L393.75 373 L392.82 372.93 L391.68 372.38 L392.47 373.48 L392.89 374.16 L392.6 375.19 L391.69 375.67 L390.32 375.81 L390.43 376.9 L388.98 377.11 L389.21 377.92 L390.03 378.26 L389.52 378.94 L389.49 379.89 L388.69 380.63 L389.27 381.24 L390.02 381.84 L389.43 382.91 L388.98 383.64 L389.51 384.7 L389.96 385.16 L390.58 385.88 L392.05 386.34 L391.53 386.66 L390.35 386.86 L388.78 386.21 L387.71 385.56 L386.58 384.77 L385.83 383.91 L385.25 382.91 L384.72 381.58 L384.82 380.57 L384.56 379.21 L384.66 378.06 L384.09 377.17 L383.94 376.15 L383.43 374.58 L383.64 373.41 L383.89 372.03 L383.57 370.32 L383.42 368.94 L383.48 367.56 L383.52 366.19 L383.35 364.81 L383.38 363.44 L383.08 361.72 L382.34 360.96 L381.07 360.21 L379.78 359.31 L379.17 358.49 L378.59 357.25 L377.84 355.88 L377.16 354.5 L376.7 353.68 L375.95 353.13 L375.85 352.09 L376.44 351.34 L376.61 350.72 L376.06 350.51 L376.23 349.69 L376.52 349 L376.59 348.31 L377.33 347.97 L377.52 347.21 L378.27 346.32 L378.18 345.22 L378.27 344.32 L377.93 343.91 L377.77 343.29 L377.07 342.88 L376.56 343.36 L376.59 343.91 L375.99 343.84 L375.65 343.43 L374.98 343.36 L374.57 343.09 L373.89 342.26 L373.33 341.57 L373.36 341.23 L372.71 340.27 L372.37 339.92 L371.83 339.92 L370.96 339.58 L370.07 339.37 L369.63 338.96 L368.84 338 L368.13 337.86 L367.19 338.2 L366.33 337.86 L365.3 337.45 L364.35 336.97 L363.23 336.42 L362.46 335.59 L362.21 334.9 L362.51 334.15 L362.25 333.19 L361.55 332.15 L360.83 331.33 L360.75 330.44 L360.31 329.82 L359.64 329.06 L359.47 327.68 L358.64 327.2 L358.37 328.03 L358.76 329.06 L359.07 330.09 L359.52 331.12 L359.77 332.15 L360.2 333.05 L359.8 333.25 L359.41 332.5 L358.84 331.81 L358.92 330.92 L358.13 330.3 L357.92 329.75 L358.25 329.2 L357.74 328.37 L357.49 327.34 L357.44 326.52 L357.03 325.76 L356.53 325.42 L355.98 325.21 L355.8 324.25 L355.75 323.22 L355.72 322.67 L355.67 321.85 L355.71 321.23 L356.41 320.14 L356.63 319.46 L357.45 318.45 L358.14 317.3 L358.36 316.42 L358.69 315.82 L359.56 315.89 L359.44 316.49 L359.97 315.42 L359.52 314.75 L358.68 314.09 L358.91 313.1 L358.83 311.92 L358.99 311.14 L358.84 310.17 L358.74 309.22 L357.64 309.09 L357.35 308.39 L356.26 308.27 L355.07 308.01 L353.76 307.89 L352.48 308.39 L351.16 308.71 L352.14 307.83 L352.97 307.51 L351.51 307.95 L350.33 308.58 L349.07 309.28 L347.25 310.05 L345.56 310.69 L343.67 311.27 L342.31 311.6 L341.26 311.73 L343.12 311.08 L344.48 310.75 L346.39 309.92 L347.8 309.09 L346.92 309.22 L345.83 309.09 L346.4 308.39 L345.79 307.89 L346 307.33 L346.31 306.89 L347.5 306.4 L348.9 306.15 L349.99 305.85 L350.61 305.36 L349.52 305.48 L348.07 305.42 L348.02 304.88M396.82 297.78 L399.55 296.91 L402.51 296.11 L407.12 295.81 L412.77 295.42 L416.26 295.61 L418.62 296.24 L417.56 297.39 L417.7 298.39 L416.65 299.45 L416.88 300.26 L415.44 301.1 L415.67 302.06 L413.75 302.8 L411.38 303.39 L409.33 304.28 L407.82 304.76 L406.43 305.48 L405.34 306.71 L404.4 308.14 L403.39 308.27 L402.15 307.64 L401.54 306.71 L401.2 305.79 L401.01 304.58 L401.32 303.39 L402.82 302.52 L401.78 301.94 L401.94 300.82 L401.74 299.72 L401.04 298.92 L398.62 298.92 L397.45 298.39 L396.82 297.78M391.88 300.15 L392.83 300.54 L394.34 301.38 L395.52 302.23 L395.45 303.1 L397.2 303.98 L396.9 304.58 L395.37 304.88 L395.21 306.09 L393.8 307.02 L393.17 306.4 L391.63 305.79 L390.87 305.48 L389.01 305.48 L391.41 304.58 L392.59 303.39 L391.15 302.23 L388.31 302.23 L386.81 301.66 L387.35 300.54 L389.79 300.15 L391.88 300.15M389.22 298.65 L393.08 298.81 L394.92 298.14 L396.42 297.39 L399.76 296.68 L402.7 295.9 L400.08 295.61 L396.49 295.61 L392.35 296.02 L391.06 296.45 L391.81 297.39 L389.22 298.65M393.45 316.29 L395.07 316.83 L396.64 317.03 L396.98 316.36 L396.87 315.22 L395.95 314.75 L396 313.76 L395 314.42 L393.78 315.75 L393.45 316.29M374.64 333.87 L376.24 333.05 L377.7 333.19 L379.37 334.15 L380.5 334.7 L380.93 335.11 L378.93 335.39 L378.7 334.77 L377.32 333.87 L376.46 333.6 L375.23 333.87 L374.64 333.87M380.68 336.28 L381.92 335.32 L383.41 335.39 L384.28 336.21 L383.3 336.49 L382.36 336.83 L381.5 336.49 L380.68 336.28M378.33 336.42 L379.51 336.55 L378.95 336.76 L378.33 336.42M384.98 336.42 L385.88 336.42 L385.5 336.69 L384.98 336.42M357.9 314.22 L359.08 314.62 L359.38 315.75 L358.66 315.62 L357.93 314.75 L357.9 314.22M357.13 312.12 L357.64 312.25 L357.14 313.23 L356.84 312.77 L357.13 312.12M348.45 309.85 L349.78 309.53 L349.41 309.98 L348.22 310.3 L348.45 309.85M332.07 335.11 L332.61 335.39 L332.12 335.94 L331.98 335.52 L332.07 335.11M330.97 334.22 L331.23 334.35 L331.83 334.63 L331.97 334.77M330.18 333.8 L330.38 333.94M393.46 384.44 L394.94 384.17 L394.86 384.7 L393.82 384.7 L393.46 384.44M387.85 341.64 L388.33 341.64 L388.32 342.06 L387.83 342.06 L387.85 341.64M389.75 385.03 L389 385.56 L389.49 386.08 L390.53 386.47M384.18 377.79 L384.78 378.74 L384.27 378.54 L384.18 377.79M422.05 324.25 L421.66 323.84 L421.27 323.42 L420.19 323.56 L420.28 322.53 L419.89 322.33 L420.27 321.37 L420.42 320.14 L420.12 319.46 L420.85 318.99 L422.23 319.06 L423.32 319.12 L424.26 319.19 L424.59 318.31 L424.6 317.43 L424.07 316.69 L422.84 316.16 L422.74 315.75 L423.65 315.55 L424.4 315.62 L424.3 314.95 L425.25 315.15 L426.04 314.62 L426.09 314.16 L426.82 313.89 L427.33 313.43 L427.73 312.77 L428.59 312.44 L429.61 312.31 L429.67 311.47 L429.36 310.5 L429.49 310.05 L430.46 309.73 L430.42 310.5 L430.31 311.14 L430.24 311.6 L430.87 311.99 L431.63 311.86 L432.52 312.12 L433.67 311.79 L434.66 311.6 L435.36 311.86 L435.89 311.27 L435.74 310.17 L436.41 309.73 L437.35 309.98 L437.24 309.34 L436.75 308.77 L437.7 308.58 L438.92 308.58 L439.82 308.27 L439.02 307.89 L437.83 308.01 L436.39 308.33 L435.53 307.83 L435.49 307.02 L435.25 306.4 L435.78 305.91 L436.6 305.3 L436.88 304.88 L436.16 304.7 L435.36 304.88 L435.15 305.48 L434.2 306.28 L433.49 307.02 L433.53 307.64 L434.24 308.27 L434.08 308.9 L433.42 309.53 L433.46 310.37 L432.55 310.82 L432.44 311.21 L431.83 311.21 L431.53 310.62 L431.12 309.85 L430.74 308.9 L430.38 308.58 L429.91 308.9 L429.21 309.47 L428.46 309.47 L427.95 308.9 L427.67 307.95 L427.64 307.14 L428.09 306.71 L429.24 306.09 L430.14 305.6 L430.77 304.88 L431.13 303.98 L431.74 303.39 L432.56 302.92 L433.37 302.4 L434.43 302.23 L435.44 301.83 L436.34 301.6 L437.34 301.66 L438.75 302.06 L438.41 302.4 L439.78 302.57 L441.14 302.69 L443.14 303.39 L443.8 303.98 L442.63 304.58 L440.23 304.16 L441.54 305.6 L442.53 305.79 L442.85 305.3 L443.79 305.36 L443.54 304.58 L445.26 304.28 L444.87 303.21 L445.83 303.39 L446.79 303.57 L448.83 303.1 L449.72 303.1 L450.93 302.86 L451.76 302.34 L452.32 302.98 L453.46 302.63 L454.95 302.92 L455.82 303.27 L454.62 302.52 L454.19 301.66 L454.3 300.54 L455.9 300.71 L456.56 301.66 L457.09 302.8 L458.54 303.68 L458.2 302.8 L457 301.66 L456.74 300.71 L458.18 300.93 L458.94 301.66 L459.38 301.1 L459.13 300.26 L461.18 299.99 L460.88 299.45 L461.84 299.18 L463.57 298.92 L465.28 298.65 L466.09 298.03 L467.88 298.5 L470.08 298.65 L471.39 299.18 L470.95 299.99 L472.39 300.15 L474.61 300.26 L476.97 300.15 L478.37 300.26 L480.28 301.1 L481.18 301.66 L481.91 301.38 L483.2 301.38 L484.92 301.38 L484.59 300.82 L487.29 300.93 L489.64 301.38 L490.98 301.71 L493.06 301.66 L495.19 302.23 L496.05 302.52 L497.81 302.52 L498.69 302.23 L500.44 302.8 L500 302.23 L502.37 302.34 L504.86 302.8M345.64 302.8 L346.07 303.39 L346.35 303.8 L347.5 304.1 L347.73 304.52 L346.01 305 L344.71 305.6 L343.91 305.18 L343.63 304.58 L342.5 304.88M508.44 305.18 L507.94 305.48 L509.7 306.4 L510.36 306.71 L509.17 306.71 L508.56 307.14 L508.01 307.64 L508.08 308.27 L506.05 308.39 L505 308.33 L505.7 309.22 L505.42 309.53 L506.99 310.5 L507.54 311.47 L507.72 312.64 L507.61 313.43 L507.44 314.09 L506.11 313.1 L504.34 311.47 L503.04 310.17 L503.3 309.41 L502.98 308.27 L503.1 307.95 L503.39 307.2 L503.01 306.71 L501.96 307.2 L500.29 307.33 L500.45 308.39 L499.79 308.9 L497.8 308.64 L496.4 308.71 L495 308.77 L494.72 309.73 L494.5 310.82 L494.04 311.6 L495.42 312.12 L496.04 312.25 L497.42 312.64 L498.6 313.23 L498.9 314.09 L499.94 315.42 L499.97 316.56 L499.9 317.23 L499.62 318.45 L498.81 319.6 L497.98 319.33 L497.63 319.94 L497.39 320.48 L497.66 320.96 L496.84 321.71 L497.02 322.05 L497.71 322.53 L498.83 323.56 L499.31 324.59 L499.2 324.87 L498.46 325.14 L497.83 325.28 L497.49 324.25 L497.3 323.56 L496.28 323.08 L495.81 322.47 L495.67 321.85 L494.94 321.51 L493.99 322.19 L493.6 322.33 L493.47 321.17 L492.77 320.89 L492.2 321.99 L491.62 322.19 L492.5 322.88 L492.97 323.42 L493.7 323.01 L494.79 323.29 L494.88 323.63 L494.04 324.18 L493.67 324.93 L494.38 325.42 L495.07 326.31 L495.9 327 L496.23 327.75 L495.55 328.17 L496.52 328.44 L496.63 329.54 L496.2 330.3 L495.96 331.19 L495.51 332.09 L494.88 332.77 L494.21 333.25 L493.21 333.67 L492.53 333.87 L491.81 334.15 L491.07 334.35 L491.12 335.04 L490.71 334.7 L490.56 334.15 L489.78 334.15 L489.07 334.56 L488.91 335.04 L488.57 335.94 L489.13 336.83 L489.85 337.65 L490.67 338.34 L491.2 339.72 L491.31 340.75 L490.6 341.57 L490.02 341.85 L489.77 342.47 L489.02 343.02 L488.72 342.26 L488.51 341.92 L487.89 341.71 L487.4 340.96 L486.87 340.41 L486.25 340.27 L486.08 339.79 L485.6 339.86 L485.63 340.75 L485.29 341.78 L485.41 342.61 L485.87 343.16 L486.23 344.05 L486.85 344.32 L487.36 344.74 L488.07 345.7 L488.1 346.59 L488.24 347.28 L488.62 348.04 L488.2 348.11 L487.27 347.42 L486.84 347.01 L486.39 346.25 L486.23 345.22 L486.07 344.53 L485.62 343.98 L484.98 343.36 L484.82 342.81 L484.93 341.78 L484.9 340.75 L484.47 339.37 L484.05 338.34 L483.9 337.65 L483.38 337.31 L482.7 338.14 L482.08 338 L481.83 336.97 L481.52 336 L481.14 335.39 L480.32 334.7 L479.88 333.67 L479.09 333.53 L478.84 333.87 L478.15 334.08 L477.1 334.22 L477.07 334.9 L476.36 335.45 L475.57 336.28 L474.69 337.52 L473.98 338.14 L473.55 338.69 L473.64 339.72 L473.54 340.75 L473.56 341.92 L473.11 342.61 L472.64 342.88 L472.25 343.43 L471.61 342.81 L471.25 341.78 L470.76 340.75 L470.41 340.06 L470 338.69 L469.42 337.65 L469.01 336.62 L468.81 335.8 L468.67 334.56 L468.45 334.15 L468.32 334.56 L467.62 334.77 L467 334.56 L466.31 333.67 L467.03 333.19 L465.92 332.84 L465.15 332.29 L464.73 331.81 L463.41 331.67 L461.76 331.74 L460.14 331.54 L459.1 331.26 L458.71 330.44 L457.56 330.71 L456.47 330.44 L455.51 329.82 L454.95 329.06 L454.43 328.24 L453.83 328.1 L453.28 328.37 L453.33 328.72 L453.72 329.54 L454.39 330.3 L454.86 330.78 L454.93 331.47 L455.32 331.81 L455.48 331.05 L455.78 331.67 L455.71 332.15 L456.38 332.36 L457.27 332.43 L457.96 331.6 L458.37 331.05 L458.52 330.85 L458.63 331.81 L459.06 332.5 L460.04 332.77 L460.82 333.53 L460.72 334.29 L460.18 334.97 L459.84 335.94 L459.12 336.62 L458.28 337.31 L457.1 337.59 L456.66 338.27 L455.36 338.69 L454.62 339.37 L453.31 339.79 L452.42 340.2 L451.52 340.27 L451.32 339.86 L451.03 338.82 L450.91 337.72 L450.44 336.83 L449.79 335.94 L449.14 335.04 L448.55 334.22 L448.11 332.77 L447.27 331.81 L446.8 331.12 L446.13 330.09 L445.81 329.75 L445.61 328.79 L445.46 329.75 L445.35 329.89 L444.72 329.34 L444.29 328.44 L444.32 328.72 L444.93 329.75 L445.29 330.64 L445.98 331.95 L446.45 332.84 L447.22 333.87 L447.44 334.56 L447.57 335.94 L448.33 336.62 L449.02 338.34 L449.95 338.89 L450.9 339.92 L451.41 340.41 L451.25 341.02 L452.19 341.85 L453.68 341.3 L454.89 341.23 L456.14 340.75 L456.26 340.89 L456.18 341.85 L455.85 342.81 L455.29 344.19 L454.42 345.91 L453.22 347.35 L452.01 348.31 L450.8 349.69 L450.18 350.38 L449.69 351.06 L449.25 352.09 L448.81 353.33 L449.22 353.81 L449.08 354.84 L449.29 355.88 L449.76 356.29 L449.78 357.59 L449.84 358.97 L449.49 360 L448.67 360.69 L447.44 361.24 L446.8 362.06 L446.05 362.61 L446.29 363.78 L446.33 365.16 L446.17 365.85 L444.76 366.53 L444.57 367.56 L444.32 368.6 L443.54 369.49 L442.69 370.52 L441.74 371.48 L440.82 372.1 L440.05 372.38 L438.78 372.38 L437.91 372.52 L436.73 372.93 L435.89 372.52 L435.84 371.48 L435.88 370.66 L435.35 369.63 L434.93 368.66 L434.49 367.91 L434.11 366.88 L433.85 365.5 L433.88 364.47 L433.3 363.44 L432.73 362.06 L432.33 361.03 L432.35 360 L432.66 358.97 L433.41 357.59 L433.6 356.56 L433.13 355.19 L432.72 353.26 L432.54 352.44 L431.94 351.61 L431.15 350.72 L430.72 349.69 L430.91 348.66 L431.15 347.97 L431.21 346.94 L431.02 346.32 L430.54 345.91 L429.62 345.97 L428.9 346.04 L428.29 345.08 L427.92 344.67 L426.77 344.67 L425.86 344.94 L424.95 345.29 L424.03 345.7 L423.31 345.49 L422.21 345.42 L420.69 345.97 L419.78 345.56 L418.69 344.53 L418.27 344.19 L417.67 343.84 L417.19 343.16 L417.19 342.47 L416.47 341.71 L416.18 341.44 L415.16 340.54 L415.11 339.72 L414.71 338.89 L415.33 338 L415.54 336.62 L415.5 335.59 L415.11 334.56 L415.25 333.74 L415.75 332.7 L416.5 331.47 L417.3 330.44 L417.67 329.82 L418.5 329.54 L419.4 328.72 L419.6 327.68 L419.86 326.65 L420.63 325.97 L421.34 325.55 L421.82 324.45 L422.16 324.32 L423.53 324.73 L424.1 324.87 L424.68 324.45 L425.25 324.32 L426.1 323.9 L426.96 323.7 L428.1 323.7 L429.23 323.56 L430.37 323.49 L430.93 323.36 L431.51 323.56 L431.25 324.25 L431.56 324.93 L431 325.48 L431.48 325.83 L431.72 326.17 L432.48 326.45 L433.06 326.38 L434.06 326.79 L434.37 327.34 L435.44 327.75 L436.34 328.17 L436.89 327.68 L436.83 326.72 L437.68 326.38 L438.56 326.58 L439.77 327.27 L441.25 327.55 L442.14 327.75 L442.86 327.41 L443.55 327.34 L444.03 327.48 L444.74 327.62 L445.2 327.48 L445.38 327 L445.48 326.31 L445.82 325.28 L445.81 324.25 L445.87 323.84 L445.06 323.7 L444.37 324.11 L443.51 324.11 L442.67 323.7 L441.96 324.04 L441.19 323.77 L440.77 323.56 L440.22 322.53 L440.31 321.85 L439.94 321.51 L440.64 321.23 L441.42 320.83 L442.53 320.76 L443.56 320.14 L444.67 320.14 L445.57 320.62 L446.72 320.83 L447.56 320.83 L448.33 320.48 L448.26 319.8 L447.25 319.12 L446.33 318.58 L445.57 318.04 L445.84 317.43 L446.23 316.63 L445.47 316.89 L444.45 317.23 L444.27 317.77 L445.11 317.91 L444.35 318.24 L443.63 318.51 L442.93 317.84 L443.4 317.43 L442.54 317.1 L441.89 317.1 L441.41 317.91 L440.99 318.79 L440.7 319.46 L440.57 319.8 L440.94 320.48 L441.41 320.69 L440.59 320.83 L440.05 320.96 L439.21 320.96 L438.67 321.17 L438.41 321.37 L438.01 321.3 L438.08 321.99 L438.82 322.74 L438.3 323.22 L438.47 323.9 L438.01 323.84 L437.6 323.63 L437.25 322.88 L436.67 321.99 L436.15 321.17 L436.08 320.35 L435.48 319.8 L434.62 319.33 L433.75 318.79 L433.15 317.97 L432.7 317.77 L432 317.91 L432.04 318.58 L432.73 319.12 L433.11 319.87 L434.13 320.21 L434.15 320.55 L435.31 321.1 L435.62 321.44 L435.46 321.64 L434.76 321.23 L434.52 321.78 L434.88 322.19 L434.58 322.67 L434.14 322.94 L434.17 322.47 L434.32 322.19 L434 321.51 L433.52 321.1 L432.94 320.69 L432.08 320.35 L431.34 319.87 L430.92 319.12 L430.62 318.72 L430.06 318.51 L429.37 318.92 L428.67 319.4 L427.89 319.19 L427.18 319.26 L426.91 319.8 L427.03 320.21 L426.36 320.62 L425.7 321.03 L425.14 321.71 L425.31 322.33 L424.85 323.01 L424.23 323.56 L423.94 323.7 L422.69 323.77 L422.05 324.25M451.45 319.46 L450.95 318.45 L451.26 317.43 L452.23 316.96 L453.56 316.89 L454.09 317.91 L453.3 318.45 L452.79 318.58 L453.35 319.33 L454.29 319.8 L454.45 320.48 L455.29 320.96 L455.04 321.85 L455.8 323.36 L454.85 323.7 L453.81 323.36 L453.03 323.08 L452.82 321.99 L452.94 321.23 L452.18 320.28 L451.45 319.46M422.24 314.69 L423.41 314.55 L424.72 314.29 L425.93 313.96 L425.51 313.76 L426.13 312.97 L425.4 312.77 L425.25 312.31 L424.59 311.6 L424.24 310.88 L423.59 310.82 L424.26 309.79 L423.27 309.73 L423.77 309.15 L422.79 309.15 L422.17 309.85 L422.48 310.69 L422.81 311.6 L423.62 311.6 L423.71 312.44 L422.93 312.58 L423.07 313.23 L422.54 313.56 L423.53 313.83 L423 314.02 L422.24 314.69M420.04 313.63 L420.98 313.56 L421.98 313.3 L422.16 312.44 L422.35 311.66 L421.55 311.27 L420.91 311.79 L420.14 311.99 L420.35 312.64 L419.9 313.3 L420.04 313.63M414.09 304.82 L415.23 304.34 L415.94 304.76 L417.04 304.46 L417.97 304.28 L418.54 304.88 L418.91 305.3 L418.26 305.66 L416.79 306.15 L415.63 306.09 L414.63 305.91 L415.02 305.54 L414.15 305.24 L415.02 305 L414.09 304.82M429.44 297.15 L430.72 297.88 L431.01 298.39 L432.04 298.6 L432.64 297.73 L433.57 297.58 L433.28 297.24 L434.43 297.24 L435.45 296.91 L433.5 296.68 L431.3 296.91 L429.44 297.15M447.3 301.26 L448.2 301.77 L449.74 301.83 L449.93 301.38 L448.41 300.54 L448.51 299.99 L449.23 299.18 L451.27 298.65 L452.65 298.39 L451.46 298.39 L449.34 298.76 L448.08 299.29 L447.84 300.26 L447.3 301.26M460.56 296.45 L462.41 297 L464.13 297.73 L465.69 297.73 L465.4 297.24 L462.73 296.68 L461.18 296.37 L460.56 296.45M480.77 299.08 L482.75 299.56 L484.63 299.45 L486.5 299.34 L484.15 298.92 L481.64 298.86 L480.77 299.08M483.86 300.15 L485.43 300.37 L484.32 300.05 L483.86 300.15M502.16 301.54 L502.52 301.38M347.98 301.38 L348.77 301.54 L347.84 301.71 L347.5 301.66M442.87 296.68 L444.84 296.82 L446.99 296.68 L448.29 296.45 L445.52 296.24 L442.87 296.68M497.8 311.92 L499.08 312.77 L500.37 314.09 L501.65 315.22 L502.26 316.76 L502.2 317.43 L501.24 316.09 L499.96 314.42 L498.69 313.1 L497.8 311.92M503.12 320.48 L503.25 319.8 L504.69 320.14 L505.37 319.26 L504.39 318.79 L502.48 317.84 L503.08 319.12 L502.64 319.46 L503.12 320.48M503.67 320.55 L504.38 321.17 L505.06 321.85 L505.07 322.88 L505.55 323.9 L505.59 324.8 L504.94 325.14 L503.94 325.21 L504.14 325.9 L503.39 325.9 L502.91 325.21 L501.74 325.42 L500.7 325.69 L500.53 325.28 L501.25 324.59 L502.76 324.52 L503.08 323.63 L503.15 323.22 L503.87 323.29 L504.04 322.53 L503.74 321.51 L503.5 320.83 L503.67 320.55M500.24 325.97 L501.08 325.9 L501.57 326.65 L501.43 327.48 L500.96 327.48 L500.64 326.65 L500.21 326.31 L500.24 325.97M501.6 326.03 L502.48 325.42 L502.87 325.76 L502.32 326.1 L502.06 326.45 L501.6 326.03M497.13 331.67 L497.45 332.02 L497.24 333.87 L496.72 333.32 L496.64 332.64 L496.87 331.81 L497.13 331.67M490.28 335.73 L491.14 335.18 L491.62 335.52 L491.15 336.35 L490.48 336.28 L490.28 335.73M497.49 336.28 L498.46 336.35 L498.75 337.65 L498.42 338.69 L498.82 339.37 L500.04 339.51 L500.15 340.34 L499.27 339.58 L498.24 339.58 L497.93 339.03 L497.47 338.34 L497.58 337.86 L497.49 336.97 L497.49 336.28M501.26 342.26 L501.89 343.29 L501.98 344.53 L501.45 344.87 L501.24 344.32 L500.65 344.74 L500.48 343.98 L499.41 344.19 L499.36 343.5 L500.12 343.09 L500.83 342.95 L501.26 342.26M500.34 340.41 L501.09 340.61 L501.18 341.44 L500.93 341.99 L500.67 341.23 L500.34 340.41M499 340.89 L499.75 341.09 L499.91 342.12 L499.65 342.61 L499.34 341.78 L499 340.89M496.37 343.22 L497.04 342.47 L497.62 341.57 L497.48 341.99 L496.77 342.95 L496.37 343.22M491.54 347.97 L491.9 347.62 L492.88 347.97 L492.98 347.28 L493.94 346.8 L494.82 345.84 L495.4 345.29 L496.07 344.26 L496.71 344.74 L497.65 345.36 L497.08 346.04 L496.85 346.59 L496.7 347.62 L497.51 348.31 L496.91 348.66 L496.72 349.55 L496.1 350.03 L495.95 351.06 L495.75 351.75 L494.95 351.82 L494.37 351.27 L493.21 351.41 L492.25 350.93 L492.15 350.03 L491.55 349.34 L491.54 347.97M483.13 345.15 L484.47 345.42 L484.99 346.11 L485.92 346.94 L486.55 347.56 L487.59 348.31 L488.39 349 L488.2 349.69 L488.8 350.24 L489.7 350.93 L489.67 351.75 L489.5 352.99 L488.77 352.99 L488.31 352.44 L487.42 351.75 L486.66 350.86 L486.26 349.69 L485.6 348.86 L485.21 347.83 L484.53 347.07 L483.72 346.39 L483.13 345.15M489.16 353.68 L489.73 353.13 L491.11 353.54 L492.51 353.4 L493.65 353.74 L494.7 354.29 L494.6 354.91 L493.16 354.71 L491.67 354.36 L490.76 354.36 L489.86 354.09 L489.16 353.68M498.24 348.45 L498.84 348.11 L500.37 348.38 L501.27 347.9 L500.86 348.72 L499.16 348.66 L498.36 349.62 L499.15 349.62 L500.25 349.55 L500.24 349.83 L499.32 350.31 L499.9 351.34 L500.11 352.09 L499.66 352.64 L499.25 352.23 L498.79 351.54 L498.88 350.93 L498.43 351.41 L498.37 352.78 L497.83 352.78 L497.89 351.41 L497.48 350.93 L498.07 349.07 L498.24 348.45M504.93 349.55 L505.85 349.28 L506.76 349.55 L507.31 351.27 L507.95 350.51 L509.06 350.03 L510.08 350.51 L510.98 350.79 L512.17 351.34 L513.07 351.61 L513.82 352.44 L514.81 353.13 L514.94 353.81 L515.3 355.19 L516.36 356.08 L515.34 356.01 L514.3 355.53 L513.79 354.57 L512.9 354.29 L512.13 354.78 L511.47 355.33 L510.69 355.26 L510.03 354.57 L509.1 354.78 L509.48 353.81 L509.06 352.78 L507.58 352.09 L506.39 351.54 L505.95 351.82 L505.5 350.99 L506.55 350.65 L505.52 350.51 L504.93 349.55M515.44 352.85 L516.53 352.78 L517.62 351.89 L517.77 352.37 L516.94 353.13 L516.01 353.33 L515.44 352.85M500.07 356.08 L501 355.19 L502.25 354.78 L501.91 355.19 L500.95 355.74 L500.07 356.08M495.58 354.78 L496.49 354.71 L497.39 354.84 L498.61 354.84 L499.71 354.71 L499.68 355.05 L497.98 355.12 L496.15 355.19 L495.58 354.78M502.79 347.76 L503.1 348.31 L503.42 348.79 L503.11 349.48 L502.93 348.66 L502.79 347.76M503.07 351.06 L504.76 351.27 L503.97 351.41 L503.07 351.06M473.58 342.33 L473.89 342.47 L474.54 343.16 L474.95 344.19 L474.43 344.81 L473.82 344.87 L473.6 343.84 L473.58 342.33M455.05 357.25 L455.52 359.66 L455.14 360 L454.87 361.38 L454.2 363.1 L453.54 364.81 L453.07 366.19 L452.03 366.53 L451.29 366.19 L451.01 364.47 L451.7 363.1 L451.63 361.38 L452 360.14 L453.11 359.8 L454.06 358.97 L454.71 357.94 L455.05 357.25M511.49 356.36 L511.94 357.59 L511.87 358.83 L512.76 359.31 L512.85 361.03 L512.81 362.06 L513.68 362.75 L514.27 364.13 L514.82 365.02 L515.63 366.19 L515.5 367.56 L515.22 368.8 L514.31 370.32 L513.37 371.48 L512.19 372.38 L511.09 373.75 L510.36 374.78 L509.07 375.06 L507.68 375.81 L507.22 375.33 L506.18 375.67 L505.24 375.33 L504.68 374.78 L504.92 373.75 L504.19 373.48 L504.74 372.93 L504.89 371.69 L504.26 372.72 L503.64 373.2 L503.19 372.93 L503.1 372.1 L502.76 371.55 L501.82 371 L500.19 370.73 L498.26 371.21 L496.92 371.69 L496.38 372.31 L494.97 372.24 L493.95 372.65 L492.92 373.07 L491.8 373 L491.38 372.58 L492.06 371.69 L492.48 370.66 L492.41 369.63 L492.48 368.6 L492.36 367.29 L492.3 366.53 L492.82 365.16 L492.89 364.47 L493.27 363.99 L494.47 363.3 L495.38 363.16 L496.35 362.75 L497.6 362.48 L498.56 361.45 L498.69 360.69 L499.43 360.9 L499.79 360.21 L500.61 359.59 L501.33 358.76 L502.26 358.63 L502.53 359.24 L503.32 359.18 L503.51 358.28 L504.21 357.53 L505.33 357.32 L505.5 356.84 L506.95 357.39 L507.87 357.25 L507.33 358.14 L506.88 359.18 L507.67 359.86 L508.73 360.62 L509.36 361.1 L509.96 360.48 L510.53 358.97 L510.83 357.73 L511.28 356.56 L511.49 356.36M506.08 376.97 L506.91 377.24 L507.99 377.04 L507.46 377.86 L506.52 378.67 L505.55 378.88 L505.72 378.06 L506.08 376.97M524.53 372.65 L524.94 373.41 L525.14 374.3 L525.06 374.85 L526.2 374.85 L526.1 375.33 L524.73 376.15 L523.58 377.17 L522.54 377.58 L522.79 377.04 L523.03 376.01 L524.15 375.12 L524.7 374.1 L524.51 373.27 L524.53 372.65M521.82 376.83 L522.3 377.31 L521.77 377.86 L520.29 378.88 L518.98 379.42 L517.92 380.43 L516.76 380.97 L515.91 380.7 L515.64 380.36 L517.28 379.35 L519.02 378.54 L520.49 377.72 L521.82 376.83M523.22 362.82 L523.97 363.44 L524.63 364.33 L524.09 364.13 L523.4 363.3 L523.22 362.82M531.63 361.03 L532.39 361.1 L532.05 361.51 L531.53 361.45 L531.63 361.03M532.61 360.48 L533.45 360.21M519.38 352.92 L519.93 353.61M520.5 354.16 L522.13 354.78M522.07 355.39 L522.76 355.74M525.65 359.31 L525.86 360M432.33 322.88 L434.02 322.74 L433.89 323.56 L433.38 323.56 L432.34 323.15 L432.33 322.88M429.82 320.83 L430.6 320.83 L430.71 321.99 L430.04 322.19 L429.82 320.83M430.01 319.8 L430.44 319.46 L430.53 320.35 L430.14 320.42 L430.01 319.8M438.7 324.59 L440.32 324.8 L439.48 325 L438.72 324.8 L438.7 324.59M443.77 324.93 L444.43 324.66 L445.04 324.52 L444.7 325 L444.21 325.21 L443.77 324.93M461.83 382.58 L462.6 382.65 L462.29 383.05 L461.78 382.98 L461.83 382.58M457.5 340.34 L458.17 340.41M449.11 352.99 L449.23 353.4M505.08 318.45 L505.97 317.77M506.54 317.43 L507.01 316.63M506.96 315.55 L507.23 314.62M378.97 331.74 L379.12 332.36M379.56 330.64 L379.81 330.92M426.65 321.78 L427.1 321.71M434.31 309.98 L434.62 309.66M430.8 311.01 L431.45 310.88 L431.49 311.34 L430.93 311.34 L430.8 311.01M390.72 316.96 L391.73 317.16M391.15 314.89 L392.36 315.22M446.7 302.8 L447.04 302.57 L446.97 302.92 L446.7 302.8M481.26 339.86 L481.3 340.96M489.41 350.24 L490 350.86M501.97 351.27 L502.45 351.41M497.46 355.53 L498.34 355.88M494.74 354.64 L495.34 354.78 L495.07 355.05 L494.74 354.64M516.94 350.79 L517.94 351.54 L518.21 352.16M519.21 352.78 L519.81 353.61M387.01 306.83 L387.26 307.2M386.01 306.52 L386.61 306.71M383.21 312.71 L383.81 312.84M401.43 302.23 L402.41 302.46M391.4 307.95 L391.11 309.03" fill="none" stroke="#000" stroke-width="2.25" stroke-linejoin="round" stroke-linecap="round"/>
<path d="M373.5 302.8 L374.98 303.1 L377.48 302.8 L380.4 302.52 L381.95 301.1 L381.04 300.54 L378.93 300.54 L377.15 300.26 L375.24 300.82 L374.41 301.94 L373.5 302.8M371.93 301.1 L372.25 301.54 L373.52 301.38 L375.98 300.54 L377.06 299.99 L376.02 299.83 L373.88 299.88 L371.93 301.1M386.82 298.65 L388.94 298.92 L391.92 299.18 L392.34 299.61 L388.95 299.72 L387.41 299.61 L386.82 298.65M378.05 298.92 L380.28 298.76 L382.49 298.92 L382.04 299.45 L380.07 299.56 L378.56 299.45 L378.05 298.92M382.76 300.1 L384.95 299.99 L385.93 300.26 L385.58 301.1 L384.04 301.38 L383.18 301.38 L382.13 300.71 L382.76 300.1M388.97 296.91 L391.52 296.68 L392.09 297.15 L390.26 297.73 L388.43 297.63 L388.97 296.91M385.25 304.88 L386.76 304.7 L387.54 305.6 L386.21 306.21 L384.88 306.09 L385.25 304.88M356.07 400.61 L360.24 400.76 L365.78 401.55 L365.53 401.09 L368.08 400.85 L369.06 400.37 L372.07 399.86 L375.21 399.35 L379.58 399.61 L383.88 399.86 L384.91 399.08 L386.93 399.08 L389.75 399.08 L393.13 399.24 L394.67 398.71 L395.85 397.57 L395.59 395.89 L395.63 394.43 L396.81 393.24 L398.3 392.52 L397.87 393.54 L397.58 394.73 L398.65 395.89 L399.63 397.57 L400.75 398.66 L401.31 399.45 L406 400.56 L408.78 400.71 L411.46 400.71 L413.47 399.97 L415.27 399.45 L417.02 398.39 L419.37 397.57 L421 397.02 L423.11 396.74 L425.25 396.46 L429.56 396.46 L433.87 396.46 L438.29 396.06 L440.51 395.89 L442.8 395.6 L445.18 395.14 L447.64 394.55 L450.07 394.14 L451.94 394.9 L454.03 395.14 L456.03 395.48 L456.46 396.17 L457.68 396.29 L459.47 395.6 L461.85 394.73 L464.66 394.55 L468.03 394.26 L470.53 393.96 L472.38 394.43 L474.9 394.14 L476.75 394.55 L479.11 394.43 L481.48 394.32 L483.92 394.14 L486.18 394.14 L487.95 394.55 L489.97 394.73 L491.21 395.48 L492.85 395.89 L494.19 396.46 L496.08 396.62 L497.49 397.07 L496.97 397.63 L494.25 398.44 L491.1 399.24 L489.41 400.27 L489.65 400.52 L492.4 400.66 L494.43 400.61M382.3 300.54 L383.84 300.26 L383.92 300.82 L382.75 301.38 L381.95 301.1 L382.3 300.54M381.24 302.8 L383.04 302.52 L382.82 303.04 L381.66 303.1 L381.24 302.8M384.42 298.65 L386.02 298.65 L385.29 299.29 L383.89 299.45 L382.97 299.18 L384.42 298.65M386.11 299.29 L387.04 299.18 L386.79 299.61 L385.91 299.67 L386.11 299.29M376.03 298.92 L378.39 298.39 L378.82 298.65 L377.02 299.08 L376.03 298.92M384.76 297.48 L386.82 297.39 L386.57 297.88 L384.8 298.03 L384.76 297.48M391.28 300.37 L393.04 300.26 L393.16 300.65 L391.77 300.82 L391.28 300.37M385.47 302.23 L386.58 301.94 L386.55 302.52M390.07 302.52 L390.92 303.21 L390.95 303.86 L392.05 304.28M348.31 305 L348.9 305.6 L347.25 306.71 L346.58 307.64 L346.4 308.39 L346.78 309.34 L346.71 309.85 L344.41 310.82 L342.2 311.47M350.21 304.28 L351.57 304.28 L349.76 305.3 L350.3 305.79 L348.29 307.02 L347.89 307.95 L348.13 308.58 L348.05 309.53 L346.86 310.17" fill="none" stroke="#000" stroke-width="3.15" stroke-linejoin="round" stroke-linecap="round"/>
</g>
<path d="M487.91 403.12 L490.5 402.19 L493.28 401.09 L496.16 399.86 L498.97 398.55 L501.54 397.18 L503.94 395.77 L506.22 394.32 L508.44 392.82 L510.6 391.29 L512.7 389.73 L514.73 388.15 L516.68 386.53 L518.54 384.9 L520.29 383.25 L521.88 381.58 L523.38 379.89 L524.82 378.2 L526.17 376.49 L527.38 374.78 L528.48 373.07 L529.48 371.35 L530.37 369.63 L531.14 367.91 L531.79 366.19 L532.33 364.47 L532.8 362.75 L533.25 361.03 L533.65 359.31 L533.99 357.59 L534.25 355.88 L534.45 354.16 L534.6 352.44 L534.7 350.72 L534.75 349 L534.7 347.28 L534.6 345.56 L534.45 343.84 L534.25 342.12 L533.99 340.41 L533.65 338.69 L533.25 336.97 L532.8 335.25 L532.33 333.53 L531.79 331.81 L531.14 330.09 L530.37 328.37 L529.48 326.65 L528.48 324.93 L527.38 323.22 L526.17 321.51 L524.82 319.8 L523.38 318.11 L521.88 316.42 L520.29 314.75 L518.54 313.1 L516.68 311.47 L514.73 309.85 L512.7 308.27 L510.6 306.71 L508.44 305.18 L506.22 303.68 L503.94 302.23 L501.54 300.82 L498.97 299.45 L496.16 298.14 L493.28 296.91 L490.5 295.81 L487.91 294.88 L362.59 294.88 L360 295.81 L357.22 296.91 L354.34 298.14 L351.53 299.45 L348.96 300.82 L346.56 302.23 L344.28 303.68 L342.06 305.18 L339.9 306.71 L337.8 308.27 L335.77 309.85 L333.82 311.47 L331.96 313.1 L330.21 314.75 L328.62 316.42 L327.12 318.11 L325.68 319.8 L324.33 321.51 L323.12 323.22 L322.02 324.93 L321.02 326.65 L320.13 328.37 L319.36 330.09 L318.71 331.81 L318.17 333.53 L317.7 335.25 L317.25 336.97 L316.85 338.69 L316.51 340.41 L316.25 342.12 L316.05 343.84 L315.9 345.56 L315.8 347.28 L315.75 349 L315.8 350.72 L315.9 352.44 L316.05 354.16 L316.25 355.88 L316.51 357.59 L316.85 359.31 L317.25 361.03 L317.7 362.75 L318.17 364.47 L318.71 366.19 L319.36 367.91 L320.13 369.63 L321.02 371.35 L322.02 373.07 L323.12 374.78 L324.33 376.49 L325.68 378.2 L327.12 379.89 L328.62 381.58 L330.21 383.25 L331.96 384.9 L333.82 386.53 L335.77 388.15 L337.8 389.73 L339.9 391.29 L342.06 392.82 L344.28 394.32 L346.56 395.77 L348.96 397.18 L351.53 398.55 L354.34 399.86 L357.22 401.09 L360 402.19 L362.59 403.12 Z" fill="none" stroke="#000" stroke-width="1.7"/>
<text x="40.5" y="289.1" font-size="11.9">(c) Training Dust Distribution</text>
<text x="316.2" y="289.1" font-size="11.9">(d) Testing Dust Distribution</text>
<linearGradient id="cbc" x1="0" x2="1" y1="0" y2="0"><stop offset="0%" stop-color="#ffc77f"/><stop offset="5%" stop-color="#ffbd79"/><stop offset="10%" stop-color="#ffb372"/><stop offset="15%" stop-color="#ffa96c"/><stop offset="20%" stop-color="#fc9f65"/><stop offset="25%" stop-color="#ec955f"/><stop offset="30%" stop-color="#dc8b59"/><stop offset="35%" stop-color="#cd8152"/><stop offset="40%" stop-color="#bd784c"/><stop offset="45%" stop-color="#ad6e46"/><stop offset="50%" stop-color="#9d643f"/><stop offset="55%" stop-color="#8e5a39"/><stop offset="60%" stop-color="#7e5033"/><stop offset="65%" stop-color="#6e462c"/><stop offset="70%" stop-color="#5e3c26"/><stop offset="75%" stop-color="#4f3220"/><stop offset="80%" stop-color="#3f2819"/><stop offset="85%" stop-color="#2f1e13"/><stop offset="90%" stop-color="#1f140d"/><stop offset="95%" stop-color="#100a06"/><stop offset="100%" stop-color="#000000"/></linearGradient>
<rect x="50.5" y="415.5" width="198.1" height="15.6" fill="url(#cbc)" stroke="#000" stroke-width="0.8"/>
<path d="M50.5 431.1v3.5" stroke="#000" stroke-width="0.8"/>
<text x="50.5" y="445.9" text-anchor="middle" font-size="10">0</text>
<path d="M90.12 431.1v3.5" stroke="#000" stroke-width="0.8"/>
<text x="90.12" y="445.9" text-anchor="middle" font-size="10">20</text>
<path d="M129.74 431.1v3.5" stroke="#000" stroke-width="0.8"/>
<text x="129.74" y="445.9" text-anchor="middle" font-size="10">40</text>
<path d="M169.36 431.1v3.5" stroke="#000" stroke-width="0.8"/>
<text x="169.36" y="445.9" text-anchor="middle" font-size="10">60</text>
<path d="M208.98 431.1v3.5" stroke="#000" stroke-width="0.8"/>
<text x="208.98" y="445.9" text-anchor="middle" font-size="10">80</text>
<path d="M248.6 431.1v3.5" stroke="#000" stroke-width="0.8"/>
<text x="248.6" y="445.9" text-anchor="middle" font-size="10">100</text>
<text x="149.55" y="459" text-anchor="middle" font-size="10">Dust Fraction (%)</text>
<linearGradient id="cbd" x1="0" x2="1" y1="0" y2="0"><stop offset="0%" stop-color="#ffc77f"/><stop offset="5%" stop-color="#ffbd79"/><stop offset="10%" stop-color="#ffb372"/><stop offset="15%" stop-color="#ffa96c"/><stop offset="20%" stop-color="#fc9f65"/><stop offset="25%" stop-color="#ec955f"/><stop offset="30%" stop-color="#dc8b59"/><stop offset="35%" stop-color="#cd8152"/><stop offset="40%" stop-color="#bd784c"/><stop offset="45%" stop-color="#ad6e46"/><stop offset="50%" stop-color="#9d643f"/><stop offset="55%" stop-color="#8e5a39"/><stop offset="60%" stop-color="#7e5033"/><stop offset="65%" stop-color="#6e462c"/><stop offset="70%" stop-color="#5e3c26"/><stop offset="75%" stop-color="#4f3220"/><stop offset="80%" stop-color="#3f2819"/><stop offset="85%" stop-color="#2f1e13"/><stop offset="90%" stop-color="#1f140d"/><stop offset="95%" stop-color="#100a06"/><stop offset="100%" stop-color="#000000"/></linearGradient>
<rect x="326.15" y="415.5" width="198.1" height="15.6" fill="url(#cbd)" stroke="#000" stroke-width="0.8"/>
<path d="M326.15 431.1v3.5" stroke="#000" stroke-width="0.8"/>
<text x="326.15" y="445.9" text-anchor="middle" font-size="10">0</text>
<path d="M365.77 431.1v3.5" stroke="#000" stroke-width="0.8"/>
<text x="365.77" y="445.9" text-anchor="middle" font-size="10">20</text>
<path d="M405.39 431.1v3.5" stroke="#000" stroke-width="0.8"/>
<text x="405.39" y="445.9" text-anchor="middle" font-size="10">40</text>
<path d="M445.01 431.1v3.5" stroke="#000" stroke-width="0.8"/>
<text x="445.01" y="445.9" text-anchor="middle" font-size="10">60</text>
<path d="M484.63 431.1v3.5" stroke="#000" stroke-width="0.8"/>
<text x="484.63" y="445.9" text-anchor="middle" font-size="10">80</text>
<path d="M524.25 431.1v3.5" stroke="#000" stroke-width="0.8"/>
<text x="524.25" y="445.9" text-anchor="middle" font-size="10">100</text>
<text x="425.2" y="459" text-anchor="middle" font-size="10">Dust Fraction (%)</text>
</svg>
</body></html>
